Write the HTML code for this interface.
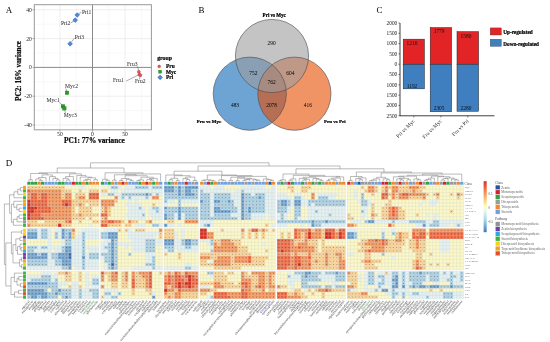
<!DOCTYPE html>
<html><head><meta charset="utf-8"><style>
html,body{margin:0;padding:0;background:#fff;}
body{width:550px;height:342px;overflow:hidden;}
svg{display:block;font-family:'Liberation Serif', serif;will-change:transform;}
text[font-weight=bold]{stroke:#000;stroke-width:0.22px;}
.lbl{stroke:#000;stroke-width:0.25px;}
</style></head><body>
<svg width="550" height="342" viewBox="0 0 550 342">
<rect width="550" height="342" fill="#fff"/>
<rect x="34.3" y="4.7" width="117.10000000000001" height="125.10000000000001" fill="#fff"/>
<line x1="43.60" y1="4.7" x2="43.60" y2="129.8" stroke="#f0f0f0" stroke-width="0.5"/>
<line x1="76.20" y1="4.7" x2="76.20" y2="129.8" stroke="#f0f0f0" stroke-width="0.5"/>
<line x1="108.80" y1="4.7" x2="108.80" y2="129.8" stroke="#f0f0f0" stroke-width="0.5"/>
<line x1="141.40" y1="4.7" x2="141.40" y2="129.8" stroke="#f0f0f0" stroke-width="0.5"/>
<line x1="59.90" y1="4.7" x2="59.90" y2="129.8" stroke="#e6e6e6" stroke-width="0.7"/>
<line x1="125.10" y1="4.7" x2="125.10" y2="129.8" stroke="#e6e6e6" stroke-width="0.7"/>
<line x1="34.3" y1="24.20" x2="151.4" y2="24.20" stroke="#f0f0f0" stroke-width="0.5"/>
<line x1="34.3" y1="53.00" x2="151.4" y2="53.00" stroke="#f0f0f0" stroke-width="0.5"/>
<line x1="34.3" y1="81.80" x2="151.4" y2="81.80" stroke="#f0f0f0" stroke-width="0.5"/>
<line x1="34.3" y1="110.60" x2="151.4" y2="110.60" stroke="#f0f0f0" stroke-width="0.5"/>
<line x1="34.3" y1="9.80" x2="151.4" y2="9.80" stroke="#e6e6e6" stroke-width="0.7"/>
<line x1="34.3" y1="38.60" x2="151.4" y2="38.60" stroke="#e6e6e6" stroke-width="0.7"/>
<line x1="34.3" y1="96.20" x2="151.4" y2="96.20" stroke="#e6e6e6" stroke-width="0.7"/>
<line x1="34.3" y1="125.00" x2="151.4" y2="125.00" stroke="#e6e6e6" stroke-width="0.7"/>
<line x1="92.5" y1="4.7" x2="92.5" y2="129.8" stroke="#8a8a8a" stroke-width="1"/>
<line x1="34.3" y1="67.4" x2="151.4" y2="67.4" stroke="#8a8a8a" stroke-width="1"/>
<rect x="34.3" y="4.7" width="117.10000000000001" height="125.10000000000001" fill="none" stroke="#9a9a9a" stroke-width="1"/>
<line x1="32.5" y1="9.80" x2="34.3" y2="9.80" stroke="#555" stroke-width="0.5"/>
<text x="31.799999999999997" y="11.70" font-size="5.6" text-anchor="end" fill="#222">40</text>
<line x1="32.5" y1="38.60" x2="34.3" y2="38.60" stroke="#555" stroke-width="0.5"/>
<text x="31.799999999999997" y="40.50" font-size="5.6" text-anchor="end" fill="#222">20</text>
<line x1="32.5" y1="67.40" x2="34.3" y2="67.40" stroke="#555" stroke-width="0.5"/>
<text x="31.799999999999997" y="69.30" font-size="5.6" text-anchor="end" fill="#222">0</text>
<line x1="32.5" y1="96.20" x2="34.3" y2="96.20" stroke="#555" stroke-width="0.5"/>
<text x="31.799999999999997" y="98.10" font-size="5.6" text-anchor="end" fill="#222">-20</text>
<line x1="32.5" y1="125.00" x2="34.3" y2="125.00" stroke="#555" stroke-width="0.5"/>
<text x="31.799999999999997" y="126.90" font-size="5.6" text-anchor="end" fill="#222">-40</text>
<line x1="59.90" y1="129.8" x2="59.90" y2="131.60000000000002" stroke="#555" stroke-width="0.5"/>
<text x="59.90" y="135.70000000000002" font-size="5.6" text-anchor="middle" fill="#222">50</text>
<line x1="92.50" y1="129.8" x2="92.50" y2="131.60000000000002" stroke="#555" stroke-width="0.5"/>
<text x="92.50" y="135.70000000000002" font-size="5.6" text-anchor="middle" fill="#222">0</text>
<line x1="125.10" y1="129.8" x2="125.10" y2="131.60000000000002" stroke="#555" stroke-width="0.5"/>
<text x="125.10" y="135.70000000000002" font-size="5.6" text-anchor="middle" fill="#222">50</text>
<text x="94.4" y="143.4" font-size="7.3" font-weight="bold" text-anchor="middle" fill="#111">PC1: 77% variance</text>
<text transform="translate(20.9,71) rotate(-90)" x="0" y="0" font-size="7.2" font-weight="bold" text-anchor="middle" fill="#111">PC2: 16% variance</text>
<line x1="81.5" y1="12.3" x2="78.6" y2="13.6" stroke="#444" stroke-width="0.45"/>
<line x1="70.5" y1="23" x2="74.2" y2="21" stroke="#444" stroke-width="0.45"/>
<line x1="74.5" y1="38" x2="71.5" y2="42" stroke="#444" stroke-width="0.45"/>
<line x1="65.8" y1="88.5" x2="66.6" y2="91.2" stroke="#444" stroke-width="0.45"/>
<line x1="59.5" y1="102.5" x2="62.3" y2="105" stroke="#444" stroke-width="0.45"/>
<line x1="65.5" y1="113.5" x2="64.8" y2="110.5" stroke="#444" stroke-width="0.45"/>
<line x1="137.3" y1="66.5" x2="138.8" y2="70.5" stroke="#444" stroke-width="0.45"/>
<line x1="126.2" y1="81" x2="138.8" y2="74.8" stroke="#444" stroke-width="0.45"/>
<line x1="139.5" y1="79.5" x2="140" y2="76" stroke="#444" stroke-width="0.45"/>
<path d="M77.2 12.65 L79.55 15.0 L77.2 17.35 L74.85000000000001 15.0 Z" fill="#4a8ae0" stroke="#24509a" stroke-width="0.5"/>
<path d="M75.2 17.75 L77.55 20.1 L75.2 22.450000000000003 L72.85000000000001 20.1 Z" fill="#4a8ae0" stroke="#24509a" stroke-width="0.5"/>
<path d="M70.1 41.449999999999996 L72.44999999999999 43.8 L70.1 46.15 L67.75 43.8 Z" fill="#4a8ae0" stroke="#24509a" stroke-width="0.5"/>
<rect x="65.2" y="91.0" width="3.6" height="3.6" fill="#22a022" stroke="#157015" stroke-width="0.3"/>
<rect x="61.2" y="104.5" width="3.6" height="3.6" fill="#22a022" stroke="#157015" stroke-width="0.3"/>
<rect x="62.5" y="106.5" width="3.6" height="3.6" fill="#22a022" stroke="#157015" stroke-width="0.3"/>
<circle cx="138.8" cy="71.8" r="1.5" fill="#e05a5a" stroke="#a83030" stroke-width="0.4"/>
<circle cx="139.4" cy="74.6" r="1.5" fill="#e05a5a" stroke="#a83030" stroke-width="0.4"/>
<circle cx="140.4" cy="75.2" r="1.5" fill="#e05a5a" stroke="#a83030" stroke-width="0.4"/>
<text x="82" y="14.4" font-size="5.6" fill="#1a1a1a">Pri1</text>
<text x="61" y="24.8" font-size="5.6" fill="#1a1a1a">Pri2</text>
<text x="74.7" y="38.6" font-size="5.6" fill="#1a1a1a">Pri3</text>
<text x="65" y="88" font-size="5.6" fill="#1a1a1a">Myc2</text>
<text x="46.6" y="101.8" font-size="5.6" fill="#1a1a1a">Myc1</text>
<text x="63.7" y="117.4" font-size="5.6" fill="#1a1a1a">Myc3</text>
<text x="127" y="65.8" font-size="5.6" fill="#1a1a1a">Fru3</text>
<text x="113" y="82.4" font-size="5.6" fill="#1a1a1a">Fru1</text>
<text x="135" y="83.4" font-size="5.6" fill="#1a1a1a">Fru2</text>
<text x="157.2" y="60" font-size="5.8" font-weight="bold" fill="#111">group</text>
<circle cx="159.2" cy="66.4" r="1.4" fill="#e05a5a" stroke="#a83030" stroke-width="0.4"/>
<rect x="158.6" y="70.2" width="3.0" height="3.0" fill="#22a022" stroke="#157015" stroke-width="0.3"/>
<path d="M160.1 75.10000000000001 L162.4 77.4 L160.1 79.7 L157.79999999999998 77.4 Z" fill="#4a8ae0" stroke="#24509a" stroke-width="0.5"/>
<text x="166" y="68.2" font-size="5.4" font-weight="bold" fill="#111">Fru</text>
<text x="166" y="73.5" font-size="5.4" font-weight="bold" fill="#111">Myc</text>
<text x="166" y="79.2" font-size="5.4" font-weight="bold" fill="#111">Pri</text>
<text x="5.8" y="13.2" font-size="9" fill="#000">A</text>
<text x="198.6" y="13.3" font-size="9" fill="#000">B</text>
<circle cx="249.8" cy="93.7" r="36.6" fill="#0d67b7" fill-opacity="0.6"/>
<circle cx="294.4" cy="93.7" r="36.6" fill="#e64d00" fill-opacity="0.6"/>
<circle cx="272.0" cy="56.0" r="36.6" fill="#9d9d9d" fill-opacity="0.6"/>
<circle cx="249.8" cy="93.7" r="36.6" fill="none" stroke="#4a4a4a" stroke-width="0.6"/>
<circle cx="294.4" cy="93.7" r="36.6" fill="none" stroke="#4a4a4a" stroke-width="0.6"/>
<circle cx="272.0" cy="56.0" r="36.6" fill="none" stroke="#4a4a4a" stroke-width="0.6"/>
<text x="271.6" y="44.5" font-size="5.4" text-anchor="middle" fill="#000">290</text>
<text x="253.4" y="75.30000000000001" font-size="5.4" text-anchor="middle" fill="#000">752</text>
<text x="290.3" y="74.5" font-size="5.4" text-anchor="middle" fill="#000">604</text>
<text x="271.6" y="84.10000000000001" font-size="5.4" text-anchor="middle" fill="#000">762</text>
<text x="235.0" y="106.80000000000001" font-size="5.4" text-anchor="middle" fill="#000">483</text>
<text x="271.6" y="107.10000000000001" font-size="5.4" text-anchor="middle" fill="#000">2078</text>
<text x="307.9" y="107.10000000000001" font-size="5.4" text-anchor="middle" fill="#000">416</text>
<text x="274.2" y="16.6" font-size="5.05" font-weight="bold" text-anchor="middle" fill="#000">Pri vs Myc</text>
<text x="196.8" y="123.1" font-size="5.0" font-weight="bold" fill="#000">Fru vs Myc</text>
<text x="324.0" y="123.1" font-size="5.0" font-weight="bold" fill="#000">Fru vs Pri</text>
<text x="376.6" y="13.3" font-size="9" fill="#000">C</text>
<line x1="400.0" y1="22.999999999999993" x2="400.0" y2="116.08999999999999" stroke="#111" stroke-width="0.8"/>
<line x1="400.0" y1="115.78999999999999" x2="494.5" y2="115.78999999999999" stroke="#111" stroke-width="0.8"/>
<line x1="398.4" y1="23.00" x2="400.0" y2="23.00" stroke="#111" stroke-width="0.5"/>
<text x="397.2" y="24.80" font-size="5.3" text-anchor="end" fill="#111">2000</text>
<line x1="398.4" y1="33.31" x2="400.0" y2="33.31" stroke="#111" stroke-width="0.5"/>
<text x="397.2" y="35.11" font-size="5.3" text-anchor="end" fill="#111">1500</text>
<line x1="398.4" y1="43.62" x2="400.0" y2="43.62" stroke="#111" stroke-width="0.5"/>
<text x="397.2" y="45.42" font-size="5.3" text-anchor="end" fill="#111">1000</text>
<line x1="398.4" y1="53.93" x2="400.0" y2="53.93" stroke="#111" stroke-width="0.5"/>
<text x="397.2" y="55.73" font-size="5.3" text-anchor="end" fill="#111">500</text>
<line x1="398.4" y1="64.24" x2="400.0" y2="64.24" stroke="#111" stroke-width="0.5"/>
<text x="397.2" y="66.04" font-size="5.3" text-anchor="end" fill="#111">0</text>
<line x1="398.4" y1="74.55" x2="400.0" y2="74.55" stroke="#111" stroke-width="0.5"/>
<text x="397.2" y="76.35" font-size="5.3" text-anchor="end" fill="#111">500</text>
<line x1="398.4" y1="84.86" x2="400.0" y2="84.86" stroke="#111" stroke-width="0.5"/>
<text x="397.2" y="86.66" font-size="5.3" text-anchor="end" fill="#111">1000</text>
<line x1="398.4" y1="95.17" x2="400.0" y2="95.17" stroke="#111" stroke-width="0.5"/>
<text x="397.2" y="96.97" font-size="5.3" text-anchor="end" fill="#111">1500</text>
<line x1="398.4" y1="105.48" x2="400.0" y2="105.48" stroke="#111" stroke-width="0.5"/>
<text x="397.2" y="107.28" font-size="5.3" text-anchor="end" fill="#111">2000</text>
<line x1="398.4" y1="115.79" x2="400.0" y2="115.79" stroke="#111" stroke-width="0.5"/>
<text x="397.2" y="117.59" font-size="5.3" text-anchor="end" fill="#111">2500</text>
<rect x="403.2" y="39.17" width="21.19999999999999" height="25.07" fill="#e32426" stroke="#222" stroke-width="0.5"/>
<rect x="403.2" y="64.24" width="21.19999999999999" height="24.58" fill="#3f7fc0" stroke="#222" stroke-width="0.5"/>
<text x="412.00" y="45.07" font-size="5.4" text-anchor="middle" fill="#111">1216</text>
<text x="412.00" y="87.52" font-size="5.4" text-anchor="middle" fill="#111">1192</text>
<line x1="413.80" y1="115.78999999999999" x2="413.80" y2="117.49" stroke="#111" stroke-width="0.5"/>
<rect x="430.2" y="27.56" width="21.400000000000034" height="36.68" fill="#e32426" stroke="#222" stroke-width="0.5"/>
<rect x="430.2" y="64.24" width="21.400000000000034" height="47.53" fill="#3f7fc0" stroke="#222" stroke-width="0.5"/>
<text x="439.10" y="33.46" font-size="5.4" text-anchor="middle" fill="#111">1779</text>
<text x="439.10" y="110.47" font-size="5.4" text-anchor="middle" fill="#111">2305</text>
<line x1="440.90" y1="115.78999999999999" x2="440.90" y2="117.49" stroke="#111" stroke-width="0.5"/>
<rect x="457.0" y="31.66" width="21.600000000000023" height="32.58" fill="#e32426" stroke="#222" stroke-width="0.5"/>
<rect x="457.0" y="64.24" width="21.600000000000023" height="47.01" fill="#3f7fc0" stroke="#222" stroke-width="0.5"/>
<text x="466.00" y="37.56" font-size="5.4" text-anchor="middle" fill="#111">1580</text>
<text x="466.00" y="109.95" font-size="5.4" text-anchor="middle" fill="#111">2280</text>
<line x1="467.80" y1="115.78999999999999" x2="467.80" y2="117.49" stroke="#111" stroke-width="0.5"/>
<text transform="translate(415.00,121.4) rotate(-45)" x="0" y="0" font-size="5.4" text-anchor="end" fill="#222">Pri vs Myc</text>
<text transform="translate(442.10,121.4) rotate(-45)" x="0" y="0" font-size="5.4" text-anchor="end" fill="#222">Fru vs Myc</text>
<text transform="translate(469.00,121.4) rotate(-45)" x="0" y="0" font-size="5.4" text-anchor="end" fill="#222">Fru vs Pri</text>
<rect x="490.2" y="27.9" width="11.2" height="7.1" fill="#e32426" stroke="#333" stroke-width="0.3"/>
<rect x="490.2" y="39.2" width="11.2" height="7.2" fill="#3f7fc0" stroke="#333" stroke-width="0.3"/>
<text x="503.3" y="34.3" font-size="5.2" font-weight="bold" fill="#111">Up-regulated</text>
<text x="503.3" y="45.5" font-size="5.2" font-weight="bold" fill="#111">Down-regulated</text>
<text x="5.8" y="166.4" font-size="9" fill="#000">D</text>
<path fill="#4a78b8" d="M68.24 252.61h3.42v3.43h-3.42zM68.24 256.04h3.42v3.43h-3.42zM111.03 262.90h3.42v3.43h-3.42z"/>
<path fill="#78a8d2" d="M27.20 232.03h3.42v3.43h-3.42zM27.20 235.46h3.42v3.43h-3.42zM27.20 252.61h3.42v3.43h-3.42zM27.20 256.04h3.42v3.43h-3.42zM27.20 281.69h3.42v3.43h-3.42zM27.20 288.55h3.42v3.43h-3.42zM27.20 291.98h3.42v3.43h-3.42zM30.62 232.03h3.42v3.43h-3.42zM30.62 235.46h3.42v3.43h-3.42zM30.62 252.61h3.42v3.43h-3.42zM30.62 256.04h3.42v3.43h-3.42zM30.62 281.69h3.42v3.43h-3.42zM30.62 288.55h3.42v3.43h-3.42zM30.62 291.98h3.42v3.43h-3.42zM30.62 295.41h3.42v3.43h-3.42zM34.04 232.03h3.42v3.43h-3.42zM34.04 235.46h3.42v3.43h-3.42zM34.04 252.61h3.42v3.43h-3.42zM34.04 256.04h3.42v3.43h-3.42zM34.04 281.69h3.42v3.43h-3.42zM34.04 288.55h3.42v3.43h-3.42zM34.04 291.98h3.42v3.43h-3.42zM34.04 295.41h3.42v3.43h-3.42zM37.46 256.04h3.42v3.43h-3.42zM37.46 281.69h3.42v3.43h-3.42zM37.46 288.55h3.42v3.43h-3.42zM37.46 291.98h3.42v3.43h-3.42zM40.88 252.61h3.42v3.43h-3.42zM40.88 256.04h3.42v3.43h-3.42zM40.88 281.69h3.42v3.43h-3.42zM40.88 288.55h3.42v3.43h-3.42zM40.88 291.98h3.42v3.43h-3.42zM40.88 295.41h3.42v3.43h-3.42zM44.30 252.61h3.42v3.43h-3.42zM44.30 256.04h3.42v3.43h-3.42zM44.30 281.69h3.42v3.43h-3.42zM44.30 291.98h3.42v3.43h-3.42zM44.30 295.41h3.42v3.43h-3.42zM54.56 291.98h3.42v3.43h-3.42zM57.98 252.61h3.42v3.43h-3.42zM57.98 256.04h3.42v3.43h-3.42zM57.98 288.55h3.42v3.43h-3.42zM61.40 228.60h3.42v3.43h-3.42zM61.40 232.03h3.42v3.43h-3.42zM61.40 235.46h3.42v3.43h-3.42zM61.40 252.61h3.42v3.43h-3.42zM61.40 256.04h3.42v3.43h-3.42zM61.40 259.47h3.42v3.43h-3.42zM61.40 262.90h3.42v3.43h-3.42zM64.82 245.75h3.42v3.43h-3.42zM64.82 249.18h3.42v3.43h-3.42zM64.82 252.61h3.42v3.43h-3.42zM64.82 256.04h3.42v3.43h-3.42zM64.82 259.47h3.42v3.43h-3.42zM64.82 262.90h3.42v3.43h-3.42zM64.82 295.41h3.42v3.43h-3.42zM68.24 232.03h3.42v3.43h-3.42zM68.24 235.46h3.42v3.43h-3.42zM68.24 245.75h3.42v3.43h-3.42zM68.24 249.18h3.42v3.43h-3.42zM68.24 259.47h3.42v3.43h-3.42zM68.24 262.90h3.42v3.43h-3.42zM68.24 266.33h3.42v3.43h-3.42zM81.92 256.04h3.42v3.43h-3.42zM107.61 232.03h3.42v3.43h-3.42zM107.61 235.46h3.42v3.43h-3.42zM111.03 232.03h3.42v3.43h-3.42zM111.03 235.46h3.42v3.43h-3.42zM111.03 238.89h3.42v3.43h-3.42zM111.03 242.32h3.42v3.43h-3.42zM111.03 245.75h3.42v3.43h-3.42zM111.03 249.18h3.42v3.43h-3.42zM111.03 252.61h3.42v3.43h-3.42zM111.03 256.04h3.42v3.43h-3.42zM111.03 259.47h3.42v3.43h-3.42zM111.03 266.33h3.42v3.43h-3.42zM114.45 232.03h3.42v3.43h-3.42zM114.45 235.46h3.42v3.43h-3.42zM145.23 192.66h3.42v3.43h-3.42zM152.07 295.41h3.42v3.43h-3.42zM164.08 185.80h3.42v3.43h-3.42zM164.08 189.23h3.42v3.43h-3.42zM164.08 206.38h3.42v3.43h-3.42zM164.08 213.24h3.42v3.43h-3.42zM164.08 216.67h3.42v3.43h-3.42zM164.08 223.53h3.42v3.43h-3.42zM164.08 238.89h3.42v3.43h-3.42zM164.08 242.32h3.42v3.43h-3.42zM167.50 185.80h3.42v3.43h-3.42zM167.50 189.23h3.42v3.43h-3.42zM167.50 238.89h3.42v3.43h-3.42zM167.50 242.32h3.42v3.43h-3.42zM170.92 185.80h3.42v3.43h-3.42zM170.92 189.23h3.42v3.43h-3.42zM170.92 238.89h3.42v3.43h-3.42zM170.92 242.32h3.42v3.43h-3.42zM177.76 185.80h3.42v3.43h-3.42zM177.76 189.23h3.42v3.43h-3.42zM177.76 192.66h3.42v3.43h-3.42zM177.76 206.38h3.42v3.43h-3.42zM177.76 209.81h3.42v3.43h-3.42zM177.76 213.24h3.42v3.43h-3.42zM177.76 216.67h3.42v3.43h-3.42zM184.60 185.80h3.42v3.43h-3.42zM184.60 189.23h3.42v3.43h-3.42zM184.60 192.66h3.42v3.43h-3.42zM184.60 238.89h3.42v3.43h-3.42zM184.60 242.32h3.42v3.43h-3.42zM188.02 185.80h3.42v3.43h-3.42zM188.02 189.23h3.42v3.43h-3.42zM188.02 192.66h3.42v3.43h-3.42zM188.02 238.89h3.42v3.43h-3.42zM188.02 242.32h3.42v3.43h-3.42zM191.44 185.80h3.42v3.43h-3.42zM191.44 192.66h3.42v3.43h-3.42zM194.86 185.80h3.42v3.43h-3.42zM200.03 199.52h3.42v3.43h-3.42zM206.87 223.53h3.42v3.43h-3.42zM213.71 199.52h3.42v3.43h-3.42zM213.71 206.38h3.42v3.43h-3.42zM213.71 209.81h3.42v3.43h-3.42zM217.13 199.52h3.42v3.43h-3.42zM217.13 206.38h3.42v3.43h-3.42zM217.13 209.81h3.42v3.43h-3.42zM220.55 209.81h3.42v3.43h-3.42zM223.97 209.81h3.42v3.43h-3.42zM227.39 199.52h3.42v3.43h-3.42zM227.39 209.81h3.42v3.43h-3.42zM241.07 192.66h3.42v3.43h-3.42zM241.07 196.09h3.42v3.43h-3.42zM241.07 199.52h3.42v3.43h-3.42zM241.07 202.95h3.42v3.43h-3.42zM241.07 206.38h3.42v3.43h-3.42zM241.07 209.81h3.42v3.43h-3.42zM241.07 213.24h3.42v3.43h-3.42zM241.07 216.67h3.42v3.43h-3.42zM247.91 206.38h3.42v3.43h-3.42zM247.91 209.81h3.42v3.43h-3.42zM258.17 196.09h3.42v3.43h-3.42zM280.44 199.52h3.42v3.43h-3.42zM280.44 202.95h3.42v3.43h-3.42zM283.86 199.52h3.42v3.43h-3.42zM283.86 202.95h3.42v3.43h-3.42zM294.12 199.52h3.42v3.43h-3.42zM294.12 202.95h3.42v3.43h-3.42zM297.54 199.52h3.42v3.43h-3.42zM297.54 202.95h3.42v3.43h-3.42zM304.38 271.40h3.42v3.43h-3.42zM304.38 274.83h3.42v3.43h-3.42zM307.80 271.40h3.42v3.43h-3.42zM311.22 220.10h3.42v3.43h-3.42zM311.22 223.53h3.42v3.43h-3.42zM324.90 220.10h3.42v3.43h-3.42zM335.16 271.40h3.42v3.43h-3.42zM347.17 232.03h3.42v3.43h-3.42zM347.17 235.46h3.42v3.43h-3.42zM350.59 232.03h3.42v3.43h-3.42zM350.59 235.46h3.42v3.43h-3.42zM367.69 220.10h3.42v3.43h-3.42zM371.11 220.10h3.42v3.43h-3.42zM381.37 288.55h3.42v3.43h-3.42zM384.79 288.55h3.42v3.43h-3.42zM391.63 278.26h3.42v3.43h-3.42zM391.63 285.12h3.42v3.43h-3.42zM395.05 274.83h3.42v3.43h-3.42zM395.05 278.26h3.42v3.43h-3.42zM395.05 281.69h3.42v3.43h-3.42zM395.05 285.12h3.42v3.43h-3.42zM401.89 285.12h3.42v3.43h-3.42zM412.15 285.12h3.42v3.43h-3.42zM418.99 271.40h3.42v3.43h-3.42zM418.99 285.12h3.42v3.43h-3.42zM422.41 223.53h3.42v3.43h-3.42zM422.41 285.12h3.42v3.43h-3.42zM429.25 285.12h3.42v3.43h-3.42zM432.67 285.12h3.42v3.43h-3.42zM436.09 285.12h3.42v3.43h-3.42zM449.77 285.12h3.42v3.43h-3.42z"/>
<path fill="#b0d4e6" d="M27.20 228.60h3.42v3.43h-3.42zM27.20 245.75h3.42v3.43h-3.42zM27.20 249.18h3.42v3.43h-3.42zM27.20 259.47h3.42v3.43h-3.42zM27.20 262.90h3.42v3.43h-3.42zM27.20 285.12h3.42v3.43h-3.42zM27.20 295.41h3.42v3.43h-3.42zM30.62 228.60h3.42v3.43h-3.42zM30.62 245.75h3.42v3.43h-3.42zM30.62 249.18h3.42v3.43h-3.42zM30.62 259.47h3.42v3.43h-3.42zM30.62 262.90h3.42v3.43h-3.42zM30.62 278.26h3.42v3.43h-3.42zM30.62 285.12h3.42v3.43h-3.42zM34.04 228.60h3.42v3.43h-3.42zM34.04 245.75h3.42v3.43h-3.42zM34.04 259.47h3.42v3.43h-3.42zM34.04 262.90h3.42v3.43h-3.42zM34.04 278.26h3.42v3.43h-3.42zM34.04 285.12h3.42v3.43h-3.42zM37.46 252.61h3.42v3.43h-3.42zM37.46 259.47h3.42v3.43h-3.42zM37.46 262.90h3.42v3.43h-3.42zM37.46 278.26h3.42v3.43h-3.42zM37.46 285.12h3.42v3.43h-3.42zM37.46 295.41h3.42v3.43h-3.42zM40.88 228.60h3.42v3.43h-3.42zM40.88 232.03h3.42v3.43h-3.42zM40.88 235.46h3.42v3.43h-3.42zM40.88 245.75h3.42v3.43h-3.42zM40.88 259.47h3.42v3.43h-3.42zM40.88 262.90h3.42v3.43h-3.42zM40.88 274.83h3.42v3.43h-3.42zM40.88 278.26h3.42v3.43h-3.42zM40.88 285.12h3.42v3.43h-3.42zM44.30 228.60h3.42v3.43h-3.42zM44.30 232.03h3.42v3.43h-3.42zM44.30 235.46h3.42v3.43h-3.42zM44.30 245.75h3.42v3.43h-3.42zM44.30 259.47h3.42v3.43h-3.42zM44.30 262.90h3.42v3.43h-3.42zM44.30 274.83h3.42v3.43h-3.42zM44.30 278.26h3.42v3.43h-3.42zM44.30 285.12h3.42v3.43h-3.42zM44.30 288.55h3.42v3.43h-3.42zM47.72 274.83h3.42v3.43h-3.42zM47.72 278.26h3.42v3.43h-3.42zM47.72 281.69h3.42v3.43h-3.42zM47.72 285.12h3.42v3.43h-3.42zM47.72 291.98h3.42v3.43h-3.42zM47.72 295.41h3.42v3.43h-3.42zM51.14 252.61h3.42v3.43h-3.42zM51.14 256.04h3.42v3.43h-3.42zM51.14 281.69h3.42v3.43h-3.42zM51.14 285.12h3.42v3.43h-3.42zM51.14 288.55h3.42v3.43h-3.42zM51.14 291.98h3.42v3.43h-3.42zM51.14 295.41h3.42v3.43h-3.42zM54.56 232.03h3.42v3.43h-3.42zM54.56 235.46h3.42v3.43h-3.42zM54.56 252.61h3.42v3.43h-3.42zM54.56 256.04h3.42v3.43h-3.42zM54.56 259.47h3.42v3.43h-3.42zM54.56 262.90h3.42v3.43h-3.42zM54.56 278.26h3.42v3.43h-3.42zM54.56 281.69h3.42v3.43h-3.42zM54.56 285.12h3.42v3.43h-3.42zM54.56 288.55h3.42v3.43h-3.42zM54.56 295.41h3.42v3.43h-3.42zM57.98 259.47h3.42v3.43h-3.42zM57.98 262.90h3.42v3.43h-3.42zM57.98 291.98h3.42v3.43h-3.42zM61.40 245.75h3.42v3.43h-3.42zM61.40 249.18h3.42v3.43h-3.42zM61.40 266.33h3.42v3.43h-3.42zM61.40 288.55h3.42v3.43h-3.42zM61.40 291.98h3.42v3.43h-3.42zM61.40 295.41h3.42v3.43h-3.42zM64.82 228.60h3.42v3.43h-3.42zM64.82 232.03h3.42v3.43h-3.42zM64.82 235.46h3.42v3.43h-3.42zM64.82 238.89h3.42v3.43h-3.42zM64.82 242.32h3.42v3.43h-3.42zM64.82 266.33h3.42v3.43h-3.42zM64.82 288.55h3.42v3.43h-3.42zM64.82 291.98h3.42v3.43h-3.42zM68.24 228.60h3.42v3.43h-3.42zM68.24 238.89h3.42v3.43h-3.42zM68.24 242.32h3.42v3.43h-3.42zM68.24 288.55h3.42v3.43h-3.42zM68.24 291.98h3.42v3.43h-3.42zM68.24 295.41h3.42v3.43h-3.42zM78.50 288.55h3.42v3.43h-3.42zM78.50 291.98h3.42v3.43h-3.42zM78.50 295.41h3.42v3.43h-3.42zM81.92 232.03h3.42v3.43h-3.42zM81.92 235.46h3.42v3.43h-3.42zM81.92 238.89h3.42v3.43h-3.42zM81.92 242.32h3.42v3.43h-3.42zM81.92 245.75h3.42v3.43h-3.42zM81.92 249.18h3.42v3.43h-3.42zM81.92 252.61h3.42v3.43h-3.42zM81.92 259.47h3.42v3.43h-3.42zM81.92 262.90h3.42v3.43h-3.42zM81.92 266.33h3.42v3.43h-3.42zM88.76 252.61h3.42v3.43h-3.42zM88.76 256.04h3.42v3.43h-3.42zM88.76 288.55h3.42v3.43h-3.42zM92.18 252.61h3.42v3.43h-3.42zM92.18 256.04h3.42v3.43h-3.42zM92.18 278.26h3.42v3.43h-3.42zM92.18 281.69h3.42v3.43h-3.42zM92.18 288.55h3.42v3.43h-3.42zM92.18 291.98h3.42v3.43h-3.42zM92.18 295.41h3.42v3.43h-3.42zM95.60 252.61h3.42v3.43h-3.42zM95.60 256.04h3.42v3.43h-3.42zM95.60 278.26h3.42v3.43h-3.42zM95.60 281.69h3.42v3.43h-3.42zM95.60 288.55h3.42v3.43h-3.42zM95.60 291.98h3.42v3.43h-3.42zM95.60 295.41h3.42v3.43h-3.42zM100.77 232.03h3.42v3.43h-3.42zM100.77 235.46h3.42v3.43h-3.42zM100.77 252.61h3.42v3.43h-3.42zM104.19 232.03h3.42v3.43h-3.42zM104.19 235.46h3.42v3.43h-3.42zM104.19 245.75h3.42v3.43h-3.42zM104.19 252.61h3.42v3.43h-3.42zM104.19 256.04h3.42v3.43h-3.42zM104.19 259.47h3.42v3.43h-3.42zM104.19 291.98h3.42v3.43h-3.42zM107.61 192.66h3.42v3.43h-3.42zM107.61 242.32h3.42v3.43h-3.42zM107.61 245.75h3.42v3.43h-3.42zM107.61 249.18h3.42v3.43h-3.42zM107.61 252.61h3.42v3.43h-3.42zM107.61 256.04h3.42v3.43h-3.42zM107.61 259.47h3.42v3.43h-3.42zM107.61 262.90h3.42v3.43h-3.42zM107.61 266.33h3.42v3.43h-3.42zM107.61 291.98h3.42v3.43h-3.42zM111.03 185.80h3.42v3.43h-3.42zM111.03 192.66h3.42v3.43h-3.42zM111.03 295.41h3.42v3.43h-3.42zM114.45 185.80h3.42v3.43h-3.42zM114.45 238.89h3.42v3.43h-3.42zM114.45 242.32h3.42v3.43h-3.42zM114.45 245.75h3.42v3.43h-3.42zM114.45 249.18h3.42v3.43h-3.42zM114.45 252.61h3.42v3.43h-3.42zM114.45 256.04h3.42v3.43h-3.42zM114.45 259.47h3.42v3.43h-3.42zM114.45 262.90h3.42v3.43h-3.42zM114.45 266.33h3.42v3.43h-3.42zM114.45 295.41h3.42v3.43h-3.42zM117.87 291.98h3.42v3.43h-3.42zM121.29 192.66h3.42v3.43h-3.42zM121.29 196.09h3.42v3.43h-3.42zM124.71 192.66h3.42v3.43h-3.42zM128.13 192.66h3.42v3.43h-3.42zM128.13 196.09h3.42v3.43h-3.42zM128.13 252.61h3.42v3.43h-3.42zM131.55 192.66h3.42v3.43h-3.42zM134.97 185.80h3.42v3.43h-3.42zM134.97 192.66h3.42v3.43h-3.42zM138.39 185.80h3.42v3.43h-3.42zM138.39 192.66h3.42v3.43h-3.42zM138.39 206.38h3.42v3.43h-3.42zM141.81 185.80h3.42v3.43h-3.42zM141.81 192.66h3.42v3.43h-3.42zM141.81 213.24h3.42v3.43h-3.42zM145.23 185.80h3.42v3.43h-3.42zM145.23 196.09h3.42v3.43h-3.42zM145.23 238.89h3.42v3.43h-3.42zM145.23 242.32h3.42v3.43h-3.42zM145.23 245.75h3.42v3.43h-3.42zM145.23 249.18h3.42v3.43h-3.42zM145.23 262.90h3.42v3.43h-3.42zM148.65 192.66h3.42v3.43h-3.42zM148.65 238.89h3.42v3.43h-3.42zM148.65 242.32h3.42v3.43h-3.42zM148.65 245.75h3.42v3.43h-3.42zM148.65 249.18h3.42v3.43h-3.42zM148.65 262.90h3.42v3.43h-3.42zM152.07 185.80h3.42v3.43h-3.42zM152.07 206.38h3.42v3.43h-3.42zM152.07 223.53h3.42v3.43h-3.42zM152.07 238.89h3.42v3.43h-3.42zM152.07 242.32h3.42v3.43h-3.42zM152.07 245.75h3.42v3.43h-3.42zM152.07 249.18h3.42v3.43h-3.42zM152.07 256.04h3.42v3.43h-3.42zM152.07 259.47h3.42v3.43h-3.42zM152.07 262.90h3.42v3.43h-3.42zM152.07 266.33h3.42v3.43h-3.42zM155.49 185.80h3.42v3.43h-3.42zM155.49 192.66h3.42v3.43h-3.42zM155.49 206.38h3.42v3.43h-3.42zM155.49 209.81h3.42v3.43h-3.42zM155.49 223.53h3.42v3.43h-3.42zM158.91 185.80h3.42v3.43h-3.42zM164.08 192.66h3.42v3.43h-3.42zM164.08 196.09h3.42v3.43h-3.42zM164.08 199.52h3.42v3.43h-3.42zM164.08 209.81h3.42v3.43h-3.42zM164.08 245.75h3.42v3.43h-3.42zM167.50 192.66h3.42v3.43h-3.42zM167.50 196.09h3.42v3.43h-3.42zM167.50 206.38h3.42v3.43h-3.42zM167.50 209.81h3.42v3.43h-3.42zM167.50 213.24h3.42v3.43h-3.42zM167.50 216.67h3.42v3.43h-3.42zM167.50 245.75h3.42v3.43h-3.42zM167.50 249.18h3.42v3.43h-3.42zM170.92 192.66h3.42v3.43h-3.42zM170.92 196.09h3.42v3.43h-3.42zM170.92 206.38h3.42v3.43h-3.42zM170.92 209.81h3.42v3.43h-3.42zM170.92 213.24h3.42v3.43h-3.42zM170.92 216.67h3.42v3.43h-3.42zM170.92 245.75h3.42v3.43h-3.42zM170.92 249.18h3.42v3.43h-3.42zM174.34 185.80h3.42v3.43h-3.42zM174.34 189.23h3.42v3.43h-3.42zM174.34 192.66h3.42v3.43h-3.42zM174.34 196.09h3.42v3.43h-3.42zM174.34 206.38h3.42v3.43h-3.42zM174.34 209.81h3.42v3.43h-3.42zM177.76 196.09h3.42v3.43h-3.42zM177.76 199.52h3.42v3.43h-3.42zM177.76 202.95h3.42v3.43h-3.42zM181.18 185.80h3.42v3.43h-3.42zM181.18 189.23h3.42v3.43h-3.42zM181.18 192.66h3.42v3.43h-3.42zM181.18 196.09h3.42v3.43h-3.42zM181.18 206.38h3.42v3.43h-3.42zM181.18 209.81h3.42v3.43h-3.42zM181.18 238.89h3.42v3.43h-3.42zM181.18 242.32h3.42v3.43h-3.42zM184.60 196.09h3.42v3.43h-3.42zM184.60 206.38h3.42v3.43h-3.42zM184.60 209.81h3.42v3.43h-3.42zM184.60 213.24h3.42v3.43h-3.42zM184.60 216.67h3.42v3.43h-3.42zM184.60 245.75h3.42v3.43h-3.42zM184.60 266.33h3.42v3.43h-3.42zM188.02 196.09h3.42v3.43h-3.42zM188.02 206.38h3.42v3.43h-3.42zM188.02 209.81h3.42v3.43h-3.42zM188.02 213.24h3.42v3.43h-3.42zM188.02 216.67h3.42v3.43h-3.42zM188.02 245.75h3.42v3.43h-3.42zM188.02 266.33h3.42v3.43h-3.42zM191.44 189.23h3.42v3.43h-3.42zM191.44 196.09h3.42v3.43h-3.42zM191.44 206.38h3.42v3.43h-3.42zM191.44 209.81h3.42v3.43h-3.42zM191.44 213.24h3.42v3.43h-3.42zM191.44 216.67h3.42v3.43h-3.42zM191.44 238.89h3.42v3.43h-3.42zM191.44 242.32h3.42v3.43h-3.42zM194.86 189.23h3.42v3.43h-3.42zM194.86 192.66h3.42v3.43h-3.42zM194.86 196.09h3.42v3.43h-3.42zM194.86 206.38h3.42v3.43h-3.42zM194.86 209.81h3.42v3.43h-3.42zM194.86 213.24h3.42v3.43h-3.42zM194.86 216.67h3.42v3.43h-3.42zM194.86 238.89h3.42v3.43h-3.42zM194.86 242.32h3.42v3.43h-3.42zM200.03 189.23h3.42v3.43h-3.42zM200.03 192.66h3.42v3.43h-3.42zM200.03 196.09h3.42v3.43h-3.42zM200.03 202.95h3.42v3.43h-3.42zM200.03 206.38h3.42v3.43h-3.42zM200.03 209.81h3.42v3.43h-3.42zM200.03 213.24h3.42v3.43h-3.42zM200.03 216.67h3.42v3.43h-3.42zM203.45 192.66h3.42v3.43h-3.42zM203.45 196.09h3.42v3.43h-3.42zM203.45 199.52h3.42v3.43h-3.42zM203.45 202.95h3.42v3.43h-3.42zM203.45 206.38h3.42v3.43h-3.42zM203.45 209.81h3.42v3.43h-3.42zM203.45 213.24h3.42v3.43h-3.42zM203.45 216.67h3.42v3.43h-3.42zM203.45 223.53h3.42v3.43h-3.42zM206.87 192.66h3.42v3.43h-3.42zM206.87 196.09h3.42v3.43h-3.42zM206.87 199.52h3.42v3.43h-3.42zM206.87 202.95h3.42v3.43h-3.42zM206.87 206.38h3.42v3.43h-3.42zM206.87 209.81h3.42v3.43h-3.42zM206.87 213.24h3.42v3.43h-3.42zM206.87 216.67h3.42v3.43h-3.42zM206.87 271.40h3.42v3.43h-3.42zM210.29 216.67h3.42v3.43h-3.42zM210.29 238.89h3.42v3.43h-3.42zM210.29 242.32h3.42v3.43h-3.42zM210.29 249.18h3.42v3.43h-3.42zM210.29 271.40h3.42v3.43h-3.42zM210.29 295.41h3.42v3.43h-3.42zM213.71 192.66h3.42v3.43h-3.42zM213.71 196.09h3.42v3.43h-3.42zM213.71 202.95h3.42v3.43h-3.42zM213.71 213.24h3.42v3.43h-3.42zM213.71 216.67h3.42v3.43h-3.42zM217.13 192.66h3.42v3.43h-3.42zM217.13 196.09h3.42v3.43h-3.42zM217.13 202.95h3.42v3.43h-3.42zM217.13 213.24h3.42v3.43h-3.42zM217.13 216.67h3.42v3.43h-3.42zM220.55 192.66h3.42v3.43h-3.42zM220.55 196.09h3.42v3.43h-3.42zM220.55 199.52h3.42v3.43h-3.42zM220.55 202.95h3.42v3.43h-3.42zM220.55 206.38h3.42v3.43h-3.42zM220.55 213.24h3.42v3.43h-3.42zM220.55 216.67h3.42v3.43h-3.42zM223.97 192.66h3.42v3.43h-3.42zM223.97 196.09h3.42v3.43h-3.42zM223.97 199.52h3.42v3.43h-3.42zM223.97 202.95h3.42v3.43h-3.42zM223.97 206.38h3.42v3.43h-3.42zM223.97 213.24h3.42v3.43h-3.42zM223.97 216.67h3.42v3.43h-3.42zM227.39 192.66h3.42v3.43h-3.42zM227.39 196.09h3.42v3.43h-3.42zM227.39 202.95h3.42v3.43h-3.42zM227.39 206.38h3.42v3.43h-3.42zM227.39 213.24h3.42v3.43h-3.42zM227.39 216.67h3.42v3.43h-3.42zM230.81 199.52h3.42v3.43h-3.42zM230.81 202.95h3.42v3.43h-3.42zM230.81 206.38h3.42v3.43h-3.42zM230.81 209.81h3.42v3.43h-3.42zM230.81 216.67h3.42v3.43h-3.42zM234.23 206.38h3.42v3.43h-3.42zM234.23 209.81h3.42v3.43h-3.42zM234.23 216.67h3.42v3.43h-3.42zM241.07 189.23h3.42v3.43h-3.42zM244.49 192.66h3.42v3.43h-3.42zM244.49 196.09h3.42v3.43h-3.42zM244.49 199.52h3.42v3.43h-3.42zM244.49 202.95h3.42v3.43h-3.42zM244.49 206.38h3.42v3.43h-3.42zM244.49 209.81h3.42v3.43h-3.42zM244.49 213.24h3.42v3.43h-3.42zM244.49 216.67h3.42v3.43h-3.42zM247.91 192.66h3.42v3.43h-3.42zM247.91 196.09h3.42v3.43h-3.42zM247.91 199.52h3.42v3.43h-3.42zM247.91 202.95h3.42v3.43h-3.42zM247.91 213.24h3.42v3.43h-3.42zM247.91 216.67h3.42v3.43h-3.42zM251.33 196.09h3.42v3.43h-3.42zM251.33 199.52h3.42v3.43h-3.42zM251.33 202.95h3.42v3.43h-3.42zM251.33 206.38h3.42v3.43h-3.42zM251.33 209.81h3.42v3.43h-3.42zM254.75 192.66h3.42v3.43h-3.42zM254.75 196.09h3.42v3.43h-3.42zM254.75 199.52h3.42v3.43h-3.42zM254.75 202.95h3.42v3.43h-3.42zM254.75 206.38h3.42v3.43h-3.42zM254.75 209.81h3.42v3.43h-3.42zM258.17 192.66h3.42v3.43h-3.42zM258.17 199.52h3.42v3.43h-3.42zM258.17 202.95h3.42v3.43h-3.42zM258.17 206.38h3.42v3.43h-3.42zM258.17 209.81h3.42v3.43h-3.42zM261.59 192.66h3.42v3.43h-3.42zM261.59 196.09h3.42v3.43h-3.42zM261.59 199.52h3.42v3.43h-3.42zM261.59 202.95h3.42v3.43h-3.42zM261.59 206.38h3.42v3.43h-3.42zM261.59 209.81h3.42v3.43h-3.42zM277.02 199.52h3.42v3.43h-3.42zM277.02 202.95h3.42v3.43h-3.42zM277.02 206.38h3.42v3.43h-3.42zM277.02 209.81h3.42v3.43h-3.42zM277.02 220.10h3.42v3.43h-3.42zM280.44 206.38h3.42v3.43h-3.42zM280.44 209.81h3.42v3.43h-3.42zM280.44 213.24h3.42v3.43h-3.42zM280.44 216.67h3.42v3.43h-3.42zM280.44 220.10h3.42v3.43h-3.42zM283.86 206.38h3.42v3.43h-3.42zM283.86 209.81h3.42v3.43h-3.42zM283.86 220.10h3.42v3.43h-3.42zM287.28 199.52h3.42v3.43h-3.42zM287.28 202.95h3.42v3.43h-3.42zM287.28 220.10h3.42v3.43h-3.42zM287.28 274.83h3.42v3.43h-3.42zM290.70 220.10h3.42v3.43h-3.42zM294.12 196.09h3.42v3.43h-3.42zM294.12 206.38h3.42v3.43h-3.42zM294.12 209.81h3.42v3.43h-3.42zM294.12 213.24h3.42v3.43h-3.42zM294.12 216.67h3.42v3.43h-3.42zM294.12 220.10h3.42v3.43h-3.42zM294.12 271.40h3.42v3.43h-3.42zM297.54 196.09h3.42v3.43h-3.42zM297.54 206.38h3.42v3.43h-3.42zM297.54 209.81h3.42v3.43h-3.42zM297.54 213.24h3.42v3.43h-3.42zM297.54 220.10h3.42v3.43h-3.42zM297.54 271.40h3.42v3.43h-3.42zM300.96 220.10h3.42v3.43h-3.42zM300.96 271.40h3.42v3.43h-3.42zM300.96 274.83h3.42v3.43h-3.42zM300.96 278.26h3.42v3.43h-3.42zM300.96 281.69h3.42v3.43h-3.42zM300.96 285.12h3.42v3.43h-3.42zM304.38 220.10h3.42v3.43h-3.42zM304.38 278.26h3.42v3.43h-3.42zM304.38 281.69h3.42v3.43h-3.42zM304.38 285.12h3.42v3.43h-3.42zM307.80 199.52h3.42v3.43h-3.42zM307.80 202.95h3.42v3.43h-3.42zM307.80 220.10h3.42v3.43h-3.42zM307.80 274.83h3.42v3.43h-3.42zM307.80 278.26h3.42v3.43h-3.42zM307.80 285.12h3.42v3.43h-3.42zM311.22 199.52h3.42v3.43h-3.42zM311.22 271.40h3.42v3.43h-3.42zM311.22 274.83h3.42v3.43h-3.42zM311.22 278.26h3.42v3.43h-3.42zM311.22 285.12h3.42v3.43h-3.42zM314.64 199.52h3.42v3.43h-3.42zM314.64 202.95h3.42v3.43h-3.42zM314.64 209.81h3.42v3.43h-3.42zM314.64 220.10h3.42v3.43h-3.42zM314.64 223.53h3.42v3.43h-3.42zM314.64 271.40h3.42v3.43h-3.42zM314.64 274.83h3.42v3.43h-3.42zM314.64 278.26h3.42v3.43h-3.42zM314.64 285.12h3.42v3.43h-3.42zM318.06 196.09h3.42v3.43h-3.42zM318.06 199.52h3.42v3.43h-3.42zM318.06 202.95h3.42v3.43h-3.42zM318.06 220.10h3.42v3.43h-3.42zM318.06 223.53h3.42v3.43h-3.42zM318.06 271.40h3.42v3.43h-3.42zM318.06 278.26h3.42v3.43h-3.42zM318.06 285.12h3.42v3.43h-3.42zM321.48 196.09h3.42v3.43h-3.42zM321.48 199.52h3.42v3.43h-3.42zM321.48 202.95h3.42v3.43h-3.42zM321.48 220.10h3.42v3.43h-3.42zM324.90 196.09h3.42v3.43h-3.42zM324.90 199.52h3.42v3.43h-3.42zM324.90 202.95h3.42v3.43h-3.42zM324.90 271.40h3.42v3.43h-3.42zM324.90 285.12h3.42v3.43h-3.42zM328.32 199.52h3.42v3.43h-3.42zM328.32 202.95h3.42v3.43h-3.42zM328.32 213.24h3.42v3.43h-3.42zM328.32 220.10h3.42v3.43h-3.42zM328.32 271.40h3.42v3.43h-3.42zM328.32 285.12h3.42v3.43h-3.42zM331.74 199.52h3.42v3.43h-3.42zM331.74 202.95h3.42v3.43h-3.42zM331.74 220.10h3.42v3.43h-3.42zM331.74 271.40h3.42v3.43h-3.42zM335.16 199.52h3.42v3.43h-3.42zM335.16 202.95h3.42v3.43h-3.42zM335.16 220.10h3.42v3.43h-3.42zM335.16 274.83h3.42v3.43h-3.42zM335.16 278.26h3.42v3.43h-3.42zM335.16 285.12h3.42v3.43h-3.42zM338.58 199.52h3.42v3.43h-3.42zM338.58 202.95h3.42v3.43h-3.42zM338.58 220.10h3.42v3.43h-3.42zM338.58 271.40h3.42v3.43h-3.42zM338.58 274.83h3.42v3.43h-3.42zM338.58 278.26h3.42v3.43h-3.42zM338.58 285.12h3.42v3.43h-3.42zM342.00 199.52h3.42v3.43h-3.42zM342.00 202.95h3.42v3.43h-3.42zM342.00 220.10h3.42v3.43h-3.42zM342.00 271.40h3.42v3.43h-3.42zM342.00 274.83h3.42v3.43h-3.42zM342.00 278.26h3.42v3.43h-3.42zM342.00 285.12h3.42v3.43h-3.42zM347.17 288.55h3.42v3.43h-3.42zM354.01 232.03h3.42v3.43h-3.42zM354.01 235.46h3.42v3.43h-3.42zM360.85 192.66h3.42v3.43h-3.42zM360.85 196.09h3.42v3.43h-3.42zM360.85 199.52h3.42v3.43h-3.42zM360.85 202.95h3.42v3.43h-3.42zM360.85 209.81h3.42v3.43h-3.42zM364.27 199.52h3.42v3.43h-3.42zM364.27 202.95h3.42v3.43h-3.42zM364.27 220.10h3.42v3.43h-3.42zM367.69 271.40h3.42v3.43h-3.42zM367.69 274.83h3.42v3.43h-3.42zM367.69 278.26h3.42v3.43h-3.42zM367.69 281.69h3.42v3.43h-3.42zM371.11 271.40h3.42v3.43h-3.42zM371.11 274.83h3.42v3.43h-3.42zM371.11 278.26h3.42v3.43h-3.42zM371.11 281.69h3.42v3.43h-3.42zM374.53 288.55h3.42v3.43h-3.42zM377.95 274.83h3.42v3.43h-3.42zM377.95 281.69h3.42v3.43h-3.42zM377.95 285.12h3.42v3.43h-3.42zM381.37 232.03h3.42v3.43h-3.42zM381.37 235.46h3.42v3.43h-3.42zM381.37 252.61h3.42v3.43h-3.42zM381.37 274.83h3.42v3.43h-3.42zM381.37 278.26h3.42v3.43h-3.42zM381.37 281.69h3.42v3.43h-3.42zM391.63 220.10h3.42v3.43h-3.42zM391.63 232.03h3.42v3.43h-3.42zM391.63 271.40h3.42v3.43h-3.42zM391.63 274.83h3.42v3.43h-3.42zM391.63 281.69h3.42v3.43h-3.42zM391.63 288.55h3.42v3.43h-3.42zM391.63 291.98h3.42v3.43h-3.42zM391.63 295.41h3.42v3.43h-3.42zM395.05 271.40h3.42v3.43h-3.42zM395.05 291.98h3.42v3.43h-3.42zM401.89 271.40h3.42v3.43h-3.42zM401.89 274.83h3.42v3.43h-3.42zM401.89 278.26h3.42v3.43h-3.42zM401.89 281.69h3.42v3.43h-3.42zM401.89 291.98h3.42v3.43h-3.42zM401.89 295.41h3.42v3.43h-3.42zM408.73 220.10h3.42v3.43h-3.42zM408.73 271.40h3.42v3.43h-3.42zM408.73 274.83h3.42v3.43h-3.42zM408.73 278.26h3.42v3.43h-3.42zM408.73 285.12h3.42v3.43h-3.42zM412.15 220.10h3.42v3.43h-3.42zM412.15 271.40h3.42v3.43h-3.42zM412.15 274.83h3.42v3.43h-3.42zM412.15 278.26h3.42v3.43h-3.42zM412.15 281.69h3.42v3.43h-3.42zM412.15 291.98h3.42v3.43h-3.42zM415.57 220.10h3.42v3.43h-3.42zM415.57 271.40h3.42v3.43h-3.42zM415.57 274.83h3.42v3.43h-3.42zM415.57 278.26h3.42v3.43h-3.42zM415.57 281.69h3.42v3.43h-3.42zM415.57 285.12h3.42v3.43h-3.42zM415.57 291.98h3.42v3.43h-3.42zM418.99 220.10h3.42v3.43h-3.42zM418.99 274.83h3.42v3.43h-3.42zM418.99 278.26h3.42v3.43h-3.42zM418.99 281.69h3.42v3.43h-3.42zM422.41 220.10h3.42v3.43h-3.42zM422.41 271.40h3.42v3.43h-3.42zM422.41 274.83h3.42v3.43h-3.42zM422.41 278.26h3.42v3.43h-3.42zM425.83 271.40h3.42v3.43h-3.42zM425.83 285.12h3.42v3.43h-3.42zM425.83 295.41h3.42v3.43h-3.42zM429.25 223.53h3.42v3.43h-3.42zM429.25 271.40h3.42v3.43h-3.42zM429.25 274.83h3.42v3.43h-3.42zM429.25 278.26h3.42v3.43h-3.42zM432.67 220.10h3.42v3.43h-3.42zM432.67 223.53h3.42v3.43h-3.42zM432.67 271.40h3.42v3.43h-3.42zM432.67 274.83h3.42v3.43h-3.42zM432.67 278.26h3.42v3.43h-3.42zM436.09 220.10h3.42v3.43h-3.42zM436.09 223.53h3.42v3.43h-3.42zM436.09 271.40h3.42v3.43h-3.42zM436.09 274.83h3.42v3.43h-3.42zM436.09 278.26h3.42v3.43h-3.42zM439.51 285.12h3.42v3.43h-3.42zM442.93 271.40h3.42v3.43h-3.42zM442.93 285.12h3.42v3.43h-3.42zM442.93 291.98h3.42v3.43h-3.42zM442.93 295.41h3.42v3.43h-3.42zM446.35 278.26h3.42v3.43h-3.42zM446.35 285.12h3.42v3.43h-3.42zM446.35 291.98h3.42v3.43h-3.42zM446.35 295.41h3.42v3.43h-3.42zM449.77 271.40h3.42v3.43h-3.42zM449.77 274.83h3.42v3.43h-3.42zM449.77 278.26h3.42v3.43h-3.42zM449.77 281.69h3.42v3.43h-3.42zM449.77 291.98h3.42v3.43h-3.42zM449.77 295.41h3.42v3.43h-3.42zM453.19 274.83h3.42v3.43h-3.42zM453.19 285.12h3.42v3.43h-3.42zM456.61 223.53h3.42v3.43h-3.42zM456.61 285.12h3.42v3.43h-3.42zM460.03 271.40h3.42v3.43h-3.42zM460.03 274.83h3.42v3.43h-3.42zM460.03 278.26h3.42v3.43h-3.42zM460.03 285.12h3.42v3.43h-3.42z"/>
<path fill="#e4f1f1" d="M27.20 266.33h3.42v3.43h-3.42zM27.20 274.83h3.42v3.43h-3.42zM27.20 278.26h3.42v3.43h-3.42zM30.62 266.33h3.42v3.43h-3.42zM30.62 274.83h3.42v3.43h-3.42zM34.04 249.18h3.42v3.43h-3.42zM34.04 266.33h3.42v3.43h-3.42zM34.04 274.83h3.42v3.43h-3.42zM37.46 228.60h3.42v3.43h-3.42zM37.46 232.03h3.42v3.43h-3.42zM37.46 235.46h3.42v3.43h-3.42zM37.46 245.75h3.42v3.43h-3.42zM37.46 249.18h3.42v3.43h-3.42zM37.46 266.33h3.42v3.43h-3.42zM37.46 274.83h3.42v3.43h-3.42zM40.88 249.18h3.42v3.43h-3.42zM40.88 266.33h3.42v3.43h-3.42zM40.88 271.40h3.42v3.43h-3.42zM44.30 249.18h3.42v3.43h-3.42zM44.30 266.33h3.42v3.43h-3.42zM44.30 271.40h3.42v3.43h-3.42zM47.72 228.60h3.42v3.43h-3.42zM47.72 232.03h3.42v3.43h-3.42zM47.72 235.46h3.42v3.43h-3.42zM47.72 238.89h3.42v3.43h-3.42zM47.72 242.32h3.42v3.43h-3.42zM47.72 245.75h3.42v3.43h-3.42zM47.72 249.18h3.42v3.43h-3.42zM47.72 252.61h3.42v3.43h-3.42zM47.72 256.04h3.42v3.43h-3.42zM47.72 259.47h3.42v3.43h-3.42zM47.72 262.90h3.42v3.43h-3.42zM47.72 266.33h3.42v3.43h-3.42zM47.72 271.40h3.42v3.43h-3.42zM51.14 245.75h3.42v3.43h-3.42zM51.14 259.47h3.42v3.43h-3.42zM51.14 262.90h3.42v3.43h-3.42zM51.14 266.33h3.42v3.43h-3.42zM51.14 274.83h3.42v3.43h-3.42zM51.14 278.26h3.42v3.43h-3.42zM54.56 228.60h3.42v3.43h-3.42zM54.56 245.75h3.42v3.43h-3.42zM54.56 249.18h3.42v3.43h-3.42zM54.56 266.33h3.42v3.43h-3.42zM54.56 271.40h3.42v3.43h-3.42zM54.56 274.83h3.42v3.43h-3.42zM57.98 228.60h3.42v3.43h-3.42zM57.98 232.03h3.42v3.43h-3.42zM57.98 235.46h3.42v3.43h-3.42zM57.98 245.75h3.42v3.43h-3.42zM57.98 249.18h3.42v3.43h-3.42zM57.98 266.33h3.42v3.43h-3.42zM57.98 281.69h3.42v3.43h-3.42zM57.98 285.12h3.42v3.43h-3.42zM61.40 238.89h3.42v3.43h-3.42zM61.40 242.32h3.42v3.43h-3.42zM61.40 281.69h3.42v3.43h-3.42zM64.82 281.69h3.42v3.43h-3.42zM71.66 238.89h3.42v3.43h-3.42zM71.66 242.32h3.42v3.43h-3.42zM71.66 245.75h3.42v3.43h-3.42zM71.66 249.18h3.42v3.43h-3.42zM71.66 252.61h3.42v3.43h-3.42zM71.66 256.04h3.42v3.43h-3.42zM71.66 259.47h3.42v3.43h-3.42zM71.66 262.90h3.42v3.43h-3.42zM71.66 281.69h3.42v3.43h-3.42zM71.66 285.12h3.42v3.43h-3.42zM71.66 288.55h3.42v3.43h-3.42zM71.66 291.98h3.42v3.43h-3.42zM71.66 295.41h3.42v3.43h-3.42zM75.08 235.46h3.42v3.43h-3.42zM75.08 238.89h3.42v3.43h-3.42zM75.08 242.32h3.42v3.43h-3.42zM75.08 245.75h3.42v3.43h-3.42zM75.08 249.18h3.42v3.43h-3.42zM75.08 252.61h3.42v3.43h-3.42zM75.08 256.04h3.42v3.43h-3.42zM75.08 259.47h3.42v3.43h-3.42zM75.08 262.90h3.42v3.43h-3.42zM75.08 266.33h3.42v3.43h-3.42zM75.08 281.69h3.42v3.43h-3.42zM75.08 285.12h3.42v3.43h-3.42zM75.08 288.55h3.42v3.43h-3.42zM75.08 291.98h3.42v3.43h-3.42zM75.08 295.41h3.42v3.43h-3.42zM78.50 185.80h3.42v3.43h-3.42zM78.50 232.03h3.42v3.43h-3.42zM78.50 235.46h3.42v3.43h-3.42zM78.50 238.89h3.42v3.43h-3.42zM78.50 242.32h3.42v3.43h-3.42zM78.50 245.75h3.42v3.43h-3.42zM78.50 249.18h3.42v3.43h-3.42zM78.50 252.61h3.42v3.43h-3.42zM78.50 256.04h3.42v3.43h-3.42zM78.50 259.47h3.42v3.43h-3.42zM78.50 262.90h3.42v3.43h-3.42zM78.50 266.33h3.42v3.43h-3.42zM81.92 185.80h3.42v3.43h-3.42zM81.92 228.60h3.42v3.43h-3.42zM81.92 288.55h3.42v3.43h-3.42zM81.92 291.98h3.42v3.43h-3.42zM81.92 295.41h3.42v3.43h-3.42zM85.34 228.60h3.42v3.43h-3.42zM85.34 232.03h3.42v3.43h-3.42zM85.34 235.46h3.42v3.43h-3.42zM85.34 245.75h3.42v3.43h-3.42zM85.34 252.61h3.42v3.43h-3.42zM85.34 256.04h3.42v3.43h-3.42zM85.34 259.47h3.42v3.43h-3.42zM85.34 262.90h3.42v3.43h-3.42zM85.34 266.33h3.42v3.43h-3.42zM85.34 271.40h3.42v3.43h-3.42zM85.34 274.83h3.42v3.43h-3.42zM85.34 278.26h3.42v3.43h-3.42zM85.34 281.69h3.42v3.43h-3.42zM85.34 285.12h3.42v3.43h-3.42zM85.34 288.55h3.42v3.43h-3.42zM85.34 291.98h3.42v3.43h-3.42zM85.34 295.41h3.42v3.43h-3.42zM88.76 223.53h3.42v3.43h-3.42zM88.76 228.60h3.42v3.43h-3.42zM88.76 232.03h3.42v3.43h-3.42zM88.76 235.46h3.42v3.43h-3.42zM88.76 245.75h3.42v3.43h-3.42zM88.76 249.18h3.42v3.43h-3.42zM88.76 259.47h3.42v3.43h-3.42zM88.76 262.90h3.42v3.43h-3.42zM88.76 266.33h3.42v3.43h-3.42zM88.76 281.69h3.42v3.43h-3.42zM88.76 291.98h3.42v3.43h-3.42zM88.76 295.41h3.42v3.43h-3.42zM92.18 228.60h3.42v3.43h-3.42zM92.18 232.03h3.42v3.43h-3.42zM92.18 235.46h3.42v3.43h-3.42zM92.18 245.75h3.42v3.43h-3.42zM92.18 249.18h3.42v3.43h-3.42zM92.18 259.47h3.42v3.43h-3.42zM92.18 262.90h3.42v3.43h-3.42zM92.18 266.33h3.42v3.43h-3.42zM92.18 274.83h3.42v3.43h-3.42zM92.18 285.12h3.42v3.43h-3.42zM95.60 228.60h3.42v3.43h-3.42zM95.60 232.03h3.42v3.43h-3.42zM95.60 235.46h3.42v3.43h-3.42zM95.60 245.75h3.42v3.43h-3.42zM95.60 249.18h3.42v3.43h-3.42zM95.60 259.47h3.42v3.43h-3.42zM95.60 262.90h3.42v3.43h-3.42zM95.60 266.33h3.42v3.43h-3.42zM95.60 274.83h3.42v3.43h-3.42zM95.60 285.12h3.42v3.43h-3.42zM100.77 192.66h3.42v3.43h-3.42zM100.77 242.32h3.42v3.43h-3.42zM100.77 245.75h3.42v3.43h-3.42zM100.77 249.18h3.42v3.43h-3.42zM100.77 256.04h3.42v3.43h-3.42zM104.19 192.66h3.42v3.43h-3.42zM104.19 228.60h3.42v3.43h-3.42zM104.19 238.89h3.42v3.43h-3.42zM104.19 242.32h3.42v3.43h-3.42zM104.19 249.18h3.42v3.43h-3.42zM104.19 262.90h3.42v3.43h-3.42zM104.19 266.33h3.42v3.43h-3.42zM104.19 288.55h3.42v3.43h-3.42zM104.19 295.41h3.42v3.43h-3.42zM107.61 185.80h3.42v3.43h-3.42zM107.61 228.60h3.42v3.43h-3.42zM107.61 238.89h3.42v3.43h-3.42zM107.61 288.55h3.42v3.43h-3.42zM107.61 295.41h3.42v3.43h-3.42zM111.03 189.23h3.42v3.43h-3.42zM111.03 228.60h3.42v3.43h-3.42zM111.03 288.55h3.42v3.43h-3.42zM114.45 189.23h3.42v3.43h-3.42zM114.45 192.66h3.42v3.43h-3.42zM114.45 228.60h3.42v3.43h-3.42zM114.45 288.55h3.42v3.43h-3.42zM114.45 291.98h3.42v3.43h-3.42zM117.87 185.80h3.42v3.43h-3.42zM117.87 192.66h3.42v3.43h-3.42zM117.87 196.09h3.42v3.43h-3.42zM117.87 242.32h3.42v3.43h-3.42zM121.29 189.23h3.42v3.43h-3.42zM121.29 242.32h3.42v3.43h-3.42zM124.71 185.80h3.42v3.43h-3.42zM124.71 189.23h3.42v3.43h-3.42zM124.71 196.09h3.42v3.43h-3.42zM124.71 202.95h3.42v3.43h-3.42zM124.71 213.24h3.42v3.43h-3.42zM124.71 242.32h3.42v3.43h-3.42zM124.71 245.75h3.42v3.43h-3.42zM128.13 185.80h3.42v3.43h-3.42zM128.13 189.23h3.42v3.43h-3.42zM128.13 199.52h3.42v3.43h-3.42zM128.13 202.95h3.42v3.43h-3.42zM128.13 206.38h3.42v3.43h-3.42zM128.13 209.81h3.42v3.43h-3.42zM128.13 213.24h3.42v3.43h-3.42zM128.13 216.67h3.42v3.43h-3.42zM128.13 228.60h3.42v3.43h-3.42zM128.13 232.03h3.42v3.43h-3.42zM128.13 235.46h3.42v3.43h-3.42zM128.13 242.32h3.42v3.43h-3.42zM131.55 185.80h3.42v3.43h-3.42zM131.55 189.23h3.42v3.43h-3.42zM131.55 196.09h3.42v3.43h-3.42zM131.55 202.95h3.42v3.43h-3.42zM131.55 206.38h3.42v3.43h-3.42zM131.55 209.81h3.42v3.43h-3.42zM131.55 213.24h3.42v3.43h-3.42zM131.55 216.67h3.42v3.43h-3.42zM131.55 232.03h3.42v3.43h-3.42zM131.55 235.46h3.42v3.43h-3.42zM131.55 238.89h3.42v3.43h-3.42zM131.55 242.32h3.42v3.43h-3.42zM131.55 245.75h3.42v3.43h-3.42zM131.55 249.18h3.42v3.43h-3.42zM131.55 266.33h3.42v3.43h-3.42zM134.97 189.23h3.42v3.43h-3.42zM134.97 196.09h3.42v3.43h-3.42zM134.97 199.52h3.42v3.43h-3.42zM134.97 202.95h3.42v3.43h-3.42zM134.97 206.38h3.42v3.43h-3.42zM134.97 209.81h3.42v3.43h-3.42zM134.97 213.24h3.42v3.43h-3.42zM134.97 216.67h3.42v3.43h-3.42zM134.97 223.53h3.42v3.43h-3.42zM134.97 232.03h3.42v3.43h-3.42zM134.97 235.46h3.42v3.43h-3.42zM134.97 238.89h3.42v3.43h-3.42zM134.97 242.32h3.42v3.43h-3.42zM134.97 245.75h3.42v3.43h-3.42zM134.97 249.18h3.42v3.43h-3.42zM134.97 266.33h3.42v3.43h-3.42zM138.39 189.23h3.42v3.43h-3.42zM138.39 196.09h3.42v3.43h-3.42zM138.39 202.95h3.42v3.43h-3.42zM138.39 209.81h3.42v3.43h-3.42zM138.39 213.24h3.42v3.43h-3.42zM138.39 216.67h3.42v3.43h-3.42zM138.39 223.53h3.42v3.43h-3.42zM138.39 232.03h3.42v3.43h-3.42zM138.39 235.46h3.42v3.43h-3.42zM138.39 238.89h3.42v3.43h-3.42zM138.39 242.32h3.42v3.43h-3.42zM138.39 245.75h3.42v3.43h-3.42zM138.39 249.18h3.42v3.43h-3.42zM138.39 266.33h3.42v3.43h-3.42zM141.81 189.23h3.42v3.43h-3.42zM141.81 196.09h3.42v3.43h-3.42zM141.81 206.38h3.42v3.43h-3.42zM141.81 209.81h3.42v3.43h-3.42zM141.81 216.67h3.42v3.43h-3.42zM141.81 223.53h3.42v3.43h-3.42zM141.81 232.03h3.42v3.43h-3.42zM141.81 235.46h3.42v3.43h-3.42zM141.81 238.89h3.42v3.43h-3.42zM141.81 242.32h3.42v3.43h-3.42zM141.81 245.75h3.42v3.43h-3.42zM141.81 249.18h3.42v3.43h-3.42zM141.81 266.33h3.42v3.43h-3.42zM145.23 189.23h3.42v3.43h-3.42zM145.23 232.03h3.42v3.43h-3.42zM145.23 235.46h3.42v3.43h-3.42zM145.23 252.61h3.42v3.43h-3.42zM145.23 256.04h3.42v3.43h-3.42zM145.23 259.47h3.42v3.43h-3.42zM145.23 266.33h3.42v3.43h-3.42zM148.65 185.80h3.42v3.43h-3.42zM148.65 189.23h3.42v3.43h-3.42zM148.65 196.09h3.42v3.43h-3.42zM148.65 206.38h3.42v3.43h-3.42zM148.65 209.81h3.42v3.43h-3.42zM148.65 213.24h3.42v3.43h-3.42zM148.65 232.03h3.42v3.43h-3.42zM148.65 235.46h3.42v3.43h-3.42zM148.65 252.61h3.42v3.43h-3.42zM148.65 256.04h3.42v3.43h-3.42zM148.65 259.47h3.42v3.43h-3.42zM148.65 266.33h3.42v3.43h-3.42zM152.07 189.23h3.42v3.43h-3.42zM152.07 192.66h3.42v3.43h-3.42zM152.07 209.81h3.42v3.43h-3.42zM152.07 213.24h3.42v3.43h-3.42zM152.07 216.67h3.42v3.43h-3.42zM152.07 232.03h3.42v3.43h-3.42zM152.07 235.46h3.42v3.43h-3.42zM152.07 252.61h3.42v3.43h-3.42zM152.07 291.98h3.42v3.43h-3.42zM155.49 189.23h3.42v3.43h-3.42zM155.49 213.24h3.42v3.43h-3.42zM155.49 216.67h3.42v3.43h-3.42zM155.49 232.03h3.42v3.43h-3.42zM155.49 238.89h3.42v3.43h-3.42zM155.49 242.32h3.42v3.43h-3.42zM155.49 266.33h3.42v3.43h-3.42zM158.91 189.23h3.42v3.43h-3.42zM158.91 192.66h3.42v3.43h-3.42zM158.91 206.38h3.42v3.43h-3.42zM158.91 209.81h3.42v3.43h-3.42zM158.91 213.24h3.42v3.43h-3.42zM158.91 216.67h3.42v3.43h-3.42zM158.91 223.53h3.42v3.43h-3.42zM158.91 238.89h3.42v3.43h-3.42zM158.91 242.32h3.42v3.43h-3.42zM158.91 266.33h3.42v3.43h-3.42zM164.08 202.95h3.42v3.43h-3.42zM164.08 249.18h3.42v3.43h-3.42zM164.08 266.33h3.42v3.43h-3.42zM167.50 199.52h3.42v3.43h-3.42zM167.50 223.53h3.42v3.43h-3.42zM167.50 266.33h3.42v3.43h-3.42zM170.92 199.52h3.42v3.43h-3.42zM170.92 223.53h3.42v3.43h-3.42zM170.92 266.33h3.42v3.43h-3.42zM174.34 213.24h3.42v3.43h-3.42zM174.34 216.67h3.42v3.43h-3.42zM174.34 232.03h3.42v3.43h-3.42zM174.34 235.46h3.42v3.43h-3.42zM174.34 238.89h3.42v3.43h-3.42zM174.34 242.32h3.42v3.43h-3.42zM174.34 245.75h3.42v3.43h-3.42zM174.34 266.33h3.42v3.43h-3.42zM177.76 223.53h3.42v3.43h-3.42zM177.76 238.89h3.42v3.43h-3.42zM177.76 242.32h3.42v3.43h-3.42zM177.76 245.75h3.42v3.43h-3.42zM177.76 249.18h3.42v3.43h-3.42zM177.76 266.33h3.42v3.43h-3.42zM181.18 199.52h3.42v3.43h-3.42zM181.18 213.24h3.42v3.43h-3.42zM181.18 216.67h3.42v3.43h-3.42zM181.18 228.60h3.42v3.43h-3.42zM181.18 232.03h3.42v3.43h-3.42zM181.18 235.46h3.42v3.43h-3.42zM181.18 245.75h3.42v3.43h-3.42zM181.18 249.18h3.42v3.43h-3.42zM181.18 266.33h3.42v3.43h-3.42zM184.60 199.52h3.42v3.43h-3.42zM184.60 249.18h3.42v3.43h-3.42zM184.60 262.90h3.42v3.43h-3.42zM188.02 199.52h3.42v3.43h-3.42zM188.02 249.18h3.42v3.43h-3.42zM188.02 262.90h3.42v3.43h-3.42zM191.44 199.52h3.42v3.43h-3.42zM191.44 245.75h3.42v3.43h-3.42zM191.44 249.18h3.42v3.43h-3.42zM191.44 266.33h3.42v3.43h-3.42zM194.86 199.52h3.42v3.43h-3.42zM194.86 245.75h3.42v3.43h-3.42zM194.86 249.18h3.42v3.43h-3.42zM194.86 266.33h3.42v3.43h-3.42zM200.03 185.80h3.42v3.43h-3.42zM200.03 220.10h3.42v3.43h-3.42zM200.03 223.53h3.42v3.43h-3.42zM200.03 238.89h3.42v3.43h-3.42zM200.03 285.12h3.42v3.43h-3.42zM203.45 185.80h3.42v3.43h-3.42zM203.45 189.23h3.42v3.43h-3.42zM203.45 220.10h3.42v3.43h-3.42zM203.45 238.89h3.42v3.43h-3.42zM203.45 285.12h3.42v3.43h-3.42zM206.87 185.80h3.42v3.43h-3.42zM206.87 189.23h3.42v3.43h-3.42zM206.87 220.10h3.42v3.43h-3.42zM206.87 238.89h3.42v3.43h-3.42zM206.87 242.32h3.42v3.43h-3.42zM206.87 285.12h3.42v3.43h-3.42zM206.87 295.41h3.42v3.43h-3.42zM210.29 189.23h3.42v3.43h-3.42zM210.29 192.66h3.42v3.43h-3.42zM210.29 196.09h3.42v3.43h-3.42zM210.29 199.52h3.42v3.43h-3.42zM210.29 202.95h3.42v3.43h-3.42zM210.29 206.38h3.42v3.43h-3.42zM210.29 209.81h3.42v3.43h-3.42zM210.29 213.24h3.42v3.43h-3.42zM210.29 220.10h3.42v3.43h-3.42zM210.29 223.53h3.42v3.43h-3.42zM210.29 245.75h3.42v3.43h-3.42zM210.29 259.47h3.42v3.43h-3.42zM210.29 274.83h3.42v3.43h-3.42zM213.71 185.80h3.42v3.43h-3.42zM213.71 189.23h3.42v3.43h-3.42zM217.13 185.80h3.42v3.43h-3.42zM217.13 189.23h3.42v3.43h-3.42zM220.55 185.80h3.42v3.43h-3.42zM220.55 189.23h3.42v3.43h-3.42zM223.97 189.23h3.42v3.43h-3.42zM227.39 189.23h3.42v3.43h-3.42zM230.81 192.66h3.42v3.43h-3.42zM230.81 196.09h3.42v3.43h-3.42zM230.81 213.24h3.42v3.43h-3.42zM234.23 189.23h3.42v3.43h-3.42zM234.23 192.66h3.42v3.43h-3.42zM234.23 196.09h3.42v3.43h-3.42zM234.23 199.52h3.42v3.43h-3.42zM234.23 202.95h3.42v3.43h-3.42zM234.23 213.24h3.42v3.43h-3.42zM237.65 189.23h3.42v3.43h-3.42zM237.65 192.66h3.42v3.43h-3.42zM237.65 196.09h3.42v3.43h-3.42zM237.65 199.52h3.42v3.43h-3.42zM237.65 202.95h3.42v3.43h-3.42zM237.65 206.38h3.42v3.43h-3.42zM237.65 209.81h3.42v3.43h-3.42zM237.65 213.24h3.42v3.43h-3.42zM237.65 216.67h3.42v3.43h-3.42zM241.07 185.80h3.42v3.43h-3.42zM244.49 185.80h3.42v3.43h-3.42zM244.49 189.23h3.42v3.43h-3.42zM247.91 185.80h3.42v3.43h-3.42zM247.91 189.23h3.42v3.43h-3.42zM251.33 185.80h3.42v3.43h-3.42zM251.33 189.23h3.42v3.43h-3.42zM251.33 192.66h3.42v3.43h-3.42zM251.33 213.24h3.42v3.43h-3.42zM251.33 216.67h3.42v3.43h-3.42zM254.75 185.80h3.42v3.43h-3.42zM254.75 189.23h3.42v3.43h-3.42zM254.75 213.24h3.42v3.43h-3.42zM254.75 216.67h3.42v3.43h-3.42zM258.17 185.80h3.42v3.43h-3.42zM258.17 189.23h3.42v3.43h-3.42zM258.17 213.24h3.42v3.43h-3.42zM258.17 216.67h3.42v3.43h-3.42zM261.59 185.80h3.42v3.43h-3.42zM261.59 189.23h3.42v3.43h-3.42zM261.59 213.24h3.42v3.43h-3.42zM261.59 216.67h3.42v3.43h-3.42zM261.59 242.32h3.42v3.43h-3.42zM265.01 189.23h3.42v3.43h-3.42zM265.01 192.66h3.42v3.43h-3.42zM265.01 196.09h3.42v3.43h-3.42zM265.01 199.52h3.42v3.43h-3.42zM265.01 202.95h3.42v3.43h-3.42zM265.01 206.38h3.42v3.43h-3.42zM265.01 209.81h3.42v3.43h-3.42zM268.43 189.23h3.42v3.43h-3.42zM268.43 192.66h3.42v3.43h-3.42zM268.43 196.09h3.42v3.43h-3.42zM268.43 199.52h3.42v3.43h-3.42zM268.43 202.95h3.42v3.43h-3.42zM268.43 206.38h3.42v3.43h-3.42zM268.43 209.81h3.42v3.43h-3.42zM268.43 213.24h3.42v3.43h-3.42zM268.43 216.67h3.42v3.43h-3.42zM271.85 185.80h3.42v3.43h-3.42zM271.85 189.23h3.42v3.43h-3.42zM271.85 192.66h3.42v3.43h-3.42zM271.85 196.09h3.42v3.43h-3.42zM271.85 199.52h3.42v3.43h-3.42zM271.85 202.95h3.42v3.43h-3.42zM271.85 206.38h3.42v3.43h-3.42zM271.85 209.81h3.42v3.43h-3.42zM271.85 213.24h3.42v3.43h-3.42zM271.85 216.67h3.42v3.43h-3.42zM271.85 223.53h3.42v3.43h-3.42zM277.02 192.66h3.42v3.43h-3.42zM277.02 196.09h3.42v3.43h-3.42zM277.02 213.24h3.42v3.43h-3.42zM277.02 216.67h3.42v3.43h-3.42zM277.02 223.53h3.42v3.43h-3.42zM280.44 192.66h3.42v3.43h-3.42zM280.44 196.09h3.42v3.43h-3.42zM280.44 223.53h3.42v3.43h-3.42zM283.86 192.66h3.42v3.43h-3.42zM283.86 196.09h3.42v3.43h-3.42zM283.86 213.24h3.42v3.43h-3.42zM283.86 216.67h3.42v3.43h-3.42zM283.86 223.53h3.42v3.43h-3.42zM287.28 196.09h3.42v3.43h-3.42zM287.28 206.38h3.42v3.43h-3.42zM287.28 209.81h3.42v3.43h-3.42zM287.28 271.40h3.42v3.43h-3.42zM287.28 278.26h3.42v3.43h-3.42zM287.28 281.69h3.42v3.43h-3.42zM290.70 199.52h3.42v3.43h-3.42zM290.70 202.95h3.42v3.43h-3.42zM290.70 274.83h3.42v3.43h-3.42zM290.70 278.26h3.42v3.43h-3.42zM290.70 281.69h3.42v3.43h-3.42zM290.70 285.12h3.42v3.43h-3.42zM290.70 288.55h3.42v3.43h-3.42zM294.12 192.66h3.42v3.43h-3.42zM294.12 274.83h3.42v3.43h-3.42zM294.12 278.26h3.42v3.43h-3.42zM297.54 192.66h3.42v3.43h-3.42zM297.54 216.67h3.42v3.43h-3.42zM297.54 274.83h3.42v3.43h-3.42zM297.54 278.26h3.42v3.43h-3.42zM300.96 196.09h3.42v3.43h-3.42zM300.96 199.52h3.42v3.43h-3.42zM300.96 202.95h3.42v3.43h-3.42zM300.96 223.53h3.42v3.43h-3.42zM304.38 199.52h3.42v3.43h-3.42zM304.38 202.95h3.42v3.43h-3.42zM304.38 288.55h3.42v3.43h-3.42zM307.80 206.38h3.42v3.43h-3.42zM307.80 209.81h3.42v3.43h-3.42zM307.80 213.24h3.42v3.43h-3.42zM307.80 216.67h3.42v3.43h-3.42zM307.80 223.53h3.42v3.43h-3.42zM307.80 281.69h3.42v3.43h-3.42zM311.22 202.95h3.42v3.43h-3.42zM311.22 206.38h3.42v3.43h-3.42zM311.22 209.81h3.42v3.43h-3.42zM311.22 213.24h3.42v3.43h-3.42zM311.22 216.67h3.42v3.43h-3.42zM311.22 281.69h3.42v3.43h-3.42zM314.64 206.38h3.42v3.43h-3.42zM314.64 213.24h3.42v3.43h-3.42zM314.64 216.67h3.42v3.43h-3.42zM314.64 281.69h3.42v3.43h-3.42zM318.06 192.66h3.42v3.43h-3.42zM318.06 206.38h3.42v3.43h-3.42zM318.06 209.81h3.42v3.43h-3.42zM318.06 213.24h3.42v3.43h-3.42zM318.06 216.67h3.42v3.43h-3.42zM318.06 274.83h3.42v3.43h-3.42zM321.48 192.66h3.42v3.43h-3.42zM321.48 206.38h3.42v3.43h-3.42zM321.48 209.81h3.42v3.43h-3.42zM321.48 213.24h3.42v3.43h-3.42zM321.48 216.67h3.42v3.43h-3.42zM321.48 223.53h3.42v3.43h-3.42zM321.48 271.40h3.42v3.43h-3.42zM321.48 274.83h3.42v3.43h-3.42zM321.48 278.26h3.42v3.43h-3.42zM321.48 285.12h3.42v3.43h-3.42zM324.90 192.66h3.42v3.43h-3.42zM324.90 206.38h3.42v3.43h-3.42zM324.90 209.81h3.42v3.43h-3.42zM324.90 213.24h3.42v3.43h-3.42zM324.90 216.67h3.42v3.43h-3.42zM324.90 223.53h3.42v3.43h-3.42zM324.90 274.83h3.42v3.43h-3.42zM324.90 278.26h3.42v3.43h-3.42zM328.32 192.66h3.42v3.43h-3.42zM328.32 196.09h3.42v3.43h-3.42zM328.32 206.38h3.42v3.43h-3.42zM328.32 209.81h3.42v3.43h-3.42zM328.32 216.67h3.42v3.43h-3.42zM328.32 223.53h3.42v3.43h-3.42zM328.32 274.83h3.42v3.43h-3.42zM328.32 278.26h3.42v3.43h-3.42zM331.74 192.66h3.42v3.43h-3.42zM331.74 196.09h3.42v3.43h-3.42zM331.74 206.38h3.42v3.43h-3.42zM331.74 209.81h3.42v3.43h-3.42zM331.74 213.24h3.42v3.43h-3.42zM331.74 216.67h3.42v3.43h-3.42zM331.74 223.53h3.42v3.43h-3.42zM331.74 274.83h3.42v3.43h-3.42zM331.74 278.26h3.42v3.43h-3.42zM331.74 281.69h3.42v3.43h-3.42zM331.74 285.12h3.42v3.43h-3.42zM335.16 192.66h3.42v3.43h-3.42zM335.16 206.38h3.42v3.43h-3.42zM335.16 209.81h3.42v3.43h-3.42zM335.16 213.24h3.42v3.43h-3.42zM335.16 216.67h3.42v3.43h-3.42zM335.16 223.53h3.42v3.43h-3.42zM335.16 281.69h3.42v3.43h-3.42zM338.58 206.38h3.42v3.43h-3.42zM338.58 209.81h3.42v3.43h-3.42zM338.58 213.24h3.42v3.43h-3.42zM338.58 216.67h3.42v3.43h-3.42zM338.58 223.53h3.42v3.43h-3.42zM342.00 206.38h3.42v3.43h-3.42zM342.00 209.81h3.42v3.43h-3.42zM342.00 213.24h3.42v3.43h-3.42zM342.00 216.67h3.42v3.43h-3.42zM342.00 223.53h3.42v3.43h-3.42zM347.17 228.60h3.42v3.43h-3.42zM347.17 252.61h3.42v3.43h-3.42zM350.59 220.10h3.42v3.43h-3.42zM350.59 228.60h3.42v3.43h-3.42zM350.59 252.61h3.42v3.43h-3.42zM350.59 288.55h3.42v3.43h-3.42zM354.01 189.23h3.42v3.43h-3.42zM354.01 192.66h3.42v3.43h-3.42zM354.01 196.09h3.42v3.43h-3.42zM354.01 220.10h3.42v3.43h-3.42zM354.01 228.60h3.42v3.43h-3.42zM354.01 288.55h3.42v3.43h-3.42zM357.43 199.52h3.42v3.43h-3.42zM357.43 220.10h3.42v3.43h-3.42zM357.43 274.83h3.42v3.43h-3.42zM357.43 278.26h3.42v3.43h-3.42zM360.85 206.38h3.42v3.43h-3.42zM360.85 213.24h3.42v3.43h-3.42zM360.85 216.67h3.42v3.43h-3.42zM364.27 206.38h3.42v3.43h-3.42zM364.27 209.81h3.42v3.43h-3.42zM364.27 213.24h3.42v3.43h-3.42zM364.27 271.40h3.42v3.43h-3.42zM364.27 274.83h3.42v3.43h-3.42zM364.27 278.26h3.42v3.43h-3.42zM364.27 281.69h3.42v3.43h-3.42zM364.27 285.12h3.42v3.43h-3.42zM364.27 288.55h3.42v3.43h-3.42zM367.69 199.52h3.42v3.43h-3.42zM367.69 202.95h3.42v3.43h-3.42zM367.69 288.55h3.42v3.43h-3.42zM371.11 288.55h3.42v3.43h-3.42zM374.53 220.10h3.42v3.43h-3.42zM374.53 274.83h3.42v3.43h-3.42zM374.53 278.26h3.42v3.43h-3.42zM374.53 281.69h3.42v3.43h-3.42zM377.95 220.10h3.42v3.43h-3.42zM377.95 271.40h3.42v3.43h-3.42zM377.95 278.26h3.42v3.43h-3.42zM377.95 288.55h3.42v3.43h-3.42zM381.37 220.10h3.42v3.43h-3.42zM381.37 228.60h3.42v3.43h-3.42zM381.37 271.40h3.42v3.43h-3.42zM381.37 285.12h3.42v3.43h-3.42zM384.79 220.10h3.42v3.43h-3.42zM384.79 274.83h3.42v3.43h-3.42zM384.79 278.26h3.42v3.43h-3.42zM384.79 281.69h3.42v3.43h-3.42zM384.79 291.98h3.42v3.43h-3.42zM388.21 220.10h3.42v3.43h-3.42zM388.21 271.40h3.42v3.43h-3.42zM388.21 274.83h3.42v3.43h-3.42zM388.21 278.26h3.42v3.43h-3.42zM388.21 281.69h3.42v3.43h-3.42zM388.21 285.12h3.42v3.43h-3.42zM388.21 288.55h3.42v3.43h-3.42zM388.21 291.98h3.42v3.43h-3.42zM391.63 228.60h3.42v3.43h-3.42zM391.63 256.04h3.42v3.43h-3.42zM395.05 220.10h3.42v3.43h-3.42zM395.05 288.55h3.42v3.43h-3.42zM395.05 295.41h3.42v3.43h-3.42zM398.47 220.10h3.42v3.43h-3.42zM398.47 271.40h3.42v3.43h-3.42zM398.47 274.83h3.42v3.43h-3.42zM398.47 278.26h3.42v3.43h-3.42zM398.47 281.69h3.42v3.43h-3.42zM398.47 285.12h3.42v3.43h-3.42zM398.47 288.55h3.42v3.43h-3.42zM398.47 291.98h3.42v3.43h-3.42zM401.89 220.10h3.42v3.43h-3.42zM401.89 288.55h3.42v3.43h-3.42zM405.31 220.10h3.42v3.43h-3.42zM405.31 271.40h3.42v3.43h-3.42zM405.31 274.83h3.42v3.43h-3.42zM405.31 278.26h3.42v3.43h-3.42zM405.31 281.69h3.42v3.43h-3.42zM405.31 285.12h3.42v3.43h-3.42zM405.31 288.55h3.42v3.43h-3.42zM405.31 291.98h3.42v3.43h-3.42zM408.73 281.69h3.42v3.43h-3.42zM408.73 291.98h3.42v3.43h-3.42zM408.73 295.41h3.42v3.43h-3.42zM412.15 295.41h3.42v3.43h-3.42zM415.57 223.53h3.42v3.43h-3.42zM415.57 295.41h3.42v3.43h-3.42zM418.99 202.95h3.42v3.43h-3.42zM418.99 223.53h3.42v3.43h-3.42zM418.99 291.98h3.42v3.43h-3.42zM418.99 295.41h3.42v3.43h-3.42zM422.41 199.52h3.42v3.43h-3.42zM422.41 281.69h3.42v3.43h-3.42zM422.41 291.98h3.42v3.43h-3.42zM422.41 295.41h3.42v3.43h-3.42zM425.83 213.24h3.42v3.43h-3.42zM425.83 220.10h3.42v3.43h-3.42zM425.83 223.53h3.42v3.43h-3.42zM425.83 274.83h3.42v3.43h-3.42zM425.83 278.26h3.42v3.43h-3.42zM425.83 291.98h3.42v3.43h-3.42zM429.25 199.52h3.42v3.43h-3.42zM429.25 202.95h3.42v3.43h-3.42zM429.25 220.10h3.42v3.43h-3.42zM429.25 291.98h3.42v3.43h-3.42zM429.25 295.41h3.42v3.43h-3.42zM432.67 199.52h3.42v3.43h-3.42zM432.67 202.95h3.42v3.43h-3.42zM432.67 213.24h3.42v3.43h-3.42zM432.67 216.67h3.42v3.43h-3.42zM432.67 281.69h3.42v3.43h-3.42zM432.67 291.98h3.42v3.43h-3.42zM432.67 295.41h3.42v3.43h-3.42zM436.09 199.52h3.42v3.43h-3.42zM436.09 213.24h3.42v3.43h-3.42zM436.09 281.69h3.42v3.43h-3.42zM436.09 291.98h3.42v3.43h-3.42zM436.09 295.41h3.42v3.43h-3.42zM439.51 220.10h3.42v3.43h-3.42zM439.51 223.53h3.42v3.43h-3.42zM439.51 238.89h3.42v3.43h-3.42zM439.51 242.32h3.42v3.43h-3.42zM439.51 245.75h3.42v3.43h-3.42zM439.51 249.18h3.42v3.43h-3.42zM439.51 271.40h3.42v3.43h-3.42zM439.51 274.83h3.42v3.43h-3.42zM439.51 278.26h3.42v3.43h-3.42zM439.51 291.98h3.42v3.43h-3.42zM439.51 295.41h3.42v3.43h-3.42zM442.93 220.10h3.42v3.43h-3.42zM442.93 223.53h3.42v3.43h-3.42zM442.93 238.89h3.42v3.43h-3.42zM442.93 242.32h3.42v3.43h-3.42zM442.93 245.75h3.42v3.43h-3.42zM442.93 249.18h3.42v3.43h-3.42zM442.93 274.83h3.42v3.43h-3.42zM442.93 278.26h3.42v3.43h-3.42zM446.35 220.10h3.42v3.43h-3.42zM446.35 223.53h3.42v3.43h-3.42zM446.35 238.89h3.42v3.43h-3.42zM446.35 242.32h3.42v3.43h-3.42zM446.35 245.75h3.42v3.43h-3.42zM446.35 249.18h3.42v3.43h-3.42zM446.35 271.40h3.42v3.43h-3.42zM446.35 274.83h3.42v3.43h-3.42zM449.77 220.10h3.42v3.43h-3.42zM453.19 220.10h3.42v3.43h-3.42zM453.19 223.53h3.42v3.43h-3.42zM453.19 271.40h3.42v3.43h-3.42zM453.19 278.26h3.42v3.43h-3.42zM453.19 281.69h3.42v3.43h-3.42zM453.19 291.98h3.42v3.43h-3.42zM453.19 295.41h3.42v3.43h-3.42zM456.61 220.10h3.42v3.43h-3.42zM456.61 271.40h3.42v3.43h-3.42zM456.61 274.83h3.42v3.43h-3.42zM456.61 278.26h3.42v3.43h-3.42zM456.61 281.69h3.42v3.43h-3.42zM456.61 291.98h3.42v3.43h-3.42zM456.61 295.41h3.42v3.43h-3.42zM460.03 220.10h3.42v3.43h-3.42zM460.03 223.53h3.42v3.43h-3.42zM460.03 281.69h3.42v3.43h-3.42zM460.03 291.98h3.42v3.43h-3.42zM460.03 295.41h3.42v3.43h-3.42z"/>
<path fill="#fbf8c8" d="M27.20 238.89h3.42v3.43h-3.42zM27.20 242.32h3.42v3.43h-3.42zM27.20 271.40h3.42v3.43h-3.42zM30.62 238.89h3.42v3.43h-3.42zM30.62 242.32h3.42v3.43h-3.42zM30.62 271.40h3.42v3.43h-3.42zM34.04 238.89h3.42v3.43h-3.42zM34.04 242.32h3.42v3.43h-3.42zM34.04 271.40h3.42v3.43h-3.42zM37.46 220.10h3.42v3.43h-3.42zM37.46 238.89h3.42v3.43h-3.42zM37.46 242.32h3.42v3.43h-3.42zM37.46 271.40h3.42v3.43h-3.42zM40.88 220.10h3.42v3.43h-3.42zM40.88 238.89h3.42v3.43h-3.42zM40.88 242.32h3.42v3.43h-3.42zM44.30 238.89h3.42v3.43h-3.42zM44.30 242.32h3.42v3.43h-3.42zM47.72 288.55h3.42v3.43h-3.42zM51.14 228.60h3.42v3.43h-3.42zM51.14 232.03h3.42v3.43h-3.42zM51.14 235.46h3.42v3.43h-3.42zM51.14 238.89h3.42v3.43h-3.42zM51.14 242.32h3.42v3.43h-3.42zM51.14 249.18h3.42v3.43h-3.42zM51.14 271.40h3.42v3.43h-3.42zM54.56 238.89h3.42v3.43h-3.42zM54.56 242.32h3.42v3.43h-3.42zM57.98 238.89h3.42v3.43h-3.42zM57.98 242.32h3.42v3.43h-3.42zM57.98 274.83h3.42v3.43h-3.42zM57.98 278.26h3.42v3.43h-3.42zM57.98 295.41h3.42v3.43h-3.42zM61.40 274.83h3.42v3.43h-3.42zM61.40 278.26h3.42v3.43h-3.42zM61.40 285.12h3.42v3.43h-3.42zM64.82 185.80h3.42v3.43h-3.42zM64.82 285.12h3.42v3.43h-3.42zM68.24 185.80h3.42v3.43h-3.42zM68.24 281.69h3.42v3.43h-3.42zM71.66 185.80h3.42v3.43h-3.42zM71.66 189.23h3.42v3.43h-3.42zM71.66 192.66h3.42v3.43h-3.42zM71.66 196.09h3.42v3.43h-3.42zM71.66 220.10h3.42v3.43h-3.42zM71.66 223.53h3.42v3.43h-3.42zM71.66 266.33h3.42v3.43h-3.42zM71.66 271.40h3.42v3.43h-3.42zM71.66 274.83h3.42v3.43h-3.42zM71.66 278.26h3.42v3.43h-3.42zM75.08 185.80h3.42v3.43h-3.42zM75.08 189.23h3.42v3.43h-3.42zM75.08 206.38h3.42v3.43h-3.42zM75.08 209.81h3.42v3.43h-3.42zM75.08 220.10h3.42v3.43h-3.42zM75.08 223.53h3.42v3.43h-3.42zM75.08 228.60h3.42v3.43h-3.42zM75.08 232.03h3.42v3.43h-3.42zM75.08 271.40h3.42v3.43h-3.42zM75.08 274.83h3.42v3.43h-3.42zM75.08 278.26h3.42v3.43h-3.42zM78.50 223.53h3.42v3.43h-3.42zM78.50 228.60h3.42v3.43h-3.42zM78.50 281.69h3.42v3.43h-3.42zM81.92 189.23h3.42v3.43h-3.42zM81.92 220.10h3.42v3.43h-3.42zM81.92 223.53h3.42v3.43h-3.42zM81.92 271.40h3.42v3.43h-3.42zM81.92 274.83h3.42v3.43h-3.42zM81.92 278.26h3.42v3.43h-3.42zM81.92 281.69h3.42v3.43h-3.42zM81.92 285.12h3.42v3.43h-3.42zM85.34 185.80h3.42v3.43h-3.42zM85.34 189.23h3.42v3.43h-3.42zM85.34 192.66h3.42v3.43h-3.42zM85.34 196.09h3.42v3.43h-3.42zM85.34 202.95h3.42v3.43h-3.42zM85.34 216.67h3.42v3.43h-3.42zM85.34 220.10h3.42v3.43h-3.42zM85.34 223.53h3.42v3.43h-3.42zM85.34 238.89h3.42v3.43h-3.42zM85.34 242.32h3.42v3.43h-3.42zM85.34 249.18h3.42v3.43h-3.42zM88.76 185.80h3.42v3.43h-3.42zM88.76 220.10h3.42v3.43h-3.42zM88.76 238.89h3.42v3.43h-3.42zM88.76 242.32h3.42v3.43h-3.42zM88.76 271.40h3.42v3.43h-3.42zM88.76 274.83h3.42v3.43h-3.42zM88.76 278.26h3.42v3.43h-3.42zM88.76 285.12h3.42v3.43h-3.42zM92.18 185.80h3.42v3.43h-3.42zM92.18 206.38h3.42v3.43h-3.42zM92.18 209.81h3.42v3.43h-3.42zM92.18 216.67h3.42v3.43h-3.42zM92.18 223.53h3.42v3.43h-3.42zM92.18 238.89h3.42v3.43h-3.42zM92.18 242.32h3.42v3.43h-3.42zM92.18 271.40h3.42v3.43h-3.42zM95.60 185.80h3.42v3.43h-3.42zM95.60 206.38h3.42v3.43h-3.42zM95.60 209.81h3.42v3.43h-3.42zM95.60 216.67h3.42v3.43h-3.42zM95.60 223.53h3.42v3.43h-3.42zM95.60 238.89h3.42v3.43h-3.42zM95.60 242.32h3.42v3.43h-3.42zM95.60 271.40h3.42v3.43h-3.42zM100.77 185.80h3.42v3.43h-3.42zM100.77 196.09h3.42v3.43h-3.42zM100.77 228.60h3.42v3.43h-3.42zM100.77 238.89h3.42v3.43h-3.42zM100.77 259.47h3.42v3.43h-3.42zM100.77 262.90h3.42v3.43h-3.42zM100.77 266.33h3.42v3.43h-3.42zM100.77 281.69h3.42v3.43h-3.42zM100.77 288.55h3.42v3.43h-3.42zM100.77 291.98h3.42v3.43h-3.42zM104.19 185.80h3.42v3.43h-3.42zM104.19 196.09h3.42v3.43h-3.42zM104.19 274.83h3.42v3.43h-3.42zM104.19 278.26h3.42v3.43h-3.42zM104.19 281.69h3.42v3.43h-3.42zM104.19 285.12h3.42v3.43h-3.42zM107.61 189.23h3.42v3.43h-3.42zM107.61 196.09h3.42v3.43h-3.42zM107.61 216.67h3.42v3.43h-3.42zM107.61 281.69h3.42v3.43h-3.42zM107.61 285.12h3.42v3.43h-3.42zM111.03 196.09h3.42v3.43h-3.42zM111.03 206.38h3.42v3.43h-3.42zM111.03 209.81h3.42v3.43h-3.42zM111.03 213.24h3.42v3.43h-3.42zM111.03 216.67h3.42v3.43h-3.42zM111.03 291.98h3.42v3.43h-3.42zM114.45 202.95h3.42v3.43h-3.42zM114.45 206.38h3.42v3.43h-3.42zM114.45 209.81h3.42v3.43h-3.42zM114.45 213.24h3.42v3.43h-3.42zM114.45 216.67h3.42v3.43h-3.42zM117.87 189.23h3.42v3.43h-3.42zM117.87 199.52h3.42v3.43h-3.42zM117.87 202.95h3.42v3.43h-3.42zM117.87 206.38h3.42v3.43h-3.42zM117.87 209.81h3.42v3.43h-3.42zM117.87 213.24h3.42v3.43h-3.42zM117.87 216.67h3.42v3.43h-3.42zM117.87 232.03h3.42v3.43h-3.42zM117.87 235.46h3.42v3.43h-3.42zM117.87 238.89h3.42v3.43h-3.42zM117.87 245.75h3.42v3.43h-3.42zM117.87 249.18h3.42v3.43h-3.42zM117.87 252.61h3.42v3.43h-3.42zM117.87 256.04h3.42v3.43h-3.42zM117.87 259.47h3.42v3.43h-3.42zM117.87 262.90h3.42v3.43h-3.42zM117.87 266.33h3.42v3.43h-3.42zM117.87 271.40h3.42v3.43h-3.42zM117.87 274.83h3.42v3.43h-3.42zM117.87 278.26h3.42v3.43h-3.42zM117.87 281.69h3.42v3.43h-3.42zM117.87 285.12h3.42v3.43h-3.42zM117.87 288.55h3.42v3.43h-3.42zM117.87 295.41h3.42v3.43h-3.42zM121.29 185.80h3.42v3.43h-3.42zM121.29 199.52h3.42v3.43h-3.42zM121.29 202.95h3.42v3.43h-3.42zM121.29 206.38h3.42v3.43h-3.42zM121.29 209.81h3.42v3.43h-3.42zM121.29 213.24h3.42v3.43h-3.42zM121.29 216.67h3.42v3.43h-3.42zM121.29 223.53h3.42v3.43h-3.42zM121.29 228.60h3.42v3.43h-3.42zM121.29 232.03h3.42v3.43h-3.42zM121.29 235.46h3.42v3.43h-3.42zM121.29 238.89h3.42v3.43h-3.42zM121.29 245.75h3.42v3.43h-3.42zM121.29 249.18h3.42v3.43h-3.42zM121.29 252.61h3.42v3.43h-3.42zM121.29 256.04h3.42v3.43h-3.42zM121.29 259.47h3.42v3.43h-3.42zM121.29 262.90h3.42v3.43h-3.42zM121.29 266.33h3.42v3.43h-3.42zM121.29 288.55h3.42v3.43h-3.42zM121.29 291.98h3.42v3.43h-3.42zM121.29 295.41h3.42v3.43h-3.42zM124.71 199.52h3.42v3.43h-3.42zM124.71 206.38h3.42v3.43h-3.42zM124.71 209.81h3.42v3.43h-3.42zM124.71 216.67h3.42v3.43h-3.42zM124.71 220.10h3.42v3.43h-3.42zM124.71 232.03h3.42v3.43h-3.42zM124.71 235.46h3.42v3.43h-3.42zM124.71 238.89h3.42v3.43h-3.42zM124.71 249.18h3.42v3.43h-3.42zM124.71 252.61h3.42v3.43h-3.42zM124.71 256.04h3.42v3.43h-3.42zM124.71 259.47h3.42v3.43h-3.42zM124.71 262.90h3.42v3.43h-3.42zM124.71 266.33h3.42v3.43h-3.42zM124.71 288.55h3.42v3.43h-3.42zM124.71 291.98h3.42v3.43h-3.42zM124.71 295.41h3.42v3.43h-3.42zM128.13 238.89h3.42v3.43h-3.42zM128.13 245.75h3.42v3.43h-3.42zM128.13 249.18h3.42v3.43h-3.42zM128.13 256.04h3.42v3.43h-3.42zM128.13 259.47h3.42v3.43h-3.42zM128.13 262.90h3.42v3.43h-3.42zM128.13 266.33h3.42v3.43h-3.42zM128.13 271.40h3.42v3.43h-3.42zM128.13 274.83h3.42v3.43h-3.42zM128.13 278.26h3.42v3.43h-3.42zM128.13 281.69h3.42v3.43h-3.42zM128.13 285.12h3.42v3.43h-3.42zM128.13 288.55h3.42v3.43h-3.42zM128.13 291.98h3.42v3.43h-3.42zM128.13 295.41h3.42v3.43h-3.42zM131.55 199.52h3.42v3.43h-3.42zM131.55 223.53h3.42v3.43h-3.42zM131.55 228.60h3.42v3.43h-3.42zM131.55 252.61h3.42v3.43h-3.42zM131.55 256.04h3.42v3.43h-3.42zM131.55 259.47h3.42v3.43h-3.42zM131.55 262.90h3.42v3.43h-3.42zM131.55 295.41h3.42v3.43h-3.42zM134.97 252.61h3.42v3.43h-3.42zM134.97 256.04h3.42v3.43h-3.42zM134.97 259.47h3.42v3.43h-3.42zM134.97 262.90h3.42v3.43h-3.42zM134.97 288.55h3.42v3.43h-3.42zM134.97 291.98h3.42v3.43h-3.42zM134.97 295.41h3.42v3.43h-3.42zM138.39 199.52h3.42v3.43h-3.42zM138.39 220.10h3.42v3.43h-3.42zM138.39 252.61h3.42v3.43h-3.42zM138.39 256.04h3.42v3.43h-3.42zM138.39 259.47h3.42v3.43h-3.42zM138.39 262.90h3.42v3.43h-3.42zM138.39 288.55h3.42v3.43h-3.42zM138.39 291.98h3.42v3.43h-3.42zM138.39 295.41h3.42v3.43h-3.42zM141.81 199.52h3.42v3.43h-3.42zM141.81 202.95h3.42v3.43h-3.42zM141.81 220.10h3.42v3.43h-3.42zM141.81 252.61h3.42v3.43h-3.42zM141.81 256.04h3.42v3.43h-3.42zM141.81 259.47h3.42v3.43h-3.42zM141.81 262.90h3.42v3.43h-3.42zM141.81 288.55h3.42v3.43h-3.42zM141.81 291.98h3.42v3.43h-3.42zM141.81 295.41h3.42v3.43h-3.42zM145.23 199.52h3.42v3.43h-3.42zM145.23 202.95h3.42v3.43h-3.42zM145.23 206.38h3.42v3.43h-3.42zM145.23 209.81h3.42v3.43h-3.42zM145.23 213.24h3.42v3.43h-3.42zM145.23 216.67h3.42v3.43h-3.42zM145.23 223.53h3.42v3.43h-3.42zM145.23 228.60h3.42v3.43h-3.42zM145.23 291.98h3.42v3.43h-3.42zM145.23 295.41h3.42v3.43h-3.42zM148.65 199.52h3.42v3.43h-3.42zM148.65 202.95h3.42v3.43h-3.42zM148.65 216.67h3.42v3.43h-3.42zM148.65 223.53h3.42v3.43h-3.42zM148.65 228.60h3.42v3.43h-3.42zM148.65 295.41h3.42v3.43h-3.42zM152.07 199.52h3.42v3.43h-3.42zM152.07 220.10h3.42v3.43h-3.42zM152.07 228.60h3.42v3.43h-3.42zM152.07 271.40h3.42v3.43h-3.42zM152.07 274.83h3.42v3.43h-3.42zM152.07 278.26h3.42v3.43h-3.42zM152.07 281.69h3.42v3.43h-3.42zM152.07 285.12h3.42v3.43h-3.42zM152.07 288.55h3.42v3.43h-3.42zM155.49 199.52h3.42v3.43h-3.42zM155.49 202.95h3.42v3.43h-3.42zM155.49 220.10h3.42v3.43h-3.42zM155.49 228.60h3.42v3.43h-3.42zM155.49 235.46h3.42v3.43h-3.42zM155.49 245.75h3.42v3.43h-3.42zM155.49 249.18h3.42v3.43h-3.42zM155.49 252.61h3.42v3.43h-3.42zM155.49 256.04h3.42v3.43h-3.42zM155.49 259.47h3.42v3.43h-3.42zM155.49 262.90h3.42v3.43h-3.42zM155.49 271.40h3.42v3.43h-3.42zM155.49 274.83h3.42v3.43h-3.42zM155.49 278.26h3.42v3.43h-3.42zM155.49 281.69h3.42v3.43h-3.42zM155.49 285.12h3.42v3.43h-3.42zM155.49 288.55h3.42v3.43h-3.42zM155.49 291.98h3.42v3.43h-3.42zM155.49 295.41h3.42v3.43h-3.42zM158.91 196.09h3.42v3.43h-3.42zM158.91 199.52h3.42v3.43h-3.42zM158.91 202.95h3.42v3.43h-3.42zM158.91 220.10h3.42v3.43h-3.42zM158.91 245.75h3.42v3.43h-3.42zM158.91 249.18h3.42v3.43h-3.42zM158.91 252.61h3.42v3.43h-3.42zM158.91 256.04h3.42v3.43h-3.42zM158.91 259.47h3.42v3.43h-3.42zM158.91 262.90h3.42v3.43h-3.42zM158.91 274.83h3.42v3.43h-3.42zM158.91 278.26h3.42v3.43h-3.42zM158.91 281.69h3.42v3.43h-3.42zM158.91 285.12h3.42v3.43h-3.42zM158.91 288.55h3.42v3.43h-3.42zM158.91 291.98h3.42v3.43h-3.42zM158.91 295.41h3.42v3.43h-3.42zM164.08 220.10h3.42v3.43h-3.42zM164.08 256.04h3.42v3.43h-3.42zM164.08 259.47h3.42v3.43h-3.42zM164.08 262.90h3.42v3.43h-3.42zM167.50 202.95h3.42v3.43h-3.42zM167.50 252.61h3.42v3.43h-3.42zM167.50 256.04h3.42v3.43h-3.42zM167.50 259.47h3.42v3.43h-3.42zM167.50 262.90h3.42v3.43h-3.42zM170.92 202.95h3.42v3.43h-3.42zM170.92 252.61h3.42v3.43h-3.42zM170.92 256.04h3.42v3.43h-3.42zM170.92 259.47h3.42v3.43h-3.42zM170.92 262.90h3.42v3.43h-3.42zM174.34 199.52h3.42v3.43h-3.42zM174.34 202.95h3.42v3.43h-3.42zM174.34 220.10h3.42v3.43h-3.42zM174.34 223.53h3.42v3.43h-3.42zM174.34 228.60h3.42v3.43h-3.42zM174.34 249.18h3.42v3.43h-3.42zM174.34 252.61h3.42v3.43h-3.42zM174.34 256.04h3.42v3.43h-3.42zM174.34 259.47h3.42v3.43h-3.42zM174.34 262.90h3.42v3.43h-3.42zM177.76 220.10h3.42v3.43h-3.42zM177.76 228.60h3.42v3.43h-3.42zM177.76 232.03h3.42v3.43h-3.42zM177.76 235.46h3.42v3.43h-3.42zM177.76 259.47h3.42v3.43h-3.42zM177.76 262.90h3.42v3.43h-3.42zM181.18 202.95h3.42v3.43h-3.42zM181.18 220.10h3.42v3.43h-3.42zM181.18 223.53h3.42v3.43h-3.42zM181.18 252.61h3.42v3.43h-3.42zM181.18 256.04h3.42v3.43h-3.42zM181.18 259.47h3.42v3.43h-3.42zM181.18 262.90h3.42v3.43h-3.42zM184.60 202.95h3.42v3.43h-3.42zM184.60 223.53h3.42v3.43h-3.42zM184.60 228.60h3.42v3.43h-3.42zM184.60 232.03h3.42v3.43h-3.42zM184.60 235.46h3.42v3.43h-3.42zM184.60 252.61h3.42v3.43h-3.42zM184.60 256.04h3.42v3.43h-3.42zM184.60 259.47h3.42v3.43h-3.42zM188.02 202.95h3.42v3.43h-3.42zM188.02 223.53h3.42v3.43h-3.42zM188.02 228.60h3.42v3.43h-3.42zM188.02 232.03h3.42v3.43h-3.42zM188.02 235.46h3.42v3.43h-3.42zM188.02 252.61h3.42v3.43h-3.42zM188.02 256.04h3.42v3.43h-3.42zM188.02 259.47h3.42v3.43h-3.42zM191.44 202.95h3.42v3.43h-3.42zM191.44 223.53h3.42v3.43h-3.42zM191.44 228.60h3.42v3.43h-3.42zM191.44 232.03h3.42v3.43h-3.42zM191.44 235.46h3.42v3.43h-3.42zM191.44 252.61h3.42v3.43h-3.42zM191.44 256.04h3.42v3.43h-3.42zM191.44 259.47h3.42v3.43h-3.42zM191.44 262.90h3.42v3.43h-3.42zM194.86 202.95h3.42v3.43h-3.42zM194.86 223.53h3.42v3.43h-3.42zM194.86 228.60h3.42v3.43h-3.42zM194.86 232.03h3.42v3.43h-3.42zM194.86 235.46h3.42v3.43h-3.42zM194.86 252.61h3.42v3.43h-3.42zM194.86 256.04h3.42v3.43h-3.42zM194.86 259.47h3.42v3.43h-3.42zM194.86 262.90h3.42v3.43h-3.42zM200.03 242.32h3.42v3.43h-3.42zM200.03 245.75h3.42v3.43h-3.42zM200.03 249.18h3.42v3.43h-3.42zM200.03 266.33h3.42v3.43h-3.42zM200.03 271.40h3.42v3.43h-3.42zM200.03 274.83h3.42v3.43h-3.42zM200.03 278.26h3.42v3.43h-3.42zM200.03 295.41h3.42v3.43h-3.42zM203.45 242.32h3.42v3.43h-3.42zM203.45 245.75h3.42v3.43h-3.42zM203.45 249.18h3.42v3.43h-3.42zM203.45 266.33h3.42v3.43h-3.42zM203.45 271.40h3.42v3.43h-3.42zM203.45 274.83h3.42v3.43h-3.42zM203.45 278.26h3.42v3.43h-3.42zM203.45 295.41h3.42v3.43h-3.42zM206.87 228.60h3.42v3.43h-3.42zM206.87 245.75h3.42v3.43h-3.42zM206.87 249.18h3.42v3.43h-3.42zM206.87 259.47h3.42v3.43h-3.42zM206.87 266.33h3.42v3.43h-3.42zM206.87 274.83h3.42v3.43h-3.42zM206.87 278.26h3.42v3.43h-3.42zM206.87 291.98h3.42v3.43h-3.42zM210.29 185.80h3.42v3.43h-3.42zM210.29 228.60h3.42v3.43h-3.42zM210.29 266.33h3.42v3.43h-3.42zM210.29 278.26h3.42v3.43h-3.42zM210.29 285.12h3.42v3.43h-3.42zM210.29 291.98h3.42v3.43h-3.42zM213.71 220.10h3.42v3.43h-3.42zM213.71 223.53h3.42v3.43h-3.42zM213.71 228.60h3.42v3.43h-3.42zM213.71 232.03h3.42v3.43h-3.42zM213.71 235.46h3.42v3.43h-3.42zM217.13 220.10h3.42v3.43h-3.42zM217.13 223.53h3.42v3.43h-3.42zM217.13 228.60h3.42v3.43h-3.42zM217.13 232.03h3.42v3.43h-3.42zM217.13 235.46h3.42v3.43h-3.42zM217.13 288.55h3.42v3.43h-3.42zM220.55 220.10h3.42v3.43h-3.42zM220.55 223.53h3.42v3.43h-3.42zM220.55 232.03h3.42v3.43h-3.42zM220.55 235.46h3.42v3.43h-3.42zM220.55 288.55h3.42v3.43h-3.42zM223.97 185.80h3.42v3.43h-3.42zM223.97 220.10h3.42v3.43h-3.42zM223.97 223.53h3.42v3.43h-3.42zM223.97 228.60h3.42v3.43h-3.42zM223.97 232.03h3.42v3.43h-3.42zM223.97 235.46h3.42v3.43h-3.42zM223.97 271.40h3.42v3.43h-3.42zM223.97 288.55h3.42v3.43h-3.42zM227.39 185.80h3.42v3.43h-3.42zM227.39 220.10h3.42v3.43h-3.42zM227.39 223.53h3.42v3.43h-3.42zM227.39 228.60h3.42v3.43h-3.42zM227.39 232.03h3.42v3.43h-3.42zM227.39 235.46h3.42v3.43h-3.42zM227.39 274.83h3.42v3.43h-3.42zM227.39 278.26h3.42v3.43h-3.42zM227.39 288.55h3.42v3.43h-3.42zM230.81 185.80h3.42v3.43h-3.42zM230.81 189.23h3.42v3.43h-3.42zM230.81 220.10h3.42v3.43h-3.42zM230.81 223.53h3.42v3.43h-3.42zM230.81 228.60h3.42v3.43h-3.42zM230.81 232.03h3.42v3.43h-3.42zM230.81 235.46h3.42v3.43h-3.42zM230.81 274.83h3.42v3.43h-3.42zM230.81 278.26h3.42v3.43h-3.42zM230.81 288.55h3.42v3.43h-3.42zM234.23 185.80h3.42v3.43h-3.42zM234.23 220.10h3.42v3.43h-3.42zM234.23 223.53h3.42v3.43h-3.42zM234.23 228.60h3.42v3.43h-3.42zM234.23 232.03h3.42v3.43h-3.42zM234.23 235.46h3.42v3.43h-3.42zM234.23 271.40h3.42v3.43h-3.42zM234.23 274.83h3.42v3.43h-3.42zM234.23 278.26h3.42v3.43h-3.42zM234.23 281.69h3.42v3.43h-3.42zM234.23 288.55h3.42v3.43h-3.42zM237.65 185.80h3.42v3.43h-3.42zM237.65 220.10h3.42v3.43h-3.42zM237.65 223.53h3.42v3.43h-3.42zM237.65 228.60h3.42v3.43h-3.42zM237.65 232.03h3.42v3.43h-3.42zM237.65 235.46h3.42v3.43h-3.42zM237.65 271.40h3.42v3.43h-3.42zM237.65 274.83h3.42v3.43h-3.42zM237.65 278.26h3.42v3.43h-3.42zM237.65 288.55h3.42v3.43h-3.42zM241.07 220.10h3.42v3.43h-3.42zM241.07 223.53h3.42v3.43h-3.42zM241.07 238.89h3.42v3.43h-3.42zM241.07 242.32h3.42v3.43h-3.42zM241.07 266.33h3.42v3.43h-3.42zM244.49 220.10h3.42v3.43h-3.42zM244.49 223.53h3.42v3.43h-3.42zM244.49 228.60h3.42v3.43h-3.42zM244.49 232.03h3.42v3.43h-3.42zM244.49 235.46h3.42v3.43h-3.42zM244.49 238.89h3.42v3.43h-3.42zM244.49 242.32h3.42v3.43h-3.42zM244.49 266.33h3.42v3.43h-3.42zM247.91 220.10h3.42v3.43h-3.42zM247.91 223.53h3.42v3.43h-3.42zM247.91 238.89h3.42v3.43h-3.42zM247.91 242.32h3.42v3.43h-3.42zM247.91 245.75h3.42v3.43h-3.42zM247.91 249.18h3.42v3.43h-3.42zM247.91 266.33h3.42v3.43h-3.42zM247.91 271.40h3.42v3.43h-3.42zM251.33 220.10h3.42v3.43h-3.42zM251.33 223.53h3.42v3.43h-3.42zM251.33 232.03h3.42v3.43h-3.42zM251.33 235.46h3.42v3.43h-3.42zM251.33 238.89h3.42v3.43h-3.42zM251.33 242.32h3.42v3.43h-3.42zM251.33 245.75h3.42v3.43h-3.42zM251.33 249.18h3.42v3.43h-3.42zM251.33 252.61h3.42v3.43h-3.42zM251.33 266.33h3.42v3.43h-3.42zM254.75 220.10h3.42v3.43h-3.42zM254.75 223.53h3.42v3.43h-3.42zM254.75 238.89h3.42v3.43h-3.42zM254.75 242.32h3.42v3.43h-3.42zM254.75 245.75h3.42v3.43h-3.42zM254.75 249.18h3.42v3.43h-3.42zM254.75 252.61h3.42v3.43h-3.42zM254.75 266.33h3.42v3.43h-3.42zM258.17 220.10h3.42v3.43h-3.42zM258.17 223.53h3.42v3.43h-3.42zM258.17 232.03h3.42v3.43h-3.42zM258.17 235.46h3.42v3.43h-3.42zM258.17 238.89h3.42v3.43h-3.42zM258.17 242.32h3.42v3.43h-3.42zM258.17 245.75h3.42v3.43h-3.42zM258.17 249.18h3.42v3.43h-3.42zM258.17 252.61h3.42v3.43h-3.42zM258.17 266.33h3.42v3.43h-3.42zM261.59 220.10h3.42v3.43h-3.42zM261.59 223.53h3.42v3.43h-3.42zM261.59 238.89h3.42v3.43h-3.42zM261.59 245.75h3.42v3.43h-3.42zM261.59 249.18h3.42v3.43h-3.42zM261.59 252.61h3.42v3.43h-3.42zM261.59 266.33h3.42v3.43h-3.42zM265.01 185.80h3.42v3.43h-3.42zM265.01 213.24h3.42v3.43h-3.42zM265.01 216.67h3.42v3.43h-3.42zM265.01 220.10h3.42v3.43h-3.42zM265.01 232.03h3.42v3.43h-3.42zM265.01 235.46h3.42v3.43h-3.42zM265.01 238.89h3.42v3.43h-3.42zM265.01 242.32h3.42v3.43h-3.42zM265.01 245.75h3.42v3.43h-3.42zM265.01 252.61h3.42v3.43h-3.42zM265.01 259.47h3.42v3.43h-3.42zM265.01 262.90h3.42v3.43h-3.42zM265.01 266.33h3.42v3.43h-3.42zM265.01 288.55h3.42v3.43h-3.42zM268.43 185.80h3.42v3.43h-3.42zM268.43 220.10h3.42v3.43h-3.42zM268.43 223.53h3.42v3.43h-3.42zM268.43 228.60h3.42v3.43h-3.42zM268.43 232.03h3.42v3.43h-3.42zM268.43 235.46h3.42v3.43h-3.42zM268.43 238.89h3.42v3.43h-3.42zM268.43 242.32h3.42v3.43h-3.42zM268.43 245.75h3.42v3.43h-3.42zM268.43 249.18h3.42v3.43h-3.42zM268.43 252.61h3.42v3.43h-3.42zM268.43 256.04h3.42v3.43h-3.42zM268.43 259.47h3.42v3.43h-3.42zM268.43 262.90h3.42v3.43h-3.42zM268.43 266.33h3.42v3.43h-3.42zM271.85 220.10h3.42v3.43h-3.42zM271.85 232.03h3.42v3.43h-3.42zM271.85 235.46h3.42v3.43h-3.42zM271.85 238.89h3.42v3.43h-3.42zM271.85 242.32h3.42v3.43h-3.42zM271.85 245.75h3.42v3.43h-3.42zM271.85 249.18h3.42v3.43h-3.42zM271.85 252.61h3.42v3.43h-3.42zM271.85 256.04h3.42v3.43h-3.42zM271.85 259.47h3.42v3.43h-3.42zM271.85 262.90h3.42v3.43h-3.42zM271.85 266.33h3.42v3.43h-3.42zM277.02 185.80h3.42v3.43h-3.42zM277.02 189.23h3.42v3.43h-3.42zM277.02 228.60h3.42v3.43h-3.42zM277.02 232.03h3.42v3.43h-3.42zM277.02 235.46h3.42v3.43h-3.42zM277.02 271.40h3.42v3.43h-3.42zM277.02 274.83h3.42v3.43h-3.42zM277.02 278.26h3.42v3.43h-3.42zM277.02 281.69h3.42v3.43h-3.42zM277.02 288.55h3.42v3.43h-3.42zM280.44 185.80h3.42v3.43h-3.42zM280.44 189.23h3.42v3.43h-3.42zM280.44 228.60h3.42v3.43h-3.42zM280.44 271.40h3.42v3.43h-3.42zM280.44 274.83h3.42v3.43h-3.42zM280.44 278.26h3.42v3.43h-3.42zM280.44 281.69h3.42v3.43h-3.42zM280.44 288.55h3.42v3.43h-3.42zM283.86 185.80h3.42v3.43h-3.42zM283.86 189.23h3.42v3.43h-3.42zM283.86 228.60h3.42v3.43h-3.42zM283.86 232.03h3.42v3.43h-3.42zM283.86 235.46h3.42v3.43h-3.42zM283.86 271.40h3.42v3.43h-3.42zM283.86 274.83h3.42v3.43h-3.42zM283.86 278.26h3.42v3.43h-3.42zM283.86 281.69h3.42v3.43h-3.42zM283.86 288.55h3.42v3.43h-3.42zM287.28 189.23h3.42v3.43h-3.42zM287.28 192.66h3.42v3.43h-3.42zM287.28 213.24h3.42v3.43h-3.42zM287.28 216.67h3.42v3.43h-3.42zM287.28 223.53h3.42v3.43h-3.42zM287.28 228.60h3.42v3.43h-3.42zM287.28 285.12h3.42v3.43h-3.42zM287.28 288.55h3.42v3.43h-3.42zM290.70 192.66h3.42v3.43h-3.42zM290.70 196.09h3.42v3.43h-3.42zM290.70 206.38h3.42v3.43h-3.42zM290.70 209.81h3.42v3.43h-3.42zM290.70 213.24h3.42v3.43h-3.42zM290.70 216.67h3.42v3.43h-3.42zM290.70 223.53h3.42v3.43h-3.42zM290.70 228.60h3.42v3.43h-3.42zM290.70 232.03h3.42v3.43h-3.42zM290.70 235.46h3.42v3.43h-3.42zM290.70 271.40h3.42v3.43h-3.42zM294.12 185.80h3.42v3.43h-3.42zM294.12 189.23h3.42v3.43h-3.42zM294.12 223.53h3.42v3.43h-3.42zM294.12 281.69h3.42v3.43h-3.42zM294.12 285.12h3.42v3.43h-3.42zM297.54 185.80h3.42v3.43h-3.42zM297.54 189.23h3.42v3.43h-3.42zM297.54 223.53h3.42v3.43h-3.42zM297.54 281.69h3.42v3.43h-3.42zM297.54 285.12h3.42v3.43h-3.42zM300.96 192.66h3.42v3.43h-3.42zM300.96 206.38h3.42v3.43h-3.42zM300.96 209.81h3.42v3.43h-3.42zM300.96 213.24h3.42v3.43h-3.42zM300.96 216.67h3.42v3.43h-3.42zM300.96 288.55h3.42v3.43h-3.42zM304.38 192.66h3.42v3.43h-3.42zM304.38 196.09h3.42v3.43h-3.42zM304.38 206.38h3.42v3.43h-3.42zM304.38 209.81h3.42v3.43h-3.42zM304.38 213.24h3.42v3.43h-3.42zM304.38 216.67h3.42v3.43h-3.42zM304.38 223.53h3.42v3.43h-3.42zM304.38 291.98h3.42v3.43h-3.42zM307.80 189.23h3.42v3.43h-3.42zM307.80 192.66h3.42v3.43h-3.42zM307.80 196.09h3.42v3.43h-3.42zM307.80 291.98h3.42v3.43h-3.42zM307.80 295.41h3.42v3.43h-3.42zM311.22 185.80h3.42v3.43h-3.42zM311.22 189.23h3.42v3.43h-3.42zM311.22 288.55h3.42v3.43h-3.42zM311.22 295.41h3.42v3.43h-3.42zM314.64 185.80h3.42v3.43h-3.42zM314.64 189.23h3.42v3.43h-3.42zM314.64 192.66h3.42v3.43h-3.42zM314.64 196.09h3.42v3.43h-3.42zM314.64 291.98h3.42v3.43h-3.42zM314.64 295.41h3.42v3.43h-3.42zM318.06 185.80h3.42v3.43h-3.42zM318.06 189.23h3.42v3.43h-3.42zM318.06 238.89h3.42v3.43h-3.42zM318.06 242.32h3.42v3.43h-3.42zM318.06 245.75h3.42v3.43h-3.42zM318.06 249.18h3.42v3.43h-3.42zM318.06 281.69h3.42v3.43h-3.42zM318.06 291.98h3.42v3.43h-3.42zM318.06 295.41h3.42v3.43h-3.42zM321.48 185.80h3.42v3.43h-3.42zM321.48 189.23h3.42v3.43h-3.42zM321.48 281.69h3.42v3.43h-3.42zM324.90 185.80h3.42v3.43h-3.42zM324.90 189.23h3.42v3.43h-3.42zM324.90 238.89h3.42v3.43h-3.42zM324.90 242.32h3.42v3.43h-3.42zM324.90 281.69h3.42v3.43h-3.42zM324.90 291.98h3.42v3.43h-3.42zM324.90 295.41h3.42v3.43h-3.42zM328.32 185.80h3.42v3.43h-3.42zM328.32 189.23h3.42v3.43h-3.42zM328.32 238.89h3.42v3.43h-3.42zM328.32 242.32h3.42v3.43h-3.42zM328.32 281.69h3.42v3.43h-3.42zM328.32 291.98h3.42v3.43h-3.42zM328.32 295.41h3.42v3.43h-3.42zM331.74 185.80h3.42v3.43h-3.42zM331.74 189.23h3.42v3.43h-3.42zM331.74 238.89h3.42v3.43h-3.42zM331.74 242.32h3.42v3.43h-3.42zM331.74 291.98h3.42v3.43h-3.42zM331.74 295.41h3.42v3.43h-3.42zM335.16 185.80h3.42v3.43h-3.42zM335.16 189.23h3.42v3.43h-3.42zM335.16 196.09h3.42v3.43h-3.42zM335.16 238.89h3.42v3.43h-3.42zM335.16 242.32h3.42v3.43h-3.42zM335.16 291.98h3.42v3.43h-3.42zM335.16 295.41h3.42v3.43h-3.42zM338.58 185.80h3.42v3.43h-3.42zM338.58 189.23h3.42v3.43h-3.42zM338.58 192.66h3.42v3.43h-3.42zM338.58 196.09h3.42v3.43h-3.42zM338.58 238.89h3.42v3.43h-3.42zM338.58 242.32h3.42v3.43h-3.42zM338.58 281.69h3.42v3.43h-3.42zM338.58 291.98h3.42v3.43h-3.42zM338.58 295.41h3.42v3.43h-3.42zM342.00 185.80h3.42v3.43h-3.42zM342.00 189.23h3.42v3.43h-3.42zM342.00 192.66h3.42v3.43h-3.42zM342.00 196.09h3.42v3.43h-3.42zM342.00 238.89h3.42v3.43h-3.42zM342.00 242.32h3.42v3.43h-3.42zM342.00 281.69h3.42v3.43h-3.42zM342.00 291.98h3.42v3.43h-3.42zM342.00 295.41h3.42v3.43h-3.42zM347.17 185.80h3.42v3.43h-3.42zM347.17 189.23h3.42v3.43h-3.42zM347.17 192.66h3.42v3.43h-3.42zM347.17 196.09h3.42v3.43h-3.42zM347.17 199.52h3.42v3.43h-3.42zM347.17 202.95h3.42v3.43h-3.42zM347.17 206.38h3.42v3.43h-3.42zM347.17 209.81h3.42v3.43h-3.42zM347.17 220.10h3.42v3.43h-3.42zM347.17 238.89h3.42v3.43h-3.42zM347.17 242.32h3.42v3.43h-3.42zM347.17 245.75h3.42v3.43h-3.42zM347.17 249.18h3.42v3.43h-3.42zM347.17 256.04h3.42v3.43h-3.42zM347.17 259.47h3.42v3.43h-3.42zM347.17 262.90h3.42v3.43h-3.42zM347.17 266.33h3.42v3.43h-3.42zM347.17 281.69h3.42v3.43h-3.42zM350.59 185.80h3.42v3.43h-3.42zM350.59 189.23h3.42v3.43h-3.42zM350.59 192.66h3.42v3.43h-3.42zM350.59 196.09h3.42v3.43h-3.42zM350.59 199.52h3.42v3.43h-3.42zM350.59 202.95h3.42v3.43h-3.42zM350.59 206.38h3.42v3.43h-3.42zM350.59 209.81h3.42v3.43h-3.42zM350.59 213.24h3.42v3.43h-3.42zM350.59 238.89h3.42v3.43h-3.42zM350.59 242.32h3.42v3.43h-3.42zM350.59 245.75h3.42v3.43h-3.42zM350.59 249.18h3.42v3.43h-3.42zM350.59 256.04h3.42v3.43h-3.42zM350.59 259.47h3.42v3.43h-3.42zM350.59 262.90h3.42v3.43h-3.42zM350.59 266.33h3.42v3.43h-3.42zM354.01 185.80h3.42v3.43h-3.42zM354.01 199.52h3.42v3.43h-3.42zM354.01 202.95h3.42v3.43h-3.42zM354.01 206.38h3.42v3.43h-3.42zM354.01 209.81h3.42v3.43h-3.42zM354.01 213.24h3.42v3.43h-3.42zM354.01 216.67h3.42v3.43h-3.42zM354.01 238.89h3.42v3.43h-3.42zM354.01 242.32h3.42v3.43h-3.42zM354.01 245.75h3.42v3.43h-3.42zM354.01 249.18h3.42v3.43h-3.42zM354.01 252.61h3.42v3.43h-3.42zM354.01 256.04h3.42v3.43h-3.42zM354.01 259.47h3.42v3.43h-3.42zM354.01 262.90h3.42v3.43h-3.42zM354.01 266.33h3.42v3.43h-3.42zM357.43 185.80h3.42v3.43h-3.42zM357.43 189.23h3.42v3.43h-3.42zM357.43 192.66h3.42v3.43h-3.42zM357.43 196.09h3.42v3.43h-3.42zM357.43 202.95h3.42v3.43h-3.42zM357.43 206.38h3.42v3.43h-3.42zM357.43 209.81h3.42v3.43h-3.42zM357.43 213.24h3.42v3.43h-3.42zM357.43 216.67h3.42v3.43h-3.42zM357.43 223.53h3.42v3.43h-3.42zM357.43 228.60h3.42v3.43h-3.42zM357.43 232.03h3.42v3.43h-3.42zM357.43 235.46h3.42v3.43h-3.42zM357.43 238.89h3.42v3.43h-3.42zM357.43 245.75h3.42v3.43h-3.42zM357.43 252.61h3.42v3.43h-3.42zM357.43 256.04h3.42v3.43h-3.42zM357.43 259.47h3.42v3.43h-3.42zM357.43 262.90h3.42v3.43h-3.42zM357.43 266.33h3.42v3.43h-3.42zM357.43 271.40h3.42v3.43h-3.42zM357.43 281.69h3.42v3.43h-3.42zM357.43 285.12h3.42v3.43h-3.42zM357.43 288.55h3.42v3.43h-3.42zM360.85 189.23h3.42v3.43h-3.42zM360.85 220.10h3.42v3.43h-3.42zM360.85 223.53h3.42v3.43h-3.42zM360.85 228.60h3.42v3.43h-3.42zM360.85 232.03h3.42v3.43h-3.42zM360.85 235.46h3.42v3.43h-3.42zM360.85 252.61h3.42v3.43h-3.42zM360.85 256.04h3.42v3.43h-3.42zM360.85 262.90h3.42v3.43h-3.42zM360.85 266.33h3.42v3.43h-3.42zM360.85 271.40h3.42v3.43h-3.42zM360.85 274.83h3.42v3.43h-3.42zM360.85 278.26h3.42v3.43h-3.42zM360.85 281.69h3.42v3.43h-3.42zM360.85 285.12h3.42v3.43h-3.42zM360.85 288.55h3.42v3.43h-3.42zM364.27 185.80h3.42v3.43h-3.42zM364.27 192.66h3.42v3.43h-3.42zM364.27 196.09h3.42v3.43h-3.42zM364.27 216.67h3.42v3.43h-3.42zM364.27 223.53h3.42v3.43h-3.42zM364.27 228.60h3.42v3.43h-3.42zM364.27 232.03h3.42v3.43h-3.42zM364.27 235.46h3.42v3.43h-3.42zM367.69 192.66h3.42v3.43h-3.42zM367.69 196.09h3.42v3.43h-3.42zM367.69 206.38h3.42v3.43h-3.42zM367.69 209.81h3.42v3.43h-3.42zM367.69 213.24h3.42v3.43h-3.42zM367.69 216.67h3.42v3.43h-3.42zM367.69 223.53h3.42v3.43h-3.42zM367.69 228.60h3.42v3.43h-3.42zM367.69 232.03h3.42v3.43h-3.42zM367.69 235.46h3.42v3.43h-3.42zM367.69 285.12h3.42v3.43h-3.42zM367.69 291.98h3.42v3.43h-3.42zM371.11 196.09h3.42v3.43h-3.42zM371.11 199.52h3.42v3.43h-3.42zM371.11 223.53h3.42v3.43h-3.42zM371.11 228.60h3.42v3.43h-3.42zM371.11 232.03h3.42v3.43h-3.42zM371.11 235.46h3.42v3.43h-3.42zM371.11 252.61h3.42v3.43h-3.42zM371.11 256.04h3.42v3.43h-3.42zM371.11 285.12h3.42v3.43h-3.42zM371.11 291.98h3.42v3.43h-3.42zM374.53 192.66h3.42v3.43h-3.42zM374.53 196.09h3.42v3.43h-3.42zM374.53 199.52h3.42v3.43h-3.42zM374.53 202.95h3.42v3.43h-3.42zM374.53 206.38h3.42v3.43h-3.42zM374.53 209.81h3.42v3.43h-3.42zM374.53 216.67h3.42v3.43h-3.42zM374.53 223.53h3.42v3.43h-3.42zM374.53 228.60h3.42v3.43h-3.42zM374.53 232.03h3.42v3.43h-3.42zM374.53 235.46h3.42v3.43h-3.42zM374.53 252.61h3.42v3.43h-3.42zM374.53 256.04h3.42v3.43h-3.42zM374.53 262.90h3.42v3.43h-3.42zM374.53 271.40h3.42v3.43h-3.42zM374.53 285.12h3.42v3.43h-3.42zM374.53 291.98h3.42v3.43h-3.42zM377.95 185.80h3.42v3.43h-3.42zM377.95 189.23h3.42v3.43h-3.42zM377.95 192.66h3.42v3.43h-3.42zM377.95 196.09h3.42v3.43h-3.42zM377.95 199.52h3.42v3.43h-3.42zM377.95 202.95h3.42v3.43h-3.42zM377.95 206.38h3.42v3.43h-3.42zM377.95 209.81h3.42v3.43h-3.42zM377.95 213.24h3.42v3.43h-3.42zM377.95 216.67h3.42v3.43h-3.42zM377.95 223.53h3.42v3.43h-3.42zM377.95 228.60h3.42v3.43h-3.42zM377.95 232.03h3.42v3.43h-3.42zM377.95 235.46h3.42v3.43h-3.42zM377.95 252.61h3.42v3.43h-3.42zM377.95 256.04h3.42v3.43h-3.42zM377.95 262.90h3.42v3.43h-3.42zM377.95 266.33h3.42v3.43h-3.42zM377.95 291.98h3.42v3.43h-3.42zM377.95 295.41h3.42v3.43h-3.42zM381.37 199.52h3.42v3.43h-3.42zM381.37 202.95h3.42v3.43h-3.42zM381.37 223.53h3.42v3.43h-3.42zM381.37 256.04h3.42v3.43h-3.42zM381.37 259.47h3.42v3.43h-3.42zM381.37 262.90h3.42v3.43h-3.42zM381.37 266.33h3.42v3.43h-3.42zM381.37 291.98h3.42v3.43h-3.42zM381.37 295.41h3.42v3.43h-3.42zM384.79 199.52h3.42v3.43h-3.42zM384.79 223.53h3.42v3.43h-3.42zM384.79 228.60h3.42v3.43h-3.42zM384.79 232.03h3.42v3.43h-3.42zM384.79 235.46h3.42v3.43h-3.42zM384.79 252.61h3.42v3.43h-3.42zM384.79 256.04h3.42v3.43h-3.42zM384.79 259.47h3.42v3.43h-3.42zM384.79 262.90h3.42v3.43h-3.42zM384.79 266.33h3.42v3.43h-3.42zM384.79 285.12h3.42v3.43h-3.42zM384.79 295.41h3.42v3.43h-3.42zM388.21 189.23h3.42v3.43h-3.42zM388.21 196.09h3.42v3.43h-3.42zM388.21 228.60h3.42v3.43h-3.42zM388.21 232.03h3.42v3.43h-3.42zM388.21 235.46h3.42v3.43h-3.42zM388.21 252.61h3.42v3.43h-3.42zM388.21 256.04h3.42v3.43h-3.42zM388.21 259.47h3.42v3.43h-3.42zM388.21 262.90h3.42v3.43h-3.42zM388.21 266.33h3.42v3.43h-3.42zM388.21 295.41h3.42v3.43h-3.42zM391.63 199.52h3.42v3.43h-3.42zM391.63 202.95h3.42v3.43h-3.42zM391.63 235.46h3.42v3.43h-3.42zM391.63 252.61h3.42v3.43h-3.42zM391.63 259.47h3.42v3.43h-3.42zM391.63 262.90h3.42v3.43h-3.42zM391.63 266.33h3.42v3.43h-3.42zM395.05 199.52h3.42v3.43h-3.42zM395.05 202.95h3.42v3.43h-3.42zM395.05 223.53h3.42v3.43h-3.42zM395.05 228.60h3.42v3.43h-3.42zM395.05 252.61h3.42v3.43h-3.42zM395.05 256.04h3.42v3.43h-3.42zM395.05 259.47h3.42v3.43h-3.42zM395.05 262.90h3.42v3.43h-3.42zM395.05 266.33h3.42v3.43h-3.42zM398.47 199.52h3.42v3.43h-3.42zM398.47 202.95h3.42v3.43h-3.42zM398.47 223.53h3.42v3.43h-3.42zM398.47 228.60h3.42v3.43h-3.42zM398.47 252.61h3.42v3.43h-3.42zM398.47 256.04h3.42v3.43h-3.42zM398.47 259.47h3.42v3.43h-3.42zM398.47 262.90h3.42v3.43h-3.42zM398.47 266.33h3.42v3.43h-3.42zM398.47 295.41h3.42v3.43h-3.42zM401.89 199.52h3.42v3.43h-3.42zM401.89 202.95h3.42v3.43h-3.42zM401.89 206.38h3.42v3.43h-3.42zM401.89 223.53h3.42v3.43h-3.42zM401.89 228.60h3.42v3.43h-3.42zM401.89 245.75h3.42v3.43h-3.42zM401.89 249.18h3.42v3.43h-3.42zM401.89 252.61h3.42v3.43h-3.42zM401.89 256.04h3.42v3.43h-3.42zM401.89 259.47h3.42v3.43h-3.42zM401.89 262.90h3.42v3.43h-3.42zM401.89 266.33h3.42v3.43h-3.42zM405.31 199.52h3.42v3.43h-3.42zM405.31 202.95h3.42v3.43h-3.42zM405.31 206.38h3.42v3.43h-3.42zM405.31 209.81h3.42v3.43h-3.42zM405.31 213.24h3.42v3.43h-3.42zM405.31 216.67h3.42v3.43h-3.42zM405.31 223.53h3.42v3.43h-3.42zM405.31 228.60h3.42v3.43h-3.42zM405.31 238.89h3.42v3.43h-3.42zM405.31 242.32h3.42v3.43h-3.42zM405.31 245.75h3.42v3.43h-3.42zM405.31 249.18h3.42v3.43h-3.42zM405.31 252.61h3.42v3.43h-3.42zM405.31 256.04h3.42v3.43h-3.42zM405.31 259.47h3.42v3.43h-3.42zM405.31 262.90h3.42v3.43h-3.42zM405.31 266.33h3.42v3.43h-3.42zM405.31 295.41h3.42v3.43h-3.42zM408.73 199.52h3.42v3.43h-3.42zM408.73 202.95h3.42v3.43h-3.42zM408.73 206.38h3.42v3.43h-3.42zM408.73 209.81h3.42v3.43h-3.42zM408.73 213.24h3.42v3.43h-3.42zM408.73 216.67h3.42v3.43h-3.42zM408.73 223.53h3.42v3.43h-3.42zM408.73 228.60h3.42v3.43h-3.42zM408.73 232.03h3.42v3.43h-3.42zM408.73 235.46h3.42v3.43h-3.42zM408.73 249.18h3.42v3.43h-3.42zM408.73 252.61h3.42v3.43h-3.42zM408.73 256.04h3.42v3.43h-3.42zM408.73 259.47h3.42v3.43h-3.42zM408.73 262.90h3.42v3.43h-3.42zM408.73 266.33h3.42v3.43h-3.42zM408.73 288.55h3.42v3.43h-3.42zM412.15 199.52h3.42v3.43h-3.42zM412.15 202.95h3.42v3.43h-3.42zM412.15 206.38h3.42v3.43h-3.42zM412.15 209.81h3.42v3.43h-3.42zM412.15 213.24h3.42v3.43h-3.42zM412.15 216.67h3.42v3.43h-3.42zM412.15 223.53h3.42v3.43h-3.42zM412.15 252.61h3.42v3.43h-3.42zM412.15 256.04h3.42v3.43h-3.42zM412.15 288.55h3.42v3.43h-3.42zM415.57 199.52h3.42v3.43h-3.42zM415.57 202.95h3.42v3.43h-3.42zM415.57 206.38h3.42v3.43h-3.42zM415.57 209.81h3.42v3.43h-3.42zM415.57 216.67h3.42v3.43h-3.42zM415.57 288.55h3.42v3.43h-3.42zM418.99 199.52h3.42v3.43h-3.42zM418.99 206.38h3.42v3.43h-3.42zM418.99 209.81h3.42v3.43h-3.42zM418.99 213.24h3.42v3.43h-3.42zM418.99 216.67h3.42v3.43h-3.42zM418.99 288.55h3.42v3.43h-3.42zM422.41 189.23h3.42v3.43h-3.42zM422.41 202.95h3.42v3.43h-3.42zM422.41 206.38h3.42v3.43h-3.42zM422.41 209.81h3.42v3.43h-3.42zM422.41 213.24h3.42v3.43h-3.42zM422.41 216.67h3.42v3.43h-3.42zM422.41 252.61h3.42v3.43h-3.42zM422.41 256.04h3.42v3.43h-3.42zM422.41 288.55h3.42v3.43h-3.42zM425.83 185.80h3.42v3.43h-3.42zM425.83 189.23h3.42v3.43h-3.42zM425.83 196.09h3.42v3.43h-3.42zM425.83 199.52h3.42v3.43h-3.42zM425.83 202.95h3.42v3.43h-3.42zM425.83 206.38h3.42v3.43h-3.42zM425.83 209.81h3.42v3.43h-3.42zM425.83 216.67h3.42v3.43h-3.42zM425.83 228.60h3.42v3.43h-3.42zM425.83 235.46h3.42v3.43h-3.42zM425.83 238.89h3.42v3.43h-3.42zM425.83 242.32h3.42v3.43h-3.42zM425.83 245.75h3.42v3.43h-3.42zM425.83 249.18h3.42v3.43h-3.42zM425.83 252.61h3.42v3.43h-3.42zM425.83 256.04h3.42v3.43h-3.42zM425.83 259.47h3.42v3.43h-3.42zM425.83 262.90h3.42v3.43h-3.42zM425.83 266.33h3.42v3.43h-3.42zM425.83 281.69h3.42v3.43h-3.42zM425.83 288.55h3.42v3.43h-3.42zM429.25 185.80h3.42v3.43h-3.42zM429.25 189.23h3.42v3.43h-3.42zM429.25 192.66h3.42v3.43h-3.42zM429.25 196.09h3.42v3.43h-3.42zM429.25 206.38h3.42v3.43h-3.42zM429.25 209.81h3.42v3.43h-3.42zM429.25 213.24h3.42v3.43h-3.42zM429.25 216.67h3.42v3.43h-3.42zM429.25 238.89h3.42v3.43h-3.42zM429.25 242.32h3.42v3.43h-3.42zM429.25 245.75h3.42v3.43h-3.42zM429.25 249.18h3.42v3.43h-3.42zM429.25 256.04h3.42v3.43h-3.42zM429.25 259.47h3.42v3.43h-3.42zM429.25 266.33h3.42v3.43h-3.42zM429.25 281.69h3.42v3.43h-3.42zM432.67 185.80h3.42v3.43h-3.42zM432.67 189.23h3.42v3.43h-3.42zM432.67 196.09h3.42v3.43h-3.42zM432.67 206.38h3.42v3.43h-3.42zM432.67 209.81h3.42v3.43h-3.42zM432.67 238.89h3.42v3.43h-3.42zM432.67 242.32h3.42v3.43h-3.42zM432.67 245.75h3.42v3.43h-3.42zM432.67 249.18h3.42v3.43h-3.42zM432.67 252.61h3.42v3.43h-3.42zM432.67 256.04h3.42v3.43h-3.42zM432.67 259.47h3.42v3.43h-3.42zM432.67 262.90h3.42v3.43h-3.42zM432.67 266.33h3.42v3.43h-3.42zM432.67 288.55h3.42v3.43h-3.42zM436.09 185.80h3.42v3.43h-3.42zM436.09 189.23h3.42v3.43h-3.42zM436.09 202.95h3.42v3.43h-3.42zM436.09 206.38h3.42v3.43h-3.42zM436.09 209.81h3.42v3.43h-3.42zM436.09 216.67h3.42v3.43h-3.42zM436.09 238.89h3.42v3.43h-3.42zM436.09 242.32h3.42v3.43h-3.42zM436.09 245.75h3.42v3.43h-3.42zM436.09 249.18h3.42v3.43h-3.42zM436.09 252.61h3.42v3.43h-3.42zM436.09 256.04h3.42v3.43h-3.42zM436.09 259.47h3.42v3.43h-3.42zM436.09 266.33h3.42v3.43h-3.42zM436.09 288.55h3.42v3.43h-3.42zM439.51 185.80h3.42v3.43h-3.42zM439.51 189.23h3.42v3.43h-3.42zM439.51 192.66h3.42v3.43h-3.42zM439.51 196.09h3.42v3.43h-3.42zM439.51 199.52h3.42v3.43h-3.42zM439.51 202.95h3.42v3.43h-3.42zM439.51 206.38h3.42v3.43h-3.42zM439.51 209.81h3.42v3.43h-3.42zM439.51 213.24h3.42v3.43h-3.42zM439.51 216.67h3.42v3.43h-3.42zM439.51 252.61h3.42v3.43h-3.42zM439.51 256.04h3.42v3.43h-3.42zM439.51 259.47h3.42v3.43h-3.42zM439.51 262.90h3.42v3.43h-3.42zM439.51 266.33h3.42v3.43h-3.42zM439.51 281.69h3.42v3.43h-3.42zM442.93 185.80h3.42v3.43h-3.42zM442.93 189.23h3.42v3.43h-3.42zM442.93 192.66h3.42v3.43h-3.42zM442.93 196.09h3.42v3.43h-3.42zM442.93 199.52h3.42v3.43h-3.42zM442.93 202.95h3.42v3.43h-3.42zM442.93 206.38h3.42v3.43h-3.42zM442.93 209.81h3.42v3.43h-3.42zM442.93 213.24h3.42v3.43h-3.42zM442.93 216.67h3.42v3.43h-3.42zM442.93 252.61h3.42v3.43h-3.42zM442.93 256.04h3.42v3.43h-3.42zM442.93 259.47h3.42v3.43h-3.42zM442.93 262.90h3.42v3.43h-3.42zM442.93 266.33h3.42v3.43h-3.42zM442.93 281.69h3.42v3.43h-3.42zM442.93 288.55h3.42v3.43h-3.42zM446.35 185.80h3.42v3.43h-3.42zM446.35 189.23h3.42v3.43h-3.42zM446.35 192.66h3.42v3.43h-3.42zM446.35 196.09h3.42v3.43h-3.42zM446.35 199.52h3.42v3.43h-3.42zM446.35 202.95h3.42v3.43h-3.42zM446.35 206.38h3.42v3.43h-3.42zM446.35 209.81h3.42v3.43h-3.42zM446.35 213.24h3.42v3.43h-3.42zM446.35 216.67h3.42v3.43h-3.42zM446.35 252.61h3.42v3.43h-3.42zM446.35 256.04h3.42v3.43h-3.42zM446.35 259.47h3.42v3.43h-3.42zM446.35 266.33h3.42v3.43h-3.42zM446.35 281.69h3.42v3.43h-3.42zM446.35 288.55h3.42v3.43h-3.42zM449.77 185.80h3.42v3.43h-3.42zM449.77 189.23h3.42v3.43h-3.42zM449.77 196.09h3.42v3.43h-3.42zM449.77 199.52h3.42v3.43h-3.42zM449.77 202.95h3.42v3.43h-3.42zM449.77 206.38h3.42v3.43h-3.42zM449.77 213.24h3.42v3.43h-3.42zM449.77 216.67h3.42v3.43h-3.42zM449.77 223.53h3.42v3.43h-3.42zM449.77 238.89h3.42v3.43h-3.42zM449.77 242.32h3.42v3.43h-3.42zM449.77 245.75h3.42v3.43h-3.42zM449.77 249.18h3.42v3.43h-3.42zM449.77 252.61h3.42v3.43h-3.42zM449.77 256.04h3.42v3.43h-3.42zM449.77 259.47h3.42v3.43h-3.42zM449.77 262.90h3.42v3.43h-3.42zM449.77 266.33h3.42v3.43h-3.42zM449.77 288.55h3.42v3.43h-3.42zM453.19 185.80h3.42v3.43h-3.42zM453.19 189.23h3.42v3.43h-3.42zM453.19 192.66h3.42v3.43h-3.42zM453.19 196.09h3.42v3.43h-3.42zM453.19 199.52h3.42v3.43h-3.42zM453.19 202.95h3.42v3.43h-3.42zM453.19 206.38h3.42v3.43h-3.42zM453.19 209.81h3.42v3.43h-3.42zM453.19 213.24h3.42v3.43h-3.42zM453.19 216.67h3.42v3.43h-3.42zM453.19 238.89h3.42v3.43h-3.42zM453.19 242.32h3.42v3.43h-3.42zM453.19 245.75h3.42v3.43h-3.42zM453.19 249.18h3.42v3.43h-3.42zM453.19 252.61h3.42v3.43h-3.42zM453.19 256.04h3.42v3.43h-3.42zM453.19 259.47h3.42v3.43h-3.42zM453.19 262.90h3.42v3.43h-3.42zM453.19 266.33h3.42v3.43h-3.42zM453.19 288.55h3.42v3.43h-3.42zM456.61 185.80h3.42v3.43h-3.42zM456.61 189.23h3.42v3.43h-3.42zM456.61 199.52h3.42v3.43h-3.42zM456.61 202.95h3.42v3.43h-3.42zM456.61 206.38h3.42v3.43h-3.42zM456.61 209.81h3.42v3.43h-3.42zM456.61 213.24h3.42v3.43h-3.42zM456.61 216.67h3.42v3.43h-3.42zM456.61 238.89h3.42v3.43h-3.42zM456.61 242.32h3.42v3.43h-3.42zM456.61 245.75h3.42v3.43h-3.42zM456.61 249.18h3.42v3.43h-3.42zM456.61 252.61h3.42v3.43h-3.42zM456.61 256.04h3.42v3.43h-3.42zM456.61 259.47h3.42v3.43h-3.42zM456.61 262.90h3.42v3.43h-3.42zM456.61 266.33h3.42v3.43h-3.42zM456.61 288.55h3.42v3.43h-3.42zM460.03 185.80h3.42v3.43h-3.42zM460.03 189.23h3.42v3.43h-3.42zM460.03 196.09h3.42v3.43h-3.42zM460.03 199.52h3.42v3.43h-3.42zM460.03 202.95h3.42v3.43h-3.42zM460.03 206.38h3.42v3.43h-3.42zM460.03 209.81h3.42v3.43h-3.42zM460.03 213.24h3.42v3.43h-3.42zM460.03 216.67h3.42v3.43h-3.42zM460.03 238.89h3.42v3.43h-3.42zM460.03 242.32h3.42v3.43h-3.42zM460.03 245.75h3.42v3.43h-3.42zM460.03 249.18h3.42v3.43h-3.42zM460.03 252.61h3.42v3.43h-3.42zM460.03 256.04h3.42v3.43h-3.42zM460.03 259.47h3.42v3.43h-3.42zM460.03 262.90h3.42v3.43h-3.42zM460.03 266.33h3.42v3.43h-3.42zM460.03 288.55h3.42v3.43h-3.42z"/>
<path fill="#fdd89a" d="M27.20 185.80h3.42v3.43h-3.42zM27.20 220.10h3.42v3.43h-3.42zM30.62 185.80h3.42v3.43h-3.42zM30.62 220.10h3.42v3.43h-3.42zM30.62 223.53h3.42v3.43h-3.42zM34.04 185.80h3.42v3.43h-3.42zM34.04 220.10h3.42v3.43h-3.42zM34.04 223.53h3.42v3.43h-3.42zM37.46 185.80h3.42v3.43h-3.42zM37.46 223.53h3.42v3.43h-3.42zM40.88 185.80h3.42v3.43h-3.42zM40.88 223.53h3.42v3.43h-3.42zM44.30 185.80h3.42v3.43h-3.42zM44.30 220.10h3.42v3.43h-3.42zM44.30 223.53h3.42v3.43h-3.42zM47.72 185.80h3.42v3.43h-3.42zM47.72 220.10h3.42v3.43h-3.42zM47.72 223.53h3.42v3.43h-3.42zM51.14 185.80h3.42v3.43h-3.42zM51.14 220.10h3.42v3.43h-3.42zM51.14 223.53h3.42v3.43h-3.42zM54.56 185.80h3.42v3.43h-3.42zM54.56 220.10h3.42v3.43h-3.42zM54.56 223.53h3.42v3.43h-3.42zM57.98 185.80h3.42v3.43h-3.42zM57.98 220.10h3.42v3.43h-3.42zM57.98 271.40h3.42v3.43h-3.42zM61.40 185.80h3.42v3.43h-3.42zM61.40 189.23h3.42v3.43h-3.42zM61.40 192.66h3.42v3.43h-3.42zM61.40 196.09h3.42v3.43h-3.42zM61.40 220.10h3.42v3.43h-3.42zM61.40 223.53h3.42v3.43h-3.42zM61.40 271.40h3.42v3.43h-3.42zM64.82 189.23h3.42v3.43h-3.42zM64.82 223.53h3.42v3.43h-3.42zM64.82 274.83h3.42v3.43h-3.42zM64.82 278.26h3.42v3.43h-3.42zM68.24 189.23h3.42v3.43h-3.42zM68.24 223.53h3.42v3.43h-3.42zM68.24 271.40h3.42v3.43h-3.42zM68.24 274.83h3.42v3.43h-3.42zM68.24 278.26h3.42v3.43h-3.42zM68.24 285.12h3.42v3.43h-3.42zM71.66 199.52h3.42v3.43h-3.42zM71.66 202.95h3.42v3.43h-3.42zM71.66 206.38h3.42v3.43h-3.42zM71.66 209.81h3.42v3.43h-3.42zM71.66 213.24h3.42v3.43h-3.42zM71.66 216.67h3.42v3.43h-3.42zM71.66 232.03h3.42v3.43h-3.42zM71.66 235.46h3.42v3.43h-3.42zM75.08 192.66h3.42v3.43h-3.42zM75.08 196.09h3.42v3.43h-3.42zM75.08 199.52h3.42v3.43h-3.42zM75.08 202.95h3.42v3.43h-3.42zM75.08 213.24h3.42v3.43h-3.42zM75.08 216.67h3.42v3.43h-3.42zM78.50 189.23h3.42v3.43h-3.42zM78.50 192.66h3.42v3.43h-3.42zM78.50 199.52h3.42v3.43h-3.42zM78.50 206.38h3.42v3.43h-3.42zM78.50 209.81h3.42v3.43h-3.42zM78.50 216.67h3.42v3.43h-3.42zM78.50 220.10h3.42v3.43h-3.42zM78.50 271.40h3.42v3.43h-3.42zM78.50 274.83h3.42v3.43h-3.42zM78.50 278.26h3.42v3.43h-3.42zM78.50 285.12h3.42v3.43h-3.42zM81.92 192.66h3.42v3.43h-3.42zM81.92 199.52h3.42v3.43h-3.42zM81.92 202.95h3.42v3.43h-3.42zM81.92 206.38h3.42v3.43h-3.42zM81.92 209.81h3.42v3.43h-3.42zM81.92 213.24h3.42v3.43h-3.42zM81.92 216.67h3.42v3.43h-3.42zM85.34 199.52h3.42v3.43h-3.42zM85.34 206.38h3.42v3.43h-3.42zM85.34 209.81h3.42v3.43h-3.42zM85.34 213.24h3.42v3.43h-3.42zM88.76 189.23h3.42v3.43h-3.42zM88.76 199.52h3.42v3.43h-3.42zM88.76 202.95h3.42v3.43h-3.42zM88.76 206.38h3.42v3.43h-3.42zM88.76 209.81h3.42v3.43h-3.42zM88.76 213.24h3.42v3.43h-3.42zM88.76 216.67h3.42v3.43h-3.42zM92.18 189.23h3.42v3.43h-3.42zM92.18 199.52h3.42v3.43h-3.42zM92.18 202.95h3.42v3.43h-3.42zM92.18 213.24h3.42v3.43h-3.42zM92.18 220.10h3.42v3.43h-3.42zM95.60 189.23h3.42v3.43h-3.42zM95.60 199.52h3.42v3.43h-3.42zM95.60 202.95h3.42v3.43h-3.42zM95.60 213.24h3.42v3.43h-3.42zM95.60 220.10h3.42v3.43h-3.42zM100.77 189.23h3.42v3.43h-3.42zM100.77 206.38h3.42v3.43h-3.42zM100.77 209.81h3.42v3.43h-3.42zM100.77 216.67h3.42v3.43h-3.42zM100.77 295.41h3.42v3.43h-3.42zM104.19 189.23h3.42v3.43h-3.42zM104.19 271.40h3.42v3.43h-3.42zM107.61 206.38h3.42v3.43h-3.42zM107.61 209.81h3.42v3.43h-3.42zM107.61 213.24h3.42v3.43h-3.42zM107.61 223.53h3.42v3.43h-3.42zM107.61 271.40h3.42v3.43h-3.42zM107.61 274.83h3.42v3.43h-3.42zM107.61 278.26h3.42v3.43h-3.42zM111.03 223.53h3.42v3.43h-3.42zM111.03 281.69h3.42v3.43h-3.42zM111.03 285.12h3.42v3.43h-3.42zM114.45 199.52h3.42v3.43h-3.42zM114.45 223.53h3.42v3.43h-3.42zM114.45 281.69h3.42v3.43h-3.42zM114.45 285.12h3.42v3.43h-3.42zM117.87 223.53h3.42v3.43h-3.42zM117.87 228.60h3.42v3.43h-3.42zM121.29 220.10h3.42v3.43h-3.42zM121.29 271.40h3.42v3.43h-3.42zM121.29 274.83h3.42v3.43h-3.42zM121.29 278.26h3.42v3.43h-3.42zM121.29 281.69h3.42v3.43h-3.42zM121.29 285.12h3.42v3.43h-3.42zM124.71 223.53h3.42v3.43h-3.42zM124.71 228.60h3.42v3.43h-3.42zM124.71 281.69h3.42v3.43h-3.42zM124.71 285.12h3.42v3.43h-3.42zM128.13 223.53h3.42v3.43h-3.42zM131.55 220.10h3.42v3.43h-3.42zM131.55 288.55h3.42v3.43h-3.42zM131.55 291.98h3.42v3.43h-3.42zM134.97 220.10h3.42v3.43h-3.42zM134.97 228.60h3.42v3.43h-3.42zM134.97 271.40h3.42v3.43h-3.42zM134.97 274.83h3.42v3.43h-3.42zM134.97 278.26h3.42v3.43h-3.42zM134.97 281.69h3.42v3.43h-3.42zM134.97 285.12h3.42v3.43h-3.42zM138.39 228.60h3.42v3.43h-3.42zM138.39 274.83h3.42v3.43h-3.42zM138.39 278.26h3.42v3.43h-3.42zM138.39 281.69h3.42v3.43h-3.42zM138.39 285.12h3.42v3.43h-3.42zM141.81 228.60h3.42v3.43h-3.42zM141.81 278.26h3.42v3.43h-3.42zM141.81 281.69h3.42v3.43h-3.42zM141.81 285.12h3.42v3.43h-3.42zM145.23 220.10h3.42v3.43h-3.42zM145.23 288.55h3.42v3.43h-3.42zM148.65 288.55h3.42v3.43h-3.42zM148.65 291.98h3.42v3.43h-3.42zM152.07 202.95h3.42v3.43h-3.42zM158.91 232.03h3.42v3.43h-3.42zM158.91 235.46h3.42v3.43h-3.42zM158.91 271.40h3.42v3.43h-3.42zM164.08 228.60h3.42v3.43h-3.42zM164.08 232.03h3.42v3.43h-3.42zM164.08 235.46h3.42v3.43h-3.42zM164.08 252.61h3.42v3.43h-3.42zM164.08 271.40h3.42v3.43h-3.42zM164.08 295.41h3.42v3.43h-3.42zM167.50 220.10h3.42v3.43h-3.42zM167.50 228.60h3.42v3.43h-3.42zM167.50 232.03h3.42v3.43h-3.42zM167.50 235.46h3.42v3.43h-3.42zM167.50 285.12h3.42v3.43h-3.42zM167.50 291.98h3.42v3.43h-3.42zM170.92 220.10h3.42v3.43h-3.42zM170.92 228.60h3.42v3.43h-3.42zM170.92 232.03h3.42v3.43h-3.42zM170.92 235.46h3.42v3.43h-3.42zM170.92 271.40h3.42v3.43h-3.42zM170.92 291.98h3.42v3.43h-3.42zM170.92 295.41h3.42v3.43h-3.42zM174.34 288.55h3.42v3.43h-3.42zM177.76 252.61h3.42v3.43h-3.42zM177.76 256.04h3.42v3.43h-3.42zM181.18 271.40h3.42v3.43h-3.42zM181.18 291.98h3.42v3.43h-3.42zM181.18 295.41h3.42v3.43h-3.42zM184.60 291.98h3.42v3.43h-3.42zM184.60 295.41h3.42v3.43h-3.42zM188.02 291.98h3.42v3.43h-3.42zM188.02 295.41h3.42v3.43h-3.42zM191.44 291.98h3.42v3.43h-3.42zM191.44 295.41h3.42v3.43h-3.42zM194.86 291.98h3.42v3.43h-3.42zM194.86 295.41h3.42v3.43h-3.42zM200.03 252.61h3.42v3.43h-3.42zM200.03 259.47h3.42v3.43h-3.42zM200.03 262.90h3.42v3.43h-3.42zM200.03 281.69h3.42v3.43h-3.42zM200.03 291.98h3.42v3.43h-3.42zM203.45 252.61h3.42v3.43h-3.42zM203.45 259.47h3.42v3.43h-3.42zM203.45 262.90h3.42v3.43h-3.42zM203.45 281.69h3.42v3.43h-3.42zM203.45 291.98h3.42v3.43h-3.42zM206.87 252.61h3.42v3.43h-3.42zM206.87 262.90h3.42v3.43h-3.42zM206.87 281.69h3.42v3.43h-3.42zM210.29 252.61h3.42v3.43h-3.42zM210.29 256.04h3.42v3.43h-3.42zM210.29 262.90h3.42v3.43h-3.42zM210.29 281.69h3.42v3.43h-3.42zM210.29 288.55h3.42v3.43h-3.42zM213.71 238.89h3.42v3.43h-3.42zM213.71 252.61h3.42v3.43h-3.42zM213.71 256.04h3.42v3.43h-3.42zM213.71 266.33h3.42v3.43h-3.42zM213.71 271.40h3.42v3.43h-3.42zM213.71 274.83h3.42v3.43h-3.42zM213.71 278.26h3.42v3.43h-3.42zM213.71 288.55h3.42v3.43h-3.42zM217.13 238.89h3.42v3.43h-3.42zM217.13 242.32h3.42v3.43h-3.42zM217.13 252.61h3.42v3.43h-3.42zM217.13 266.33h3.42v3.43h-3.42zM217.13 271.40h3.42v3.43h-3.42zM217.13 274.83h3.42v3.43h-3.42zM217.13 278.26h3.42v3.43h-3.42zM220.55 228.60h3.42v3.43h-3.42zM220.55 252.61h3.42v3.43h-3.42zM220.55 266.33h3.42v3.43h-3.42zM220.55 271.40h3.42v3.43h-3.42zM220.55 274.83h3.42v3.43h-3.42zM220.55 278.26h3.42v3.43h-3.42zM220.55 281.69h3.42v3.43h-3.42zM223.97 252.61h3.42v3.43h-3.42zM223.97 266.33h3.42v3.43h-3.42zM223.97 274.83h3.42v3.43h-3.42zM223.97 278.26h3.42v3.43h-3.42zM223.97 281.69h3.42v3.43h-3.42zM223.97 285.12h3.42v3.43h-3.42zM227.39 252.61h3.42v3.43h-3.42zM227.39 266.33h3.42v3.43h-3.42zM227.39 271.40h3.42v3.43h-3.42zM227.39 281.69h3.42v3.43h-3.42zM227.39 285.12h3.42v3.43h-3.42zM230.81 238.89h3.42v3.43h-3.42zM230.81 252.61h3.42v3.43h-3.42zM230.81 256.04h3.42v3.43h-3.42zM230.81 259.47h3.42v3.43h-3.42zM230.81 262.90h3.42v3.43h-3.42zM230.81 266.33h3.42v3.43h-3.42zM230.81 271.40h3.42v3.43h-3.42zM230.81 281.69h3.42v3.43h-3.42zM230.81 285.12h3.42v3.43h-3.42zM234.23 238.89h3.42v3.43h-3.42zM234.23 242.32h3.42v3.43h-3.42zM234.23 252.61h3.42v3.43h-3.42zM234.23 262.90h3.42v3.43h-3.42zM234.23 266.33h3.42v3.43h-3.42zM234.23 285.12h3.42v3.43h-3.42zM237.65 238.89h3.42v3.43h-3.42zM237.65 242.32h3.42v3.43h-3.42zM237.65 245.75h3.42v3.43h-3.42zM237.65 249.18h3.42v3.43h-3.42zM237.65 252.61h3.42v3.43h-3.42zM237.65 262.90h3.42v3.43h-3.42zM237.65 266.33h3.42v3.43h-3.42zM237.65 281.69h3.42v3.43h-3.42zM237.65 285.12h3.42v3.43h-3.42zM241.07 232.03h3.42v3.43h-3.42zM241.07 235.46h3.42v3.43h-3.42zM241.07 245.75h3.42v3.43h-3.42zM241.07 249.18h3.42v3.43h-3.42zM241.07 252.61h3.42v3.43h-3.42zM241.07 262.90h3.42v3.43h-3.42zM244.49 245.75h3.42v3.43h-3.42zM244.49 249.18h3.42v3.43h-3.42zM244.49 252.61h3.42v3.43h-3.42zM244.49 262.90h3.42v3.43h-3.42zM244.49 271.40h3.42v3.43h-3.42zM244.49 274.83h3.42v3.43h-3.42zM247.91 228.60h3.42v3.43h-3.42zM247.91 232.03h3.42v3.43h-3.42zM247.91 235.46h3.42v3.43h-3.42zM247.91 252.61h3.42v3.43h-3.42zM247.91 262.90h3.42v3.43h-3.42zM247.91 274.83h3.42v3.43h-3.42zM251.33 256.04h3.42v3.43h-3.42zM251.33 259.47h3.42v3.43h-3.42zM251.33 262.90h3.42v3.43h-3.42zM251.33 274.83h3.42v3.43h-3.42zM251.33 278.26h3.42v3.43h-3.42zM251.33 281.69h3.42v3.43h-3.42zM251.33 285.12h3.42v3.43h-3.42zM251.33 288.55h3.42v3.43h-3.42zM254.75 232.03h3.42v3.43h-3.42zM254.75 235.46h3.42v3.43h-3.42zM254.75 256.04h3.42v3.43h-3.42zM254.75 259.47h3.42v3.43h-3.42zM254.75 262.90h3.42v3.43h-3.42zM254.75 274.83h3.42v3.43h-3.42zM254.75 278.26h3.42v3.43h-3.42zM254.75 281.69h3.42v3.43h-3.42zM254.75 288.55h3.42v3.43h-3.42zM258.17 228.60h3.42v3.43h-3.42zM258.17 256.04h3.42v3.43h-3.42zM258.17 259.47h3.42v3.43h-3.42zM258.17 262.90h3.42v3.43h-3.42zM258.17 288.55h3.42v3.43h-3.42zM261.59 232.03h3.42v3.43h-3.42zM261.59 235.46h3.42v3.43h-3.42zM261.59 256.04h3.42v3.43h-3.42zM261.59 259.47h3.42v3.43h-3.42zM261.59 262.90h3.42v3.43h-3.42zM265.01 223.53h3.42v3.43h-3.42zM265.01 228.60h3.42v3.43h-3.42zM265.01 249.18h3.42v3.43h-3.42zM265.01 256.04h3.42v3.43h-3.42zM265.01 271.40h3.42v3.43h-3.42zM265.01 274.83h3.42v3.43h-3.42zM265.01 278.26h3.42v3.43h-3.42zM265.01 281.69h3.42v3.43h-3.42zM265.01 285.12h3.42v3.43h-3.42zM268.43 288.55h3.42v3.43h-3.42zM271.85 228.60h3.42v3.43h-3.42zM271.85 274.83h3.42v3.43h-3.42zM271.85 278.26h3.42v3.43h-3.42zM271.85 281.69h3.42v3.43h-3.42zM271.85 288.55h3.42v3.43h-3.42zM280.44 232.03h3.42v3.43h-3.42zM280.44 235.46h3.42v3.43h-3.42zM280.44 285.12h3.42v3.43h-3.42zM283.86 285.12h3.42v3.43h-3.42zM287.28 185.80h3.42v3.43h-3.42zM287.28 232.03h3.42v3.43h-3.42zM287.28 235.46h3.42v3.43h-3.42zM287.28 291.98h3.42v3.43h-3.42zM290.70 185.80h3.42v3.43h-3.42zM290.70 189.23h3.42v3.43h-3.42zM290.70 252.61h3.42v3.43h-3.42zM290.70 291.98h3.42v3.43h-3.42zM294.12 238.89h3.42v3.43h-3.42zM294.12 242.32h3.42v3.43h-3.42zM294.12 288.55h3.42v3.43h-3.42zM297.54 238.89h3.42v3.43h-3.42zM297.54 252.61h3.42v3.43h-3.42zM297.54 288.55h3.42v3.43h-3.42zM297.54 291.98h3.42v3.43h-3.42zM300.96 185.80h3.42v3.43h-3.42zM300.96 189.23h3.42v3.43h-3.42zM300.96 232.03h3.42v3.43h-3.42zM300.96 235.46h3.42v3.43h-3.42zM300.96 238.89h3.42v3.43h-3.42zM300.96 252.61h3.42v3.43h-3.42zM300.96 291.98h3.42v3.43h-3.42zM300.96 295.41h3.42v3.43h-3.42zM304.38 185.80h3.42v3.43h-3.42zM304.38 189.23h3.42v3.43h-3.42zM304.38 252.61h3.42v3.43h-3.42zM304.38 295.41h3.42v3.43h-3.42zM307.80 185.80h3.42v3.43h-3.42zM307.80 238.89h3.42v3.43h-3.42zM307.80 242.32h3.42v3.43h-3.42zM307.80 288.55h3.42v3.43h-3.42zM311.22 228.60h3.42v3.43h-3.42zM311.22 238.89h3.42v3.43h-3.42zM311.22 242.32h3.42v3.43h-3.42zM311.22 252.61h3.42v3.43h-3.42zM311.22 256.04h3.42v3.43h-3.42zM311.22 259.47h3.42v3.43h-3.42zM311.22 262.90h3.42v3.43h-3.42zM311.22 266.33h3.42v3.43h-3.42zM311.22 291.98h3.42v3.43h-3.42zM314.64 238.89h3.42v3.43h-3.42zM314.64 242.32h3.42v3.43h-3.42zM314.64 245.75h3.42v3.43h-3.42zM314.64 249.18h3.42v3.43h-3.42zM314.64 252.61h3.42v3.43h-3.42zM314.64 256.04h3.42v3.43h-3.42zM314.64 262.90h3.42v3.43h-3.42zM314.64 266.33h3.42v3.43h-3.42zM314.64 288.55h3.42v3.43h-3.42zM318.06 252.61h3.42v3.43h-3.42zM318.06 256.04h3.42v3.43h-3.42zM318.06 259.47h3.42v3.43h-3.42zM318.06 262.90h3.42v3.43h-3.42zM318.06 266.33h3.42v3.43h-3.42zM321.48 228.60h3.42v3.43h-3.42zM321.48 232.03h3.42v3.43h-3.42zM321.48 235.46h3.42v3.43h-3.42zM321.48 238.89h3.42v3.43h-3.42zM321.48 242.32h3.42v3.43h-3.42zM321.48 245.75h3.42v3.43h-3.42zM321.48 249.18h3.42v3.43h-3.42zM321.48 252.61h3.42v3.43h-3.42zM321.48 256.04h3.42v3.43h-3.42zM321.48 259.47h3.42v3.43h-3.42zM321.48 262.90h3.42v3.43h-3.42zM321.48 266.33h3.42v3.43h-3.42zM321.48 291.98h3.42v3.43h-3.42zM321.48 295.41h3.42v3.43h-3.42zM324.90 245.75h3.42v3.43h-3.42zM324.90 249.18h3.42v3.43h-3.42zM324.90 266.33h3.42v3.43h-3.42zM328.32 245.75h3.42v3.43h-3.42zM328.32 249.18h3.42v3.43h-3.42zM328.32 252.61h3.42v3.43h-3.42zM328.32 256.04h3.42v3.43h-3.42zM328.32 259.47h3.42v3.43h-3.42zM328.32 262.90h3.42v3.43h-3.42zM328.32 266.33h3.42v3.43h-3.42zM331.74 245.75h3.42v3.43h-3.42zM331.74 249.18h3.42v3.43h-3.42zM331.74 252.61h3.42v3.43h-3.42zM331.74 256.04h3.42v3.43h-3.42zM331.74 259.47h3.42v3.43h-3.42zM331.74 262.90h3.42v3.43h-3.42zM331.74 266.33h3.42v3.43h-3.42zM331.74 288.55h3.42v3.43h-3.42zM335.16 228.60h3.42v3.43h-3.42zM335.16 245.75h3.42v3.43h-3.42zM335.16 249.18h3.42v3.43h-3.42zM335.16 256.04h3.42v3.43h-3.42zM335.16 259.47h3.42v3.43h-3.42zM335.16 262.90h3.42v3.43h-3.42zM335.16 266.33h3.42v3.43h-3.42zM335.16 288.55h3.42v3.43h-3.42zM338.58 245.75h3.42v3.43h-3.42zM338.58 249.18h3.42v3.43h-3.42zM338.58 288.55h3.42v3.43h-3.42zM342.00 245.75h3.42v3.43h-3.42zM342.00 249.18h3.42v3.43h-3.42zM342.00 252.61h3.42v3.43h-3.42zM342.00 256.04h3.42v3.43h-3.42zM342.00 288.55h3.42v3.43h-3.42zM347.17 213.24h3.42v3.43h-3.42zM347.17 216.67h3.42v3.43h-3.42zM347.17 274.83h3.42v3.43h-3.42zM347.17 278.26h3.42v3.43h-3.42zM347.17 291.98h3.42v3.43h-3.42zM347.17 295.41h3.42v3.43h-3.42zM350.59 216.67h3.42v3.43h-3.42zM350.59 271.40h3.42v3.43h-3.42zM350.59 274.83h3.42v3.43h-3.42zM350.59 278.26h3.42v3.43h-3.42zM350.59 281.69h3.42v3.43h-3.42zM350.59 291.98h3.42v3.43h-3.42zM350.59 295.41h3.42v3.43h-3.42zM354.01 223.53h3.42v3.43h-3.42zM354.01 271.40h3.42v3.43h-3.42zM354.01 274.83h3.42v3.43h-3.42zM354.01 278.26h3.42v3.43h-3.42zM354.01 281.69h3.42v3.43h-3.42zM354.01 285.12h3.42v3.43h-3.42zM354.01 291.98h3.42v3.43h-3.42zM354.01 295.41h3.42v3.43h-3.42zM357.43 242.32h3.42v3.43h-3.42zM357.43 249.18h3.42v3.43h-3.42zM357.43 291.98h3.42v3.43h-3.42zM357.43 295.41h3.42v3.43h-3.42zM360.85 185.80h3.42v3.43h-3.42zM360.85 238.89h3.42v3.43h-3.42zM360.85 242.32h3.42v3.43h-3.42zM360.85 245.75h3.42v3.43h-3.42zM360.85 249.18h3.42v3.43h-3.42zM360.85 259.47h3.42v3.43h-3.42zM360.85 295.41h3.42v3.43h-3.42zM364.27 189.23h3.42v3.43h-3.42zM364.27 238.89h3.42v3.43h-3.42zM364.27 245.75h3.42v3.43h-3.42zM364.27 252.61h3.42v3.43h-3.42zM364.27 256.04h3.42v3.43h-3.42zM364.27 262.90h3.42v3.43h-3.42zM364.27 266.33h3.42v3.43h-3.42zM364.27 295.41h3.42v3.43h-3.42zM367.69 245.75h3.42v3.43h-3.42zM367.69 252.61h3.42v3.43h-3.42zM367.69 256.04h3.42v3.43h-3.42zM367.69 262.90h3.42v3.43h-3.42zM367.69 266.33h3.42v3.43h-3.42zM367.69 295.41h3.42v3.43h-3.42zM371.11 192.66h3.42v3.43h-3.42zM371.11 202.95h3.42v3.43h-3.42zM371.11 206.38h3.42v3.43h-3.42zM371.11 209.81h3.42v3.43h-3.42zM371.11 216.67h3.42v3.43h-3.42zM371.11 259.47h3.42v3.43h-3.42zM371.11 262.90h3.42v3.43h-3.42zM371.11 266.33h3.42v3.43h-3.42zM371.11 295.41h3.42v3.43h-3.42zM374.53 185.80h3.42v3.43h-3.42zM374.53 189.23h3.42v3.43h-3.42zM374.53 213.24h3.42v3.43h-3.42zM374.53 259.47h3.42v3.43h-3.42zM374.53 266.33h3.42v3.43h-3.42zM374.53 295.41h3.42v3.43h-3.42zM377.95 259.47h3.42v3.43h-3.42zM381.37 185.80h3.42v3.43h-3.42zM381.37 189.23h3.42v3.43h-3.42zM381.37 206.38h3.42v3.43h-3.42zM381.37 209.81h3.42v3.43h-3.42zM381.37 213.24h3.42v3.43h-3.42zM381.37 216.67h3.42v3.43h-3.42zM384.79 202.95h3.42v3.43h-3.42zM384.79 206.38h3.42v3.43h-3.42zM384.79 209.81h3.42v3.43h-3.42zM384.79 213.24h3.42v3.43h-3.42zM384.79 216.67h3.42v3.43h-3.42zM384.79 245.75h3.42v3.43h-3.42zM384.79 249.18h3.42v3.43h-3.42zM384.79 271.40h3.42v3.43h-3.42zM388.21 185.80h3.42v3.43h-3.42zM388.21 192.66h3.42v3.43h-3.42zM388.21 199.52h3.42v3.43h-3.42zM388.21 202.95h3.42v3.43h-3.42zM388.21 238.89h3.42v3.43h-3.42zM388.21 242.32h3.42v3.43h-3.42zM388.21 245.75h3.42v3.43h-3.42zM388.21 249.18h3.42v3.43h-3.42zM391.63 223.53h3.42v3.43h-3.42zM391.63 238.89h3.42v3.43h-3.42zM391.63 242.32h3.42v3.43h-3.42zM391.63 245.75h3.42v3.43h-3.42zM391.63 249.18h3.42v3.43h-3.42zM395.05 192.66h3.42v3.43h-3.42zM395.05 196.09h3.42v3.43h-3.42zM395.05 232.03h3.42v3.43h-3.42zM395.05 235.46h3.42v3.43h-3.42zM395.05 242.32h3.42v3.43h-3.42zM395.05 245.75h3.42v3.43h-3.42zM395.05 249.18h3.42v3.43h-3.42zM398.47 185.80h3.42v3.43h-3.42zM398.47 189.23h3.42v3.43h-3.42zM398.47 206.38h3.42v3.43h-3.42zM398.47 209.81h3.42v3.43h-3.42zM398.47 213.24h3.42v3.43h-3.42zM398.47 216.67h3.42v3.43h-3.42zM398.47 242.32h3.42v3.43h-3.42zM398.47 245.75h3.42v3.43h-3.42zM398.47 249.18h3.42v3.43h-3.42zM401.89 185.80h3.42v3.43h-3.42zM401.89 189.23h3.42v3.43h-3.42zM401.89 209.81h3.42v3.43h-3.42zM401.89 213.24h3.42v3.43h-3.42zM401.89 216.67h3.42v3.43h-3.42zM401.89 232.03h3.42v3.43h-3.42zM401.89 235.46h3.42v3.43h-3.42zM401.89 238.89h3.42v3.43h-3.42zM401.89 242.32h3.42v3.43h-3.42zM405.31 185.80h3.42v3.43h-3.42zM405.31 189.23h3.42v3.43h-3.42zM405.31 232.03h3.42v3.43h-3.42zM405.31 235.46h3.42v3.43h-3.42zM408.73 189.23h3.42v3.43h-3.42zM408.73 196.09h3.42v3.43h-3.42zM408.73 238.89h3.42v3.43h-3.42zM408.73 242.32h3.42v3.43h-3.42zM408.73 245.75h3.42v3.43h-3.42zM412.15 196.09h3.42v3.43h-3.42zM412.15 238.89h3.42v3.43h-3.42zM412.15 242.32h3.42v3.43h-3.42zM412.15 245.75h3.42v3.43h-3.42zM412.15 249.18h3.42v3.43h-3.42zM412.15 259.47h3.42v3.43h-3.42zM412.15 262.90h3.42v3.43h-3.42zM412.15 266.33h3.42v3.43h-3.42zM415.57 189.23h3.42v3.43h-3.42zM415.57 196.09h3.42v3.43h-3.42zM415.57 213.24h3.42v3.43h-3.42zM415.57 249.18h3.42v3.43h-3.42zM415.57 252.61h3.42v3.43h-3.42zM415.57 256.04h3.42v3.43h-3.42zM418.99 185.80h3.42v3.43h-3.42zM418.99 189.23h3.42v3.43h-3.42zM418.99 196.09h3.42v3.43h-3.42zM418.99 238.89h3.42v3.43h-3.42zM418.99 242.32h3.42v3.43h-3.42zM418.99 245.75h3.42v3.43h-3.42zM418.99 249.18h3.42v3.43h-3.42zM418.99 252.61h3.42v3.43h-3.42zM418.99 256.04h3.42v3.43h-3.42zM418.99 259.47h3.42v3.43h-3.42zM418.99 262.90h3.42v3.43h-3.42zM422.41 185.80h3.42v3.43h-3.42zM422.41 238.89h3.42v3.43h-3.42zM422.41 242.32h3.42v3.43h-3.42zM422.41 245.75h3.42v3.43h-3.42zM422.41 249.18h3.42v3.43h-3.42zM422.41 259.47h3.42v3.43h-3.42zM422.41 262.90h3.42v3.43h-3.42zM422.41 266.33h3.42v3.43h-3.42zM425.83 192.66h3.42v3.43h-3.42zM425.83 232.03h3.42v3.43h-3.42zM429.25 252.61h3.42v3.43h-3.42zM429.25 262.90h3.42v3.43h-3.42zM429.25 288.55h3.42v3.43h-3.42zM432.67 192.66h3.42v3.43h-3.42zM436.09 196.09h3.42v3.43h-3.42zM436.09 262.90h3.42v3.43h-3.42zM439.51 288.55h3.42v3.43h-3.42zM446.35 262.90h3.42v3.43h-3.42zM449.77 192.66h3.42v3.43h-3.42zM449.77 209.81h3.42v3.43h-3.42zM456.61 196.09h3.42v3.43h-3.42zM460.03 192.66h3.42v3.43h-3.42z"/>
<path fill="#f79c64" d="M27.20 192.66h3.42v3.43h-3.42zM27.20 196.09h3.42v3.43h-3.42zM27.20 223.53h3.42v3.43h-3.42zM30.62 189.23h3.42v3.43h-3.42zM34.04 189.23h3.42v3.43h-3.42zM37.46 189.23h3.42v3.43h-3.42zM37.46 192.66h3.42v3.43h-3.42zM37.46 196.09h3.42v3.43h-3.42zM40.88 189.23h3.42v3.43h-3.42zM40.88 213.24h3.42v3.43h-3.42zM44.30 189.23h3.42v3.43h-3.42zM44.30 213.24h3.42v3.43h-3.42zM44.30 216.67h3.42v3.43h-3.42zM47.72 189.23h3.42v3.43h-3.42zM47.72 192.66h3.42v3.43h-3.42zM47.72 196.09h3.42v3.43h-3.42zM47.72 199.52h3.42v3.43h-3.42zM47.72 202.95h3.42v3.43h-3.42zM47.72 213.24h3.42v3.43h-3.42zM47.72 216.67h3.42v3.43h-3.42zM51.14 189.23h3.42v3.43h-3.42zM51.14 192.66h3.42v3.43h-3.42zM51.14 196.09h3.42v3.43h-3.42zM51.14 199.52h3.42v3.43h-3.42zM51.14 202.95h3.42v3.43h-3.42zM51.14 206.38h3.42v3.43h-3.42zM51.14 209.81h3.42v3.43h-3.42zM51.14 213.24h3.42v3.43h-3.42zM51.14 216.67h3.42v3.43h-3.42zM54.56 189.23h3.42v3.43h-3.42zM54.56 192.66h3.42v3.43h-3.42zM54.56 196.09h3.42v3.43h-3.42zM54.56 199.52h3.42v3.43h-3.42zM54.56 202.95h3.42v3.43h-3.42zM54.56 206.38h3.42v3.43h-3.42zM54.56 209.81h3.42v3.43h-3.42zM54.56 213.24h3.42v3.43h-3.42zM54.56 216.67h3.42v3.43h-3.42zM57.98 189.23h3.42v3.43h-3.42zM57.98 192.66h3.42v3.43h-3.42zM57.98 196.09h3.42v3.43h-3.42zM57.98 199.52h3.42v3.43h-3.42zM57.98 202.95h3.42v3.43h-3.42zM57.98 206.38h3.42v3.43h-3.42zM57.98 209.81h3.42v3.43h-3.42zM57.98 213.24h3.42v3.43h-3.42zM57.98 216.67h3.42v3.43h-3.42zM61.40 206.38h3.42v3.43h-3.42zM61.40 209.81h3.42v3.43h-3.42zM61.40 213.24h3.42v3.43h-3.42zM61.40 216.67h3.42v3.43h-3.42zM64.82 192.66h3.42v3.43h-3.42zM64.82 196.09h3.42v3.43h-3.42zM64.82 206.38h3.42v3.43h-3.42zM64.82 209.81h3.42v3.43h-3.42zM64.82 213.24h3.42v3.43h-3.42zM64.82 216.67h3.42v3.43h-3.42zM64.82 220.10h3.42v3.43h-3.42zM64.82 271.40h3.42v3.43h-3.42zM68.24 192.66h3.42v3.43h-3.42zM68.24 196.09h3.42v3.43h-3.42zM68.24 206.38h3.42v3.43h-3.42zM68.24 209.81h3.42v3.43h-3.42zM68.24 213.24h3.42v3.43h-3.42zM68.24 216.67h3.42v3.43h-3.42zM71.66 228.60h3.42v3.43h-3.42zM78.50 196.09h3.42v3.43h-3.42zM78.50 202.95h3.42v3.43h-3.42zM78.50 213.24h3.42v3.43h-3.42zM81.92 196.09h3.42v3.43h-3.42zM100.77 199.52h3.42v3.43h-3.42zM100.77 202.95h3.42v3.43h-3.42zM100.77 220.10h3.42v3.43h-3.42zM100.77 274.83h3.42v3.43h-3.42zM100.77 278.26h3.42v3.43h-3.42zM100.77 285.12h3.42v3.43h-3.42zM104.19 199.52h3.42v3.43h-3.42zM104.19 202.95h3.42v3.43h-3.42zM104.19 206.38h3.42v3.43h-3.42zM104.19 209.81h3.42v3.43h-3.42zM104.19 216.67h3.42v3.43h-3.42zM104.19 220.10h3.42v3.43h-3.42zM107.61 199.52h3.42v3.43h-3.42zM107.61 202.95h3.42v3.43h-3.42zM111.03 199.52h3.42v3.43h-3.42zM111.03 202.95h3.42v3.43h-3.42zM111.03 271.40h3.42v3.43h-3.42zM111.03 274.83h3.42v3.43h-3.42zM111.03 278.26h3.42v3.43h-3.42zM114.45 196.09h3.42v3.43h-3.42zM114.45 220.10h3.42v3.43h-3.42zM114.45 274.83h3.42v3.43h-3.42zM114.45 278.26h3.42v3.43h-3.42zM117.87 220.10h3.42v3.43h-3.42zM124.71 271.40h3.42v3.43h-3.42zM124.71 274.83h3.42v3.43h-3.42zM124.71 278.26h3.42v3.43h-3.42zM128.13 220.10h3.42v3.43h-3.42zM131.55 271.40h3.42v3.43h-3.42zM131.55 274.83h3.42v3.43h-3.42zM138.39 271.40h3.42v3.43h-3.42zM141.81 271.40h3.42v3.43h-3.42zM141.81 274.83h3.42v3.43h-3.42zM145.23 271.40h3.42v3.43h-3.42zM145.23 274.83h3.42v3.43h-3.42zM145.23 278.26h3.42v3.43h-3.42zM145.23 281.69h3.42v3.43h-3.42zM145.23 285.12h3.42v3.43h-3.42zM148.65 220.10h3.42v3.43h-3.42zM152.07 196.09h3.42v3.43h-3.42zM155.49 196.09h3.42v3.43h-3.42zM158.91 228.60h3.42v3.43h-3.42zM164.08 274.83h3.42v3.43h-3.42zM164.08 278.26h3.42v3.43h-3.42zM164.08 285.12h3.42v3.43h-3.42zM164.08 291.98h3.42v3.43h-3.42zM167.50 271.40h3.42v3.43h-3.42zM167.50 288.55h3.42v3.43h-3.42zM167.50 295.41h3.42v3.43h-3.42zM170.92 274.83h3.42v3.43h-3.42zM170.92 278.26h3.42v3.43h-3.42zM170.92 281.69h3.42v3.43h-3.42zM170.92 285.12h3.42v3.43h-3.42zM170.92 288.55h3.42v3.43h-3.42zM174.34 291.98h3.42v3.43h-3.42zM174.34 295.41h3.42v3.43h-3.42zM177.76 271.40h3.42v3.43h-3.42zM177.76 291.98h3.42v3.43h-3.42zM177.76 295.41h3.42v3.43h-3.42zM181.18 274.83h3.42v3.43h-3.42zM181.18 288.55h3.42v3.43h-3.42zM184.60 220.10h3.42v3.43h-3.42zM184.60 278.26h3.42v3.43h-3.42zM184.60 288.55h3.42v3.43h-3.42zM188.02 220.10h3.42v3.43h-3.42zM188.02 271.40h3.42v3.43h-3.42zM188.02 288.55h3.42v3.43h-3.42zM191.44 220.10h3.42v3.43h-3.42zM191.44 271.40h3.42v3.43h-3.42zM191.44 288.55h3.42v3.43h-3.42zM194.86 220.10h3.42v3.43h-3.42zM194.86 271.40h3.42v3.43h-3.42zM194.86 274.83h3.42v3.43h-3.42zM194.86 285.12h3.42v3.43h-3.42zM194.86 288.55h3.42v3.43h-3.42zM200.03 256.04h3.42v3.43h-3.42zM200.03 288.55h3.42v3.43h-3.42zM203.45 256.04h3.42v3.43h-3.42zM203.45 288.55h3.42v3.43h-3.42zM206.87 232.03h3.42v3.43h-3.42zM206.87 235.46h3.42v3.43h-3.42zM206.87 256.04h3.42v3.43h-3.42zM206.87 288.55h3.42v3.43h-3.42zM210.29 232.03h3.42v3.43h-3.42zM210.29 235.46h3.42v3.43h-3.42zM213.71 242.32h3.42v3.43h-3.42zM213.71 245.75h3.42v3.43h-3.42zM213.71 249.18h3.42v3.43h-3.42zM213.71 259.47h3.42v3.43h-3.42zM213.71 262.90h3.42v3.43h-3.42zM213.71 281.69h3.42v3.43h-3.42zM213.71 285.12h3.42v3.43h-3.42zM217.13 245.75h3.42v3.43h-3.42zM217.13 249.18h3.42v3.43h-3.42zM217.13 256.04h3.42v3.43h-3.42zM217.13 259.47h3.42v3.43h-3.42zM217.13 262.90h3.42v3.43h-3.42zM217.13 281.69h3.42v3.43h-3.42zM217.13 285.12h3.42v3.43h-3.42zM220.55 238.89h3.42v3.43h-3.42zM220.55 242.32h3.42v3.43h-3.42zM220.55 245.75h3.42v3.43h-3.42zM220.55 249.18h3.42v3.43h-3.42zM220.55 256.04h3.42v3.43h-3.42zM220.55 259.47h3.42v3.43h-3.42zM220.55 262.90h3.42v3.43h-3.42zM220.55 285.12h3.42v3.43h-3.42zM223.97 238.89h3.42v3.43h-3.42zM223.97 242.32h3.42v3.43h-3.42zM223.97 245.75h3.42v3.43h-3.42zM223.97 249.18h3.42v3.43h-3.42zM223.97 256.04h3.42v3.43h-3.42zM223.97 259.47h3.42v3.43h-3.42zM223.97 262.90h3.42v3.43h-3.42zM227.39 238.89h3.42v3.43h-3.42zM227.39 242.32h3.42v3.43h-3.42zM227.39 245.75h3.42v3.43h-3.42zM227.39 249.18h3.42v3.43h-3.42zM227.39 256.04h3.42v3.43h-3.42zM227.39 259.47h3.42v3.43h-3.42zM227.39 262.90h3.42v3.43h-3.42zM227.39 291.98h3.42v3.43h-3.42zM230.81 242.32h3.42v3.43h-3.42zM230.81 245.75h3.42v3.43h-3.42zM230.81 249.18h3.42v3.43h-3.42zM230.81 291.98h3.42v3.43h-3.42zM230.81 295.41h3.42v3.43h-3.42zM234.23 245.75h3.42v3.43h-3.42zM234.23 249.18h3.42v3.43h-3.42zM234.23 256.04h3.42v3.43h-3.42zM234.23 259.47h3.42v3.43h-3.42zM234.23 291.98h3.42v3.43h-3.42zM234.23 295.41h3.42v3.43h-3.42zM237.65 256.04h3.42v3.43h-3.42zM237.65 259.47h3.42v3.43h-3.42zM237.65 291.98h3.42v3.43h-3.42zM237.65 295.41h3.42v3.43h-3.42zM241.07 228.60h3.42v3.43h-3.42zM241.07 256.04h3.42v3.43h-3.42zM241.07 259.47h3.42v3.43h-3.42zM241.07 271.40h3.42v3.43h-3.42zM241.07 274.83h3.42v3.43h-3.42zM241.07 278.26h3.42v3.43h-3.42zM241.07 285.12h3.42v3.43h-3.42zM244.49 256.04h3.42v3.43h-3.42zM244.49 259.47h3.42v3.43h-3.42zM244.49 278.26h3.42v3.43h-3.42zM244.49 288.55h3.42v3.43h-3.42zM247.91 278.26h3.42v3.43h-3.42zM247.91 281.69h3.42v3.43h-3.42zM247.91 285.12h3.42v3.43h-3.42zM247.91 288.55h3.42v3.43h-3.42zM247.91 291.98h3.42v3.43h-3.42zM247.91 295.41h3.42v3.43h-3.42zM251.33 271.40h3.42v3.43h-3.42zM251.33 291.98h3.42v3.43h-3.42zM251.33 295.41h3.42v3.43h-3.42zM254.75 271.40h3.42v3.43h-3.42zM254.75 285.12h3.42v3.43h-3.42zM254.75 291.98h3.42v3.43h-3.42zM254.75 295.41h3.42v3.43h-3.42zM258.17 271.40h3.42v3.43h-3.42zM258.17 274.83h3.42v3.43h-3.42zM258.17 278.26h3.42v3.43h-3.42zM258.17 281.69h3.42v3.43h-3.42zM258.17 291.98h3.42v3.43h-3.42zM258.17 295.41h3.42v3.43h-3.42zM261.59 228.60h3.42v3.43h-3.42zM261.59 271.40h3.42v3.43h-3.42zM261.59 274.83h3.42v3.43h-3.42zM261.59 278.26h3.42v3.43h-3.42zM261.59 281.69h3.42v3.43h-3.42zM261.59 285.12h3.42v3.43h-3.42zM261.59 288.55h3.42v3.43h-3.42zM261.59 291.98h3.42v3.43h-3.42zM261.59 295.41h3.42v3.43h-3.42zM265.01 291.98h3.42v3.43h-3.42zM265.01 295.41h3.42v3.43h-3.42zM268.43 271.40h3.42v3.43h-3.42zM268.43 274.83h3.42v3.43h-3.42zM268.43 278.26h3.42v3.43h-3.42zM268.43 281.69h3.42v3.43h-3.42zM268.43 285.12h3.42v3.43h-3.42zM268.43 291.98h3.42v3.43h-3.42zM268.43 295.41h3.42v3.43h-3.42zM271.85 271.40h3.42v3.43h-3.42zM271.85 285.12h3.42v3.43h-3.42zM271.85 291.98h3.42v3.43h-3.42zM271.85 295.41h3.42v3.43h-3.42zM277.02 252.61h3.42v3.43h-3.42zM277.02 285.12h3.42v3.43h-3.42zM280.44 252.61h3.42v3.43h-3.42zM283.86 252.61h3.42v3.43h-3.42zM287.28 252.61h3.42v3.43h-3.42zM287.28 266.33h3.42v3.43h-3.42zM287.28 295.41h3.42v3.43h-3.42zM290.70 238.89h3.42v3.43h-3.42zM290.70 242.32h3.42v3.43h-3.42zM290.70 245.75h3.42v3.43h-3.42zM290.70 249.18h3.42v3.43h-3.42zM290.70 256.04h3.42v3.43h-3.42zM290.70 259.47h3.42v3.43h-3.42zM290.70 262.90h3.42v3.43h-3.42zM290.70 266.33h3.42v3.43h-3.42zM290.70 295.41h3.42v3.43h-3.42zM294.12 245.75h3.42v3.43h-3.42zM294.12 249.18h3.42v3.43h-3.42zM294.12 252.61h3.42v3.43h-3.42zM294.12 291.98h3.42v3.43h-3.42zM294.12 295.41h3.42v3.43h-3.42zM297.54 228.60h3.42v3.43h-3.42zM297.54 232.03h3.42v3.43h-3.42zM297.54 235.46h3.42v3.43h-3.42zM297.54 242.32h3.42v3.43h-3.42zM297.54 249.18h3.42v3.43h-3.42zM297.54 266.33h3.42v3.43h-3.42zM297.54 295.41h3.42v3.43h-3.42zM300.96 228.60h3.42v3.43h-3.42zM300.96 242.32h3.42v3.43h-3.42zM300.96 245.75h3.42v3.43h-3.42zM300.96 249.18h3.42v3.43h-3.42zM300.96 256.04h3.42v3.43h-3.42zM300.96 259.47h3.42v3.43h-3.42zM300.96 262.90h3.42v3.43h-3.42zM300.96 266.33h3.42v3.43h-3.42zM304.38 228.60h3.42v3.43h-3.42zM304.38 232.03h3.42v3.43h-3.42zM304.38 235.46h3.42v3.43h-3.42zM304.38 238.89h3.42v3.43h-3.42zM304.38 242.32h3.42v3.43h-3.42zM304.38 245.75h3.42v3.43h-3.42zM304.38 249.18h3.42v3.43h-3.42zM304.38 256.04h3.42v3.43h-3.42zM304.38 259.47h3.42v3.43h-3.42zM304.38 262.90h3.42v3.43h-3.42zM304.38 266.33h3.42v3.43h-3.42zM307.80 245.75h3.42v3.43h-3.42zM307.80 249.18h3.42v3.43h-3.42zM307.80 252.61h3.42v3.43h-3.42zM307.80 259.47h3.42v3.43h-3.42zM307.80 266.33h3.42v3.43h-3.42zM311.22 192.66h3.42v3.43h-3.42zM311.22 196.09h3.42v3.43h-3.42zM311.22 232.03h3.42v3.43h-3.42zM311.22 235.46h3.42v3.43h-3.42zM311.22 245.75h3.42v3.43h-3.42zM311.22 249.18h3.42v3.43h-3.42zM314.64 228.60h3.42v3.43h-3.42zM314.64 232.03h3.42v3.43h-3.42zM314.64 235.46h3.42v3.43h-3.42zM314.64 259.47h3.42v3.43h-3.42zM318.06 228.60h3.42v3.43h-3.42zM318.06 232.03h3.42v3.43h-3.42zM318.06 235.46h3.42v3.43h-3.42zM318.06 288.55h3.42v3.43h-3.42zM321.48 288.55h3.42v3.43h-3.42zM324.90 252.61h3.42v3.43h-3.42zM324.90 256.04h3.42v3.43h-3.42zM324.90 259.47h3.42v3.43h-3.42zM324.90 262.90h3.42v3.43h-3.42zM328.32 288.55h3.42v3.43h-3.42zM335.16 232.03h3.42v3.43h-3.42zM335.16 235.46h3.42v3.43h-3.42zM335.16 252.61h3.42v3.43h-3.42zM338.58 252.61h3.42v3.43h-3.42zM338.58 256.04h3.42v3.43h-3.42zM338.58 259.47h3.42v3.43h-3.42zM338.58 262.90h3.42v3.43h-3.42zM338.58 266.33h3.42v3.43h-3.42zM342.00 259.47h3.42v3.43h-3.42zM342.00 262.90h3.42v3.43h-3.42zM342.00 266.33h3.42v3.43h-3.42zM347.17 223.53h3.42v3.43h-3.42zM347.17 271.40h3.42v3.43h-3.42zM347.17 285.12h3.42v3.43h-3.42zM350.59 223.53h3.42v3.43h-3.42zM350.59 285.12h3.42v3.43h-3.42zM360.85 291.98h3.42v3.43h-3.42zM364.27 242.32h3.42v3.43h-3.42zM364.27 249.18h3.42v3.43h-3.42zM364.27 259.47h3.42v3.43h-3.42zM364.27 291.98h3.42v3.43h-3.42zM367.69 185.80h3.42v3.43h-3.42zM367.69 189.23h3.42v3.43h-3.42zM367.69 238.89h3.42v3.43h-3.42zM367.69 242.32h3.42v3.43h-3.42zM367.69 259.47h3.42v3.43h-3.42zM371.11 185.80h3.42v3.43h-3.42zM371.11 189.23h3.42v3.43h-3.42zM371.11 213.24h3.42v3.43h-3.42zM371.11 238.89h3.42v3.43h-3.42zM371.11 242.32h3.42v3.43h-3.42zM371.11 245.75h3.42v3.43h-3.42zM371.11 249.18h3.42v3.43h-3.42zM374.53 242.32h3.42v3.43h-3.42zM374.53 245.75h3.42v3.43h-3.42zM374.53 249.18h3.42v3.43h-3.42zM377.95 238.89h3.42v3.43h-3.42zM377.95 242.32h3.42v3.43h-3.42zM377.95 245.75h3.42v3.43h-3.42zM377.95 249.18h3.42v3.43h-3.42zM381.37 245.75h3.42v3.43h-3.42zM381.37 249.18h3.42v3.43h-3.42zM384.79 185.80h3.42v3.43h-3.42zM384.79 189.23h3.42v3.43h-3.42zM384.79 196.09h3.42v3.43h-3.42zM384.79 238.89h3.42v3.43h-3.42zM384.79 242.32h3.42v3.43h-3.42zM388.21 206.38h3.42v3.43h-3.42zM388.21 209.81h3.42v3.43h-3.42zM388.21 213.24h3.42v3.43h-3.42zM388.21 216.67h3.42v3.43h-3.42zM391.63 185.80h3.42v3.43h-3.42zM391.63 189.23h3.42v3.43h-3.42zM391.63 192.66h3.42v3.43h-3.42zM391.63 196.09h3.42v3.43h-3.42zM391.63 216.67h3.42v3.43h-3.42zM395.05 185.80h3.42v3.43h-3.42zM395.05 189.23h3.42v3.43h-3.42zM395.05 206.38h3.42v3.43h-3.42zM395.05 209.81h3.42v3.43h-3.42zM395.05 213.24h3.42v3.43h-3.42zM395.05 216.67h3.42v3.43h-3.42zM395.05 238.89h3.42v3.43h-3.42zM398.47 192.66h3.42v3.43h-3.42zM398.47 196.09h3.42v3.43h-3.42zM398.47 232.03h3.42v3.43h-3.42zM398.47 235.46h3.42v3.43h-3.42zM398.47 238.89h3.42v3.43h-3.42zM401.89 196.09h3.42v3.43h-3.42zM405.31 196.09h3.42v3.43h-3.42zM408.73 185.80h3.42v3.43h-3.42zM408.73 192.66h3.42v3.43h-3.42zM412.15 185.80h3.42v3.43h-3.42zM412.15 189.23h3.42v3.43h-3.42zM412.15 192.66h3.42v3.43h-3.42zM412.15 228.60h3.42v3.43h-3.42zM415.57 185.80h3.42v3.43h-3.42zM415.57 192.66h3.42v3.43h-3.42zM415.57 228.60h3.42v3.43h-3.42zM415.57 232.03h3.42v3.43h-3.42zM415.57 238.89h3.42v3.43h-3.42zM415.57 242.32h3.42v3.43h-3.42zM415.57 245.75h3.42v3.43h-3.42zM415.57 259.47h3.42v3.43h-3.42zM415.57 262.90h3.42v3.43h-3.42zM418.99 192.66h3.42v3.43h-3.42zM418.99 228.60h3.42v3.43h-3.42zM418.99 266.33h3.42v3.43h-3.42zM422.41 192.66h3.42v3.43h-3.42zM422.41 196.09h3.42v3.43h-3.42zM422.41 228.60h3.42v3.43h-3.42zM429.25 228.60h3.42v3.43h-3.42zM432.67 228.60h3.42v3.43h-3.42zM436.09 192.66h3.42v3.43h-3.42zM436.09 228.60h3.42v3.43h-3.42zM439.51 228.60h3.42v3.43h-3.42zM442.93 228.60h3.42v3.43h-3.42zM446.35 228.60h3.42v3.43h-3.42zM449.77 228.60h3.42v3.43h-3.42zM453.19 228.60h3.42v3.43h-3.42zM456.61 192.66h3.42v3.43h-3.42zM456.61 228.60h3.42v3.43h-3.42zM460.03 228.60h3.42v3.43h-3.42z"/>
<path fill="#f2704a" d="M27.20 189.23h3.42v3.43h-3.42zM30.62 192.66h3.42v3.43h-3.42zM30.62 196.09h3.42v3.43h-3.42zM30.62 199.52h3.42v3.43h-3.42zM30.62 202.95h3.42v3.43h-3.42zM30.62 213.24h3.42v3.43h-3.42zM30.62 216.67h3.42v3.43h-3.42zM34.04 192.66h3.42v3.43h-3.42zM34.04 196.09h3.42v3.43h-3.42zM34.04 199.52h3.42v3.43h-3.42zM34.04 202.95h3.42v3.43h-3.42zM34.04 209.81h3.42v3.43h-3.42zM34.04 213.24h3.42v3.43h-3.42zM34.04 216.67h3.42v3.43h-3.42zM37.46 199.52h3.42v3.43h-3.42zM37.46 202.95h3.42v3.43h-3.42zM37.46 206.38h3.42v3.43h-3.42zM37.46 209.81h3.42v3.43h-3.42zM37.46 213.24h3.42v3.43h-3.42zM37.46 216.67h3.42v3.43h-3.42zM40.88 192.66h3.42v3.43h-3.42zM40.88 196.09h3.42v3.43h-3.42zM40.88 199.52h3.42v3.43h-3.42zM40.88 202.95h3.42v3.43h-3.42zM40.88 206.38h3.42v3.43h-3.42zM40.88 209.81h3.42v3.43h-3.42zM40.88 216.67h3.42v3.43h-3.42zM44.30 192.66h3.42v3.43h-3.42zM44.30 196.09h3.42v3.43h-3.42zM44.30 199.52h3.42v3.43h-3.42zM44.30 202.95h3.42v3.43h-3.42zM44.30 206.38h3.42v3.43h-3.42zM44.30 209.81h3.42v3.43h-3.42zM47.72 206.38h3.42v3.43h-3.42zM47.72 209.81h3.42v3.43h-3.42zM61.40 199.52h3.42v3.43h-3.42zM61.40 202.95h3.42v3.43h-3.42zM64.82 199.52h3.42v3.43h-3.42zM68.24 199.52h3.42v3.43h-3.42zM68.24 202.95h3.42v3.43h-3.42zM68.24 220.10h3.42v3.43h-3.42zM88.76 192.66h3.42v3.43h-3.42zM88.76 196.09h3.42v3.43h-3.42zM92.18 192.66h3.42v3.43h-3.42zM92.18 196.09h3.42v3.43h-3.42zM95.60 192.66h3.42v3.43h-3.42zM95.60 196.09h3.42v3.43h-3.42zM100.77 213.24h3.42v3.43h-3.42zM100.77 223.53h3.42v3.43h-3.42zM100.77 271.40h3.42v3.43h-3.42zM104.19 213.24h3.42v3.43h-3.42zM104.19 223.53h3.42v3.43h-3.42zM107.61 220.10h3.42v3.43h-3.42zM111.03 220.10h3.42v3.43h-3.42zM114.45 271.40h3.42v3.43h-3.42zM131.55 278.26h3.42v3.43h-3.42zM131.55 281.69h3.42v3.43h-3.42zM131.55 285.12h3.42v3.43h-3.42zM148.65 271.40h3.42v3.43h-3.42zM148.65 274.83h3.42v3.43h-3.42zM148.65 278.26h3.42v3.43h-3.42zM148.65 281.69h3.42v3.43h-3.42zM148.65 285.12h3.42v3.43h-3.42zM164.08 281.69h3.42v3.43h-3.42zM167.50 274.83h3.42v3.43h-3.42zM167.50 278.26h3.42v3.43h-3.42zM167.50 281.69h3.42v3.43h-3.42zM174.34 271.40h3.42v3.43h-3.42zM174.34 274.83h3.42v3.43h-3.42zM174.34 278.26h3.42v3.43h-3.42zM174.34 281.69h3.42v3.43h-3.42zM174.34 285.12h3.42v3.43h-3.42zM177.76 274.83h3.42v3.43h-3.42zM177.76 278.26h3.42v3.43h-3.42zM177.76 288.55h3.42v3.43h-3.42zM181.18 278.26h3.42v3.43h-3.42zM181.18 281.69h3.42v3.43h-3.42zM181.18 285.12h3.42v3.43h-3.42zM184.60 271.40h3.42v3.43h-3.42zM184.60 274.83h3.42v3.43h-3.42zM184.60 285.12h3.42v3.43h-3.42zM191.44 274.83h3.42v3.43h-3.42zM191.44 278.26h3.42v3.43h-3.42zM191.44 281.69h3.42v3.43h-3.42zM191.44 285.12h3.42v3.43h-3.42zM194.86 278.26h3.42v3.43h-3.42zM194.86 281.69h3.42v3.43h-3.42zM213.71 291.98h3.42v3.43h-3.42zM213.71 295.41h3.42v3.43h-3.42zM217.13 291.98h3.42v3.43h-3.42zM217.13 295.41h3.42v3.43h-3.42zM220.55 291.98h3.42v3.43h-3.42zM220.55 295.41h3.42v3.43h-3.42zM223.97 291.98h3.42v3.43h-3.42zM223.97 295.41h3.42v3.43h-3.42zM227.39 295.41h3.42v3.43h-3.42zM241.07 281.69h3.42v3.43h-3.42zM241.07 288.55h3.42v3.43h-3.42zM241.07 291.98h3.42v3.43h-3.42zM241.07 295.41h3.42v3.43h-3.42zM244.49 281.69h3.42v3.43h-3.42zM244.49 285.12h3.42v3.43h-3.42zM244.49 291.98h3.42v3.43h-3.42zM244.49 295.41h3.42v3.43h-3.42zM247.91 256.04h3.42v3.43h-3.42zM247.91 259.47h3.42v3.43h-3.42zM251.33 228.60h3.42v3.43h-3.42zM254.75 228.60h3.42v3.43h-3.42zM258.17 285.12h3.42v3.43h-3.42zM277.02 238.89h3.42v3.43h-3.42zM277.02 242.32h3.42v3.43h-3.42zM277.02 245.75h3.42v3.43h-3.42zM277.02 249.18h3.42v3.43h-3.42zM277.02 256.04h3.42v3.43h-3.42zM277.02 259.47h3.42v3.43h-3.42zM277.02 262.90h3.42v3.43h-3.42zM277.02 266.33h3.42v3.43h-3.42zM277.02 291.98h3.42v3.43h-3.42zM277.02 295.41h3.42v3.43h-3.42zM280.44 238.89h3.42v3.43h-3.42zM280.44 242.32h3.42v3.43h-3.42zM280.44 245.75h3.42v3.43h-3.42zM280.44 256.04h3.42v3.43h-3.42zM280.44 259.47h3.42v3.43h-3.42zM280.44 262.90h3.42v3.43h-3.42zM280.44 266.33h3.42v3.43h-3.42zM280.44 291.98h3.42v3.43h-3.42zM280.44 295.41h3.42v3.43h-3.42zM283.86 238.89h3.42v3.43h-3.42zM283.86 242.32h3.42v3.43h-3.42zM283.86 245.75h3.42v3.43h-3.42zM283.86 249.18h3.42v3.43h-3.42zM283.86 256.04h3.42v3.43h-3.42zM283.86 259.47h3.42v3.43h-3.42zM283.86 262.90h3.42v3.43h-3.42zM283.86 266.33h3.42v3.43h-3.42zM283.86 291.98h3.42v3.43h-3.42zM283.86 295.41h3.42v3.43h-3.42zM287.28 238.89h3.42v3.43h-3.42zM287.28 242.32h3.42v3.43h-3.42zM287.28 245.75h3.42v3.43h-3.42zM287.28 249.18h3.42v3.43h-3.42zM287.28 256.04h3.42v3.43h-3.42zM287.28 259.47h3.42v3.43h-3.42zM287.28 262.90h3.42v3.43h-3.42zM294.12 228.60h3.42v3.43h-3.42zM294.12 232.03h3.42v3.43h-3.42zM294.12 235.46h3.42v3.43h-3.42zM294.12 256.04h3.42v3.43h-3.42zM294.12 259.47h3.42v3.43h-3.42zM294.12 262.90h3.42v3.43h-3.42zM294.12 266.33h3.42v3.43h-3.42zM297.54 245.75h3.42v3.43h-3.42zM297.54 256.04h3.42v3.43h-3.42zM297.54 259.47h3.42v3.43h-3.42zM307.80 228.60h3.42v3.43h-3.42zM307.80 256.04h3.42v3.43h-3.42zM307.80 262.90h3.42v3.43h-3.42zM324.90 228.60h3.42v3.43h-3.42zM324.90 288.55h3.42v3.43h-3.42zM328.32 228.60h3.42v3.43h-3.42zM331.74 228.60h3.42v3.43h-3.42zM331.74 232.03h3.42v3.43h-3.42zM331.74 235.46h3.42v3.43h-3.42zM338.58 228.60h3.42v3.43h-3.42zM342.00 228.60h3.42v3.43h-3.42zM342.00 232.03h3.42v3.43h-3.42zM342.00 235.46h3.42v3.43h-3.42zM367.69 249.18h3.42v3.43h-3.42zM374.53 238.89h3.42v3.43h-3.42zM381.37 192.66h3.42v3.43h-3.42zM381.37 196.09h3.42v3.43h-3.42zM381.37 238.89h3.42v3.43h-3.42zM381.37 242.32h3.42v3.43h-3.42zM384.79 192.66h3.42v3.43h-3.42zM388.21 223.53h3.42v3.43h-3.42zM391.63 206.38h3.42v3.43h-3.42zM391.63 209.81h3.42v3.43h-3.42zM391.63 213.24h3.42v3.43h-3.42zM401.89 192.66h3.42v3.43h-3.42zM405.31 192.66h3.42v3.43h-3.42zM412.15 232.03h3.42v3.43h-3.42zM412.15 235.46h3.42v3.43h-3.42zM415.57 235.46h3.42v3.43h-3.42zM415.57 266.33h3.42v3.43h-3.42zM418.99 232.03h3.42v3.43h-3.42zM418.99 235.46h3.42v3.43h-3.42zM422.41 232.03h3.42v3.43h-3.42zM422.41 235.46h3.42v3.43h-3.42zM429.25 232.03h3.42v3.43h-3.42zM429.25 235.46h3.42v3.43h-3.42zM432.67 232.03h3.42v3.43h-3.42zM432.67 235.46h3.42v3.43h-3.42zM436.09 232.03h3.42v3.43h-3.42zM436.09 235.46h3.42v3.43h-3.42zM439.51 232.03h3.42v3.43h-3.42zM439.51 235.46h3.42v3.43h-3.42zM442.93 232.03h3.42v3.43h-3.42zM442.93 235.46h3.42v3.43h-3.42zM446.35 232.03h3.42v3.43h-3.42zM446.35 235.46h3.42v3.43h-3.42zM449.77 232.03h3.42v3.43h-3.42zM449.77 235.46h3.42v3.43h-3.42zM453.19 232.03h3.42v3.43h-3.42zM453.19 235.46h3.42v3.43h-3.42zM456.61 232.03h3.42v3.43h-3.42zM456.61 235.46h3.42v3.43h-3.42zM460.03 232.03h3.42v3.43h-3.42zM460.03 235.46h3.42v3.43h-3.42z"/>
<path fill="#dc3b2c" d="M27.20 199.52h3.42v3.43h-3.42zM27.20 202.95h3.42v3.43h-3.42zM27.20 206.38h3.42v3.43h-3.42zM27.20 209.81h3.42v3.43h-3.42zM27.20 213.24h3.42v3.43h-3.42zM27.20 216.67h3.42v3.43h-3.42zM30.62 206.38h3.42v3.43h-3.42zM30.62 209.81h3.42v3.43h-3.42zM34.04 206.38h3.42v3.43h-3.42zM57.98 223.53h3.42v3.43h-3.42zM64.82 202.95h3.42v3.43h-3.42zM164.08 288.55h3.42v3.43h-3.42zM177.76 281.69h3.42v3.43h-3.42zM177.76 285.12h3.42v3.43h-3.42zM184.60 281.69h3.42v3.43h-3.42zM188.02 274.83h3.42v3.43h-3.42zM188.02 278.26h3.42v3.43h-3.42zM188.02 281.69h3.42v3.43h-3.42zM188.02 285.12h3.42v3.43h-3.42zM200.03 228.60h3.42v3.43h-3.42zM200.03 232.03h3.42v3.43h-3.42zM200.03 235.46h3.42v3.43h-3.42zM203.45 228.60h3.42v3.43h-3.42zM203.45 232.03h3.42v3.43h-3.42zM203.45 235.46h3.42v3.43h-3.42zM280.44 249.18h3.42v3.43h-3.42zM297.54 262.90h3.42v3.43h-3.42zM307.80 232.03h3.42v3.43h-3.42zM307.80 235.46h3.42v3.43h-3.42zM324.90 232.03h3.42v3.43h-3.42zM324.90 235.46h3.42v3.43h-3.42zM328.32 232.03h3.42v3.43h-3.42zM328.32 235.46h3.42v3.43h-3.42zM338.58 232.03h3.42v3.43h-3.42zM338.58 235.46h3.42v3.43h-3.42z"/>
<path fill="none" stroke="#c4c4c4" stroke-opacity="0.55" stroke-width="0.4" d="M27.20 185.80V226.96M27.20 228.60V269.76M27.20 271.40V298.84M30.62 185.80V226.96M30.62 228.60V269.76M30.62 271.40V298.84M34.04 185.80V226.96M34.04 228.60V269.76M34.04 271.40V298.84M37.46 185.80V226.96M37.46 228.60V269.76M37.46 271.40V298.84M40.88 185.80V226.96M40.88 228.60V269.76M40.88 271.40V298.84M44.30 185.80V226.96M44.30 228.60V269.76M44.30 271.40V298.84M47.72 185.80V226.96M47.72 228.60V269.76M47.72 271.40V298.84M51.14 185.80V226.96M51.14 228.60V269.76M51.14 271.40V298.84M54.56 185.80V226.96M54.56 228.60V269.76M54.56 271.40V298.84M57.98 185.80V226.96M57.98 228.60V269.76M57.98 271.40V298.84M61.40 185.80V226.96M61.40 228.60V269.76M61.40 271.40V298.84M64.82 185.80V226.96M64.82 228.60V269.76M64.82 271.40V298.84M68.24 185.80V226.96M68.24 228.60V269.76M68.24 271.40V298.84M71.66 185.80V226.96M71.66 228.60V269.76M71.66 271.40V298.84M75.08 185.80V226.96M75.08 228.60V269.76M75.08 271.40V298.84M78.50 185.80V226.96M78.50 228.60V269.76M78.50 271.40V298.84M81.92 185.80V226.96M81.92 228.60V269.76M81.92 271.40V298.84M85.34 185.80V226.96M85.34 228.60V269.76M85.34 271.40V298.84M88.76 185.80V226.96M88.76 228.60V269.76M88.76 271.40V298.84M92.18 185.80V226.96M92.18 228.60V269.76M92.18 271.40V298.84M95.60 185.80V226.96M95.60 228.60V269.76M95.60 271.40V298.84M99.02 185.80V226.96M99.02 228.60V269.76M99.02 271.40V298.84M27.20 185.80H99.02M27.20 189.23H99.02M27.20 192.66H99.02M27.20 196.09H99.02M27.20 199.52H99.02M27.20 202.95H99.02M27.20 206.38H99.02M27.20 209.81H99.02M27.20 213.24H99.02M27.20 216.67H99.02M27.20 220.10H99.02M27.20 223.53H99.02M27.20 226.96H99.02M27.20 228.60H99.02M27.20 232.03H99.02M27.20 235.46H99.02M27.20 238.89H99.02M27.20 242.32H99.02M27.20 245.75H99.02M27.20 249.18H99.02M27.20 252.61H99.02M27.20 256.04H99.02M27.20 259.47H99.02M27.20 262.90H99.02M27.20 266.33H99.02M27.20 269.76H99.02M27.20 271.40H99.02M27.20 274.83H99.02M27.20 278.26H99.02M27.20 281.69H99.02M27.20 285.12H99.02M27.20 288.55H99.02M27.20 291.98H99.02M27.20 295.41H99.02M27.20 298.84H99.02M100.77 185.80V226.96M100.77 228.60V269.76M100.77 271.40V298.84M104.19 185.80V226.96M104.19 228.60V269.76M104.19 271.40V298.84M107.61 185.80V226.96M107.61 228.60V269.76M107.61 271.40V298.84M111.03 185.80V226.96M111.03 228.60V269.76M111.03 271.40V298.84M114.45 185.80V226.96M114.45 228.60V269.76M114.45 271.40V298.84M117.87 185.80V226.96M117.87 228.60V269.76M117.87 271.40V298.84M121.29 185.80V226.96M121.29 228.60V269.76M121.29 271.40V298.84M124.71 185.80V226.96M124.71 228.60V269.76M124.71 271.40V298.84M128.13 185.80V226.96M128.13 228.60V269.76M128.13 271.40V298.84M131.55 185.80V226.96M131.55 228.60V269.76M131.55 271.40V298.84M134.97 185.80V226.96M134.97 228.60V269.76M134.97 271.40V298.84M138.39 185.80V226.96M138.39 228.60V269.76M138.39 271.40V298.84M141.81 185.80V226.96M141.81 228.60V269.76M141.81 271.40V298.84M145.23 185.80V226.96M145.23 228.60V269.76M145.23 271.40V298.84M148.65 185.80V226.96M148.65 228.60V269.76M148.65 271.40V298.84M152.07 185.80V226.96M152.07 228.60V269.76M152.07 271.40V298.84M155.49 185.80V226.96M155.49 228.60V269.76M155.49 271.40V298.84M158.91 185.80V226.96M158.91 228.60V269.76M158.91 271.40V298.84M162.33 185.80V226.96M162.33 228.60V269.76M162.33 271.40V298.84M100.77 185.80H162.33M100.77 189.23H162.33M100.77 192.66H162.33M100.77 196.09H162.33M100.77 199.52H162.33M100.77 202.95H162.33M100.77 206.38H162.33M100.77 209.81H162.33M100.77 213.24H162.33M100.77 216.67H162.33M100.77 220.10H162.33M100.77 223.53H162.33M100.77 226.96H162.33M100.77 228.60H162.33M100.77 232.03H162.33M100.77 235.46H162.33M100.77 238.89H162.33M100.77 242.32H162.33M100.77 245.75H162.33M100.77 249.18H162.33M100.77 252.61H162.33M100.77 256.04H162.33M100.77 259.47H162.33M100.77 262.90H162.33M100.77 266.33H162.33M100.77 269.76H162.33M100.77 271.40H162.33M100.77 274.83H162.33M100.77 278.26H162.33M100.77 281.69H162.33M100.77 285.12H162.33M100.77 288.55H162.33M100.77 291.98H162.33M100.77 295.41H162.33M100.77 298.84H162.33M164.08 185.80V226.96M164.08 228.60V269.76M164.08 271.40V298.84M167.50 185.80V226.96M167.50 228.60V269.76M167.50 271.40V298.84M170.92 185.80V226.96M170.92 228.60V269.76M170.92 271.40V298.84M174.34 185.80V226.96M174.34 228.60V269.76M174.34 271.40V298.84M177.76 185.80V226.96M177.76 228.60V269.76M177.76 271.40V298.84M181.18 185.80V226.96M181.18 228.60V269.76M181.18 271.40V298.84M184.60 185.80V226.96M184.60 228.60V269.76M184.60 271.40V298.84M188.02 185.80V226.96M188.02 228.60V269.76M188.02 271.40V298.84M191.44 185.80V226.96M191.44 228.60V269.76M191.44 271.40V298.84M194.86 185.80V226.96M194.86 228.60V269.76M194.86 271.40V298.84M198.28 185.80V226.96M198.28 228.60V269.76M198.28 271.40V298.84M164.08 185.80H198.28M164.08 189.23H198.28M164.08 192.66H198.28M164.08 196.09H198.28M164.08 199.52H198.28M164.08 202.95H198.28M164.08 206.38H198.28M164.08 209.81H198.28M164.08 213.24H198.28M164.08 216.67H198.28M164.08 220.10H198.28M164.08 223.53H198.28M164.08 226.96H198.28M164.08 228.60H198.28M164.08 232.03H198.28M164.08 235.46H198.28M164.08 238.89H198.28M164.08 242.32H198.28M164.08 245.75H198.28M164.08 249.18H198.28M164.08 252.61H198.28M164.08 256.04H198.28M164.08 259.47H198.28M164.08 262.90H198.28M164.08 266.33H198.28M164.08 269.76H198.28M164.08 271.40H198.28M164.08 274.83H198.28M164.08 278.26H198.28M164.08 281.69H198.28M164.08 285.12H198.28M164.08 288.55H198.28M164.08 291.98H198.28M164.08 295.41H198.28M164.08 298.84H198.28M200.03 185.80V226.96M200.03 228.60V269.76M200.03 271.40V298.84M203.45 185.80V226.96M203.45 228.60V269.76M203.45 271.40V298.84M206.87 185.80V226.96M206.87 228.60V269.76M206.87 271.40V298.84M210.29 185.80V226.96M210.29 228.60V269.76M210.29 271.40V298.84M213.71 185.80V226.96M213.71 228.60V269.76M213.71 271.40V298.84M217.13 185.80V226.96M217.13 228.60V269.76M217.13 271.40V298.84M220.55 185.80V226.96M220.55 228.60V269.76M220.55 271.40V298.84M223.97 185.80V226.96M223.97 228.60V269.76M223.97 271.40V298.84M227.39 185.80V226.96M227.39 228.60V269.76M227.39 271.40V298.84M230.81 185.80V226.96M230.81 228.60V269.76M230.81 271.40V298.84M234.23 185.80V226.96M234.23 228.60V269.76M234.23 271.40V298.84M237.65 185.80V226.96M237.65 228.60V269.76M237.65 271.40V298.84M241.07 185.80V226.96M241.07 228.60V269.76M241.07 271.40V298.84M244.49 185.80V226.96M244.49 228.60V269.76M244.49 271.40V298.84M247.91 185.80V226.96M247.91 228.60V269.76M247.91 271.40V298.84M251.33 185.80V226.96M251.33 228.60V269.76M251.33 271.40V298.84M254.75 185.80V226.96M254.75 228.60V269.76M254.75 271.40V298.84M258.17 185.80V226.96M258.17 228.60V269.76M258.17 271.40V298.84M261.59 185.80V226.96M261.59 228.60V269.76M261.59 271.40V298.84M265.01 185.80V226.96M265.01 228.60V269.76M265.01 271.40V298.84M268.43 185.80V226.96M268.43 228.60V269.76M268.43 271.40V298.84M271.85 185.80V226.96M271.85 228.60V269.76M271.85 271.40V298.84M275.27 185.80V226.96M275.27 228.60V269.76M275.27 271.40V298.84M200.03 185.80H275.27M200.03 189.23H275.27M200.03 192.66H275.27M200.03 196.09H275.27M200.03 199.52H275.27M200.03 202.95H275.27M200.03 206.38H275.27M200.03 209.81H275.27M200.03 213.24H275.27M200.03 216.67H275.27M200.03 220.10H275.27M200.03 223.53H275.27M200.03 226.96H275.27M200.03 228.60H275.27M200.03 232.03H275.27M200.03 235.46H275.27M200.03 238.89H275.27M200.03 242.32H275.27M200.03 245.75H275.27M200.03 249.18H275.27M200.03 252.61H275.27M200.03 256.04H275.27M200.03 259.47H275.27M200.03 262.90H275.27M200.03 266.33H275.27M200.03 269.76H275.27M200.03 271.40H275.27M200.03 274.83H275.27M200.03 278.26H275.27M200.03 281.69H275.27M200.03 285.12H275.27M200.03 288.55H275.27M200.03 291.98H275.27M200.03 295.41H275.27M200.03 298.84H275.27M277.02 185.80V226.96M277.02 228.60V269.76M277.02 271.40V298.84M280.44 185.80V226.96M280.44 228.60V269.76M280.44 271.40V298.84M283.86 185.80V226.96M283.86 228.60V269.76M283.86 271.40V298.84M287.28 185.80V226.96M287.28 228.60V269.76M287.28 271.40V298.84M290.70 185.80V226.96M290.70 228.60V269.76M290.70 271.40V298.84M294.12 185.80V226.96M294.12 228.60V269.76M294.12 271.40V298.84M297.54 185.80V226.96M297.54 228.60V269.76M297.54 271.40V298.84M300.96 185.80V226.96M300.96 228.60V269.76M300.96 271.40V298.84M304.38 185.80V226.96M304.38 228.60V269.76M304.38 271.40V298.84M307.80 185.80V226.96M307.80 228.60V269.76M307.80 271.40V298.84M311.22 185.80V226.96M311.22 228.60V269.76M311.22 271.40V298.84M314.64 185.80V226.96M314.64 228.60V269.76M314.64 271.40V298.84M318.06 185.80V226.96M318.06 228.60V269.76M318.06 271.40V298.84M321.48 185.80V226.96M321.48 228.60V269.76M321.48 271.40V298.84M324.90 185.80V226.96M324.90 228.60V269.76M324.90 271.40V298.84M328.32 185.80V226.96M328.32 228.60V269.76M328.32 271.40V298.84M331.74 185.80V226.96M331.74 228.60V269.76M331.74 271.40V298.84M335.16 185.80V226.96M335.16 228.60V269.76M335.16 271.40V298.84M338.58 185.80V226.96M338.58 228.60V269.76M338.58 271.40V298.84M342.00 185.80V226.96M342.00 228.60V269.76M342.00 271.40V298.84M345.42 185.80V226.96M345.42 228.60V269.76M345.42 271.40V298.84M277.02 185.80H345.42M277.02 189.23H345.42M277.02 192.66H345.42M277.02 196.09H345.42M277.02 199.52H345.42M277.02 202.95H345.42M277.02 206.38H345.42M277.02 209.81H345.42M277.02 213.24H345.42M277.02 216.67H345.42M277.02 220.10H345.42M277.02 223.53H345.42M277.02 226.96H345.42M277.02 228.60H345.42M277.02 232.03H345.42M277.02 235.46H345.42M277.02 238.89H345.42M277.02 242.32H345.42M277.02 245.75H345.42M277.02 249.18H345.42M277.02 252.61H345.42M277.02 256.04H345.42M277.02 259.47H345.42M277.02 262.90H345.42M277.02 266.33H345.42M277.02 269.76H345.42M277.02 271.40H345.42M277.02 274.83H345.42M277.02 278.26H345.42M277.02 281.69H345.42M277.02 285.12H345.42M277.02 288.55H345.42M277.02 291.98H345.42M277.02 295.41H345.42M277.02 298.84H345.42M347.17 185.80V226.96M347.17 228.60V269.76M347.17 271.40V298.84M350.59 185.80V226.96M350.59 228.60V269.76M350.59 271.40V298.84M354.01 185.80V226.96M354.01 228.60V269.76M354.01 271.40V298.84M357.43 185.80V226.96M357.43 228.60V269.76M357.43 271.40V298.84M360.85 185.80V226.96M360.85 228.60V269.76M360.85 271.40V298.84M364.27 185.80V226.96M364.27 228.60V269.76M364.27 271.40V298.84M367.69 185.80V226.96M367.69 228.60V269.76M367.69 271.40V298.84M371.11 185.80V226.96M371.11 228.60V269.76M371.11 271.40V298.84M374.53 185.80V226.96M374.53 228.60V269.76M374.53 271.40V298.84M377.95 185.80V226.96M377.95 228.60V269.76M377.95 271.40V298.84M381.37 185.80V226.96M381.37 228.60V269.76M381.37 271.40V298.84M384.79 185.80V226.96M384.79 228.60V269.76M384.79 271.40V298.84M388.21 185.80V226.96M388.21 228.60V269.76M388.21 271.40V298.84M391.63 185.80V226.96M391.63 228.60V269.76M391.63 271.40V298.84M395.05 185.80V226.96M395.05 228.60V269.76M395.05 271.40V298.84M398.47 185.80V226.96M398.47 228.60V269.76M398.47 271.40V298.84M401.89 185.80V226.96M401.89 228.60V269.76M401.89 271.40V298.84M405.31 185.80V226.96M405.31 228.60V269.76M405.31 271.40V298.84M408.73 185.80V226.96M408.73 228.60V269.76M408.73 271.40V298.84M412.15 185.80V226.96M412.15 228.60V269.76M412.15 271.40V298.84M415.57 185.80V226.96M415.57 228.60V269.76M415.57 271.40V298.84M418.99 185.80V226.96M418.99 228.60V269.76M418.99 271.40V298.84M422.41 185.80V226.96M422.41 228.60V269.76M422.41 271.40V298.84M425.83 185.80V226.96M425.83 228.60V269.76M425.83 271.40V298.84M429.25 185.80V226.96M429.25 228.60V269.76M429.25 271.40V298.84M432.67 185.80V226.96M432.67 228.60V269.76M432.67 271.40V298.84M436.09 185.80V226.96M436.09 228.60V269.76M436.09 271.40V298.84M439.51 185.80V226.96M439.51 228.60V269.76M439.51 271.40V298.84M442.93 185.80V226.96M442.93 228.60V269.76M442.93 271.40V298.84M446.35 185.80V226.96M446.35 228.60V269.76M446.35 271.40V298.84M449.77 185.80V226.96M449.77 228.60V269.76M449.77 271.40V298.84M453.19 185.80V226.96M453.19 228.60V269.76M453.19 271.40V298.84M456.61 185.80V226.96M456.61 228.60V269.76M456.61 271.40V298.84M460.03 185.80V226.96M460.03 228.60V269.76M460.03 271.40V298.84M463.45 185.80V226.96M463.45 228.60V269.76M463.45 271.40V298.84M347.17 185.80H463.45M347.17 189.23H463.45M347.17 192.66H463.45M347.17 196.09H463.45M347.17 199.52H463.45M347.17 202.95H463.45M347.17 206.38H463.45M347.17 209.81H463.45M347.17 213.24H463.45M347.17 216.67H463.45M347.17 220.10H463.45M347.17 223.53H463.45M347.17 226.96H463.45M347.17 228.60H463.45M347.17 232.03H463.45M347.17 235.46H463.45M347.17 238.89H463.45M347.17 242.32H463.45M347.17 245.75H463.45M347.17 249.18H463.45M347.17 252.61H463.45M347.17 256.04H463.45M347.17 259.47H463.45M347.17 262.90H463.45M347.17 266.33H463.45M347.17 269.76H463.45M347.17 271.40H463.45M347.17 274.83H463.45M347.17 278.26H463.45M347.17 281.69H463.45M347.17 285.12H463.45M347.17 288.55H463.45M347.17 291.98H463.45M347.17 295.41H463.45M347.17 298.84H463.45"/>
<path fill="#000" fill-opacity="0.33" d="M28.41 187.02h1v1h-1zM28.41 190.45h1v1h-1zM28.41 193.88h1v1h-1zM28.41 197.31h1v1h-1zM28.41 200.74h1v1h-1zM28.41 204.17h1v1h-1zM28.41 207.60h1v1h-1zM28.41 211.03h1v1h-1zM28.41 214.46h1v1h-1zM28.41 217.89h1v1h-1zM28.41 221.32h1v1h-1zM28.41 224.75h1v1h-1zM28.41 229.81h1v1h-1zM28.41 233.25h1v1h-1zM28.41 236.68h1v1h-1zM28.41 246.97h1v1h-1zM28.41 250.40h1v1h-1zM28.41 253.82h1v1h-1zM28.41 257.25h1v1h-1zM28.41 260.68h1v1h-1zM28.41 264.11h1v1h-1zM28.41 282.90h1v1h-1zM28.41 286.33h1v1h-1zM28.41 289.76h1v1h-1zM28.41 293.19h1v1h-1zM28.41 296.62h1v1h-1zM31.83 187.02h1v1h-1zM31.83 190.45h1v1h-1zM31.83 193.88h1v1h-1zM31.83 197.31h1v1h-1zM31.83 200.74h1v1h-1zM31.83 204.17h1v1h-1zM31.83 207.60h1v1h-1zM31.83 211.03h1v1h-1zM31.83 214.46h1v1h-1zM31.83 217.89h1v1h-1zM31.83 221.32h1v1h-1zM31.83 224.75h1v1h-1zM31.83 229.81h1v1h-1zM31.83 233.25h1v1h-1zM31.83 236.68h1v1h-1zM31.83 246.97h1v1h-1zM31.83 250.40h1v1h-1zM31.83 253.82h1v1h-1zM31.83 257.25h1v1h-1zM31.83 260.68h1v1h-1zM31.83 264.11h1v1h-1zM31.83 279.47h1v1h-1zM31.83 282.90h1v1h-1zM31.83 286.33h1v1h-1zM31.83 289.76h1v1h-1zM31.83 293.19h1v1h-1zM31.83 296.62h1v1h-1zM35.25 187.02h1v1h-1zM35.25 190.45h1v1h-1zM35.25 193.88h1v1h-1zM35.25 197.31h1v1h-1zM35.25 200.74h1v1h-1zM35.25 204.17h1v1h-1zM35.25 207.60h1v1h-1zM35.25 211.03h1v1h-1zM35.25 214.46h1v1h-1zM35.25 217.89h1v1h-1zM35.25 221.32h1v1h-1zM35.25 224.75h1v1h-1zM35.25 229.81h1v1h-1zM35.25 233.25h1v1h-1zM35.25 236.68h1v1h-1zM35.25 246.97h1v1h-1zM35.25 253.82h1v1h-1zM35.25 257.25h1v1h-1zM35.25 260.68h1v1h-1zM35.25 264.11h1v1h-1zM35.25 279.47h1v1h-1zM35.25 282.90h1v1h-1zM35.25 286.33h1v1h-1zM35.25 289.76h1v1h-1zM35.25 293.19h1v1h-1zM35.25 296.62h1v1h-1zM38.67 187.02h1v1h-1zM38.67 190.45h1v1h-1zM38.67 193.88h1v1h-1zM38.67 197.31h1v1h-1zM38.67 200.74h1v1h-1zM38.67 204.17h1v1h-1zM38.67 207.60h1v1h-1zM38.67 211.03h1v1h-1zM38.67 214.46h1v1h-1zM38.67 217.89h1v1h-1zM38.67 224.75h1v1h-1zM38.67 253.82h1v1h-1zM38.67 257.25h1v1h-1zM38.67 260.68h1v1h-1zM38.67 264.11h1v1h-1zM38.67 279.47h1v1h-1zM38.67 282.90h1v1h-1zM38.67 286.33h1v1h-1zM38.67 289.76h1v1h-1zM38.67 293.19h1v1h-1zM38.67 296.62h1v1h-1zM42.09 187.02h1v1h-1zM42.09 190.45h1v1h-1zM42.09 193.88h1v1h-1zM42.09 197.31h1v1h-1zM42.09 200.74h1v1h-1zM42.09 204.17h1v1h-1zM42.09 207.60h1v1h-1zM42.09 211.03h1v1h-1zM42.09 214.46h1v1h-1zM42.09 217.89h1v1h-1zM42.09 224.75h1v1h-1zM42.09 229.81h1v1h-1zM42.09 233.25h1v1h-1zM42.09 236.68h1v1h-1zM42.09 246.97h1v1h-1zM42.09 253.82h1v1h-1zM42.09 257.25h1v1h-1zM42.09 260.68h1v1h-1zM42.09 264.11h1v1h-1zM42.09 276.04h1v1h-1zM42.09 279.47h1v1h-1zM42.09 282.90h1v1h-1zM42.09 286.33h1v1h-1zM42.09 289.76h1v1h-1zM42.09 293.19h1v1h-1zM42.09 296.62h1v1h-1zM45.51 187.02h1v1h-1zM45.51 190.45h1v1h-1zM45.51 193.88h1v1h-1zM45.51 197.31h1v1h-1zM45.51 200.74h1v1h-1zM45.51 204.17h1v1h-1zM45.51 207.60h1v1h-1zM45.51 211.03h1v1h-1zM45.51 214.46h1v1h-1zM45.51 217.89h1v1h-1zM45.51 221.32h1v1h-1zM45.51 224.75h1v1h-1zM45.51 229.81h1v1h-1zM45.51 233.25h1v1h-1zM45.51 236.68h1v1h-1zM45.51 246.97h1v1h-1zM45.51 253.82h1v1h-1zM45.51 257.25h1v1h-1zM45.51 260.68h1v1h-1zM45.51 264.11h1v1h-1zM45.51 276.04h1v1h-1zM45.51 279.47h1v1h-1zM45.51 282.90h1v1h-1zM45.51 286.33h1v1h-1zM45.51 289.76h1v1h-1zM45.51 293.19h1v1h-1zM45.51 296.62h1v1h-1zM48.93 187.02h1v1h-1zM48.93 190.45h1v1h-1zM48.93 193.88h1v1h-1zM48.93 197.31h1v1h-1zM48.93 200.74h1v1h-1zM48.93 204.17h1v1h-1zM48.93 207.60h1v1h-1zM48.93 211.03h1v1h-1zM48.93 214.46h1v1h-1zM48.93 217.89h1v1h-1zM48.93 221.32h1v1h-1zM48.93 224.75h1v1h-1zM48.93 276.04h1v1h-1zM48.93 279.47h1v1h-1zM48.93 282.90h1v1h-1zM48.93 286.33h1v1h-1zM48.93 293.19h1v1h-1zM48.93 296.62h1v1h-1zM52.35 187.02h1v1h-1zM52.35 190.45h1v1h-1zM52.35 193.88h1v1h-1zM52.35 197.31h1v1h-1zM52.35 200.74h1v1h-1zM52.35 204.17h1v1h-1zM52.35 207.60h1v1h-1zM52.35 211.03h1v1h-1zM52.35 214.46h1v1h-1zM52.35 217.89h1v1h-1zM52.35 221.32h1v1h-1zM52.35 224.75h1v1h-1zM52.35 253.82h1v1h-1zM52.35 257.25h1v1h-1zM52.35 282.90h1v1h-1zM52.35 286.33h1v1h-1zM52.35 289.76h1v1h-1zM52.35 293.19h1v1h-1zM52.35 296.62h1v1h-1zM55.77 187.02h1v1h-1zM55.77 190.45h1v1h-1zM55.77 193.88h1v1h-1zM55.77 197.31h1v1h-1zM55.77 200.74h1v1h-1zM55.77 204.17h1v1h-1zM55.77 207.60h1v1h-1zM55.77 211.03h1v1h-1zM55.77 214.46h1v1h-1zM55.77 217.89h1v1h-1zM55.77 221.32h1v1h-1zM55.77 224.75h1v1h-1zM55.77 233.25h1v1h-1zM55.77 236.68h1v1h-1zM55.77 253.82h1v1h-1zM55.77 257.25h1v1h-1zM55.77 260.68h1v1h-1zM55.77 264.11h1v1h-1zM55.77 279.47h1v1h-1zM55.77 282.90h1v1h-1zM55.77 286.33h1v1h-1zM55.77 289.76h1v1h-1zM55.77 293.19h1v1h-1zM55.77 296.62h1v1h-1zM59.19 187.02h1v1h-1zM59.19 190.45h1v1h-1zM59.19 193.88h1v1h-1zM59.19 197.31h1v1h-1zM59.19 200.74h1v1h-1zM59.19 204.17h1v1h-1zM59.19 207.60h1v1h-1zM59.19 211.03h1v1h-1zM59.19 214.46h1v1h-1zM59.19 217.89h1v1h-1zM59.19 221.32h1v1h-1zM59.19 224.75h1v1h-1zM59.19 253.82h1v1h-1zM59.19 257.25h1v1h-1zM59.19 260.68h1v1h-1zM59.19 264.11h1v1h-1zM59.19 272.61h1v1h-1zM59.19 289.76h1v1h-1zM59.19 293.19h1v1h-1zM62.61 187.02h1v1h-1zM62.61 190.45h1v1h-1zM62.61 193.88h1v1h-1zM62.61 197.31h1v1h-1zM62.61 200.74h1v1h-1zM62.61 204.17h1v1h-1zM62.61 207.60h1v1h-1zM62.61 211.03h1v1h-1zM62.61 214.46h1v1h-1zM62.61 217.89h1v1h-1zM62.61 221.32h1v1h-1zM62.61 224.75h1v1h-1zM62.61 229.81h1v1h-1zM62.61 233.25h1v1h-1zM62.61 236.68h1v1h-1zM62.61 246.97h1v1h-1zM62.61 250.40h1v1h-1zM62.61 253.82h1v1h-1zM62.61 257.25h1v1h-1zM62.61 260.68h1v1h-1zM62.61 264.11h1v1h-1zM62.61 267.54h1v1h-1zM62.61 272.61h1v1h-1zM62.61 289.76h1v1h-1zM62.61 293.19h1v1h-1zM62.61 296.62h1v1h-1zM66.03 190.45h1v1h-1zM66.03 193.88h1v1h-1zM66.03 197.31h1v1h-1zM66.03 200.74h1v1h-1zM66.03 204.17h1v1h-1zM66.03 207.60h1v1h-1zM66.03 211.03h1v1h-1zM66.03 214.46h1v1h-1zM66.03 217.89h1v1h-1zM66.03 221.32h1v1h-1zM66.03 224.75h1v1h-1zM66.03 229.81h1v1h-1zM66.03 233.25h1v1h-1zM66.03 236.68h1v1h-1zM66.03 240.10h1v1h-1zM66.03 243.53h1v1h-1zM66.03 246.97h1v1h-1zM66.03 250.40h1v1h-1zM66.03 253.82h1v1h-1zM66.03 257.25h1v1h-1zM66.03 260.68h1v1h-1zM66.03 264.11h1v1h-1zM66.03 267.54h1v1h-1zM66.03 272.61h1v1h-1zM66.03 276.04h1v1h-1zM66.03 279.47h1v1h-1zM66.03 289.76h1v1h-1zM66.03 293.19h1v1h-1zM66.03 296.62h1v1h-1zM69.45 190.45h1v1h-1zM69.45 193.88h1v1h-1zM69.45 197.31h1v1h-1zM69.45 200.74h1v1h-1zM69.45 204.17h1v1h-1zM69.45 207.60h1v1h-1zM69.45 211.03h1v1h-1zM69.45 214.46h1v1h-1zM69.45 217.89h1v1h-1zM69.45 221.32h1v1h-1zM69.45 224.75h1v1h-1zM69.45 229.81h1v1h-1zM69.45 233.25h1v1h-1zM69.45 236.68h1v1h-1zM69.45 240.10h1v1h-1zM69.45 243.53h1v1h-1zM69.45 246.97h1v1h-1zM69.45 250.40h1v1h-1zM69.45 253.82h1v1h-1zM69.45 257.25h1v1h-1zM69.45 260.68h1v1h-1zM69.45 264.11h1v1h-1zM69.45 267.54h1v1h-1zM69.45 272.61h1v1h-1zM69.45 276.04h1v1h-1zM69.45 279.47h1v1h-1zM69.45 286.33h1v1h-1zM69.45 289.76h1v1h-1zM69.45 293.19h1v1h-1zM69.45 296.62h1v1h-1zM72.87 200.74h1v1h-1zM72.87 204.17h1v1h-1zM72.87 207.60h1v1h-1zM72.87 211.03h1v1h-1zM72.87 214.46h1v1h-1zM72.87 217.89h1v1h-1zM72.87 229.81h1v1h-1zM72.87 233.25h1v1h-1zM72.87 236.68h1v1h-1zM76.29 193.88h1v1h-1zM76.29 197.31h1v1h-1zM76.29 200.74h1v1h-1zM76.29 204.17h1v1h-1zM76.29 214.46h1v1h-1zM76.29 217.89h1v1h-1zM79.71 190.45h1v1h-1zM79.71 193.88h1v1h-1zM79.71 197.31h1v1h-1zM79.71 200.74h1v1h-1zM79.71 204.17h1v1h-1zM79.71 207.60h1v1h-1zM79.71 211.03h1v1h-1zM79.71 214.46h1v1h-1zM79.71 217.89h1v1h-1zM79.71 221.32h1v1h-1zM79.71 272.61h1v1h-1zM79.71 276.04h1v1h-1zM79.71 279.47h1v1h-1zM79.71 286.33h1v1h-1zM79.71 289.76h1v1h-1zM79.71 293.19h1v1h-1zM79.71 296.62h1v1h-1zM83.13 193.88h1v1h-1zM83.13 197.31h1v1h-1zM83.13 200.74h1v1h-1zM83.13 204.17h1v1h-1zM83.13 207.60h1v1h-1zM83.13 211.03h1v1h-1zM83.13 214.46h1v1h-1zM83.13 217.89h1v1h-1zM83.13 233.25h1v1h-1zM83.13 236.68h1v1h-1zM83.13 240.10h1v1h-1zM83.13 243.53h1v1h-1zM83.13 246.97h1v1h-1zM83.13 250.40h1v1h-1zM83.13 253.82h1v1h-1zM83.13 257.25h1v1h-1zM83.13 260.68h1v1h-1zM83.13 264.11h1v1h-1zM83.13 267.54h1v1h-1zM86.55 200.74h1v1h-1zM86.55 207.60h1v1h-1zM86.55 211.03h1v1h-1zM86.55 214.46h1v1h-1zM89.97 190.45h1v1h-1zM89.97 193.88h1v1h-1zM89.97 197.31h1v1h-1zM89.97 200.74h1v1h-1zM89.97 204.17h1v1h-1zM89.97 207.60h1v1h-1zM89.97 211.03h1v1h-1zM89.97 214.46h1v1h-1zM89.97 217.89h1v1h-1zM89.97 253.82h1v1h-1zM89.97 257.25h1v1h-1zM89.97 289.76h1v1h-1zM93.39 190.45h1v1h-1zM93.39 193.88h1v1h-1zM93.39 197.31h1v1h-1zM93.39 200.74h1v1h-1zM93.39 204.17h1v1h-1zM93.39 214.46h1v1h-1zM93.39 221.32h1v1h-1zM93.39 253.82h1v1h-1zM93.39 257.25h1v1h-1zM93.39 279.47h1v1h-1zM93.39 282.90h1v1h-1zM93.39 289.76h1v1h-1zM93.39 293.19h1v1h-1zM93.39 296.62h1v1h-1zM96.81 190.45h1v1h-1zM96.81 193.88h1v1h-1zM96.81 197.31h1v1h-1zM96.81 200.74h1v1h-1zM96.81 204.17h1v1h-1zM96.81 214.46h1v1h-1zM96.81 221.32h1v1h-1zM96.81 253.82h1v1h-1zM96.81 257.25h1v1h-1zM96.81 279.47h1v1h-1zM96.81 282.90h1v1h-1zM96.81 289.76h1v1h-1zM96.81 293.19h1v1h-1zM96.81 296.62h1v1h-1zM101.98 190.45h1v1h-1zM101.98 200.74h1v1h-1zM101.98 204.17h1v1h-1zM101.98 207.60h1v1h-1zM101.98 211.03h1v1h-1zM101.98 214.46h1v1h-1zM101.98 217.89h1v1h-1zM101.98 221.32h1v1h-1zM101.98 224.75h1v1h-1zM101.98 233.25h1v1h-1zM101.98 236.68h1v1h-1zM101.98 253.82h1v1h-1zM101.98 272.61h1v1h-1zM101.98 276.04h1v1h-1zM101.98 279.47h1v1h-1zM101.98 286.33h1v1h-1zM101.98 296.62h1v1h-1zM105.40 190.45h1v1h-1zM105.40 200.74h1v1h-1zM105.40 204.17h1v1h-1zM105.40 207.60h1v1h-1zM105.40 211.03h1v1h-1zM105.40 214.46h1v1h-1zM105.40 217.89h1v1h-1zM105.40 221.32h1v1h-1zM105.40 224.75h1v1h-1zM105.40 233.25h1v1h-1zM105.40 236.68h1v1h-1zM105.40 246.97h1v1h-1zM105.40 253.82h1v1h-1zM105.40 257.25h1v1h-1zM105.40 260.68h1v1h-1zM105.40 272.61h1v1h-1zM105.40 293.19h1v1h-1zM108.82 193.88h1v1h-1zM108.82 200.74h1v1h-1zM108.82 204.17h1v1h-1zM108.82 207.60h1v1h-1zM108.82 211.03h1v1h-1zM108.82 214.46h1v1h-1zM108.82 221.32h1v1h-1zM108.82 224.75h1v1h-1zM108.82 233.25h1v1h-1zM108.82 236.68h1v1h-1zM108.82 243.53h1v1h-1zM108.82 246.97h1v1h-1zM108.82 250.40h1v1h-1zM108.82 253.82h1v1h-1zM108.82 257.25h1v1h-1zM108.82 260.68h1v1h-1zM108.82 264.11h1v1h-1zM108.82 267.54h1v1h-1zM108.82 272.61h1v1h-1zM108.82 276.04h1v1h-1zM108.82 279.47h1v1h-1zM108.82 293.19h1v1h-1zM112.24 187.02h1v1h-1zM112.24 193.88h1v1h-1zM112.24 200.74h1v1h-1zM112.24 204.17h1v1h-1zM112.24 221.32h1v1h-1zM112.24 224.75h1v1h-1zM112.24 233.25h1v1h-1zM112.24 236.68h1v1h-1zM112.24 240.10h1v1h-1zM112.24 243.53h1v1h-1zM112.24 246.97h1v1h-1zM112.24 250.40h1v1h-1zM112.24 253.82h1v1h-1zM112.24 257.25h1v1h-1zM112.24 260.68h1v1h-1zM112.24 264.11h1v1h-1zM112.24 267.54h1v1h-1zM112.24 272.61h1v1h-1zM112.24 276.04h1v1h-1zM112.24 279.47h1v1h-1zM112.24 282.90h1v1h-1zM112.24 286.33h1v1h-1zM112.24 296.62h1v1h-1zM115.66 187.02h1v1h-1zM115.66 197.31h1v1h-1zM115.66 200.74h1v1h-1zM115.66 221.32h1v1h-1zM115.66 224.75h1v1h-1zM115.66 233.25h1v1h-1zM115.66 236.68h1v1h-1zM115.66 240.10h1v1h-1zM115.66 243.53h1v1h-1zM115.66 246.97h1v1h-1zM115.66 250.40h1v1h-1zM115.66 253.82h1v1h-1zM115.66 257.25h1v1h-1zM115.66 260.68h1v1h-1zM115.66 264.11h1v1h-1zM115.66 267.54h1v1h-1zM115.66 272.61h1v1h-1zM115.66 276.04h1v1h-1zM115.66 279.47h1v1h-1zM115.66 282.90h1v1h-1zM115.66 286.33h1v1h-1zM115.66 296.62h1v1h-1zM119.08 221.32h1v1h-1zM119.08 224.75h1v1h-1zM119.08 229.81h1v1h-1zM119.08 293.19h1v1h-1zM122.50 193.88h1v1h-1zM122.50 197.31h1v1h-1zM122.50 221.32h1v1h-1zM122.50 272.61h1v1h-1zM122.50 276.04h1v1h-1zM122.50 279.47h1v1h-1zM122.50 282.90h1v1h-1zM122.50 286.33h1v1h-1zM125.92 193.88h1v1h-1zM125.92 224.75h1v1h-1zM125.92 229.81h1v1h-1zM125.92 272.61h1v1h-1zM125.92 276.04h1v1h-1zM125.92 279.47h1v1h-1zM125.92 282.90h1v1h-1zM125.92 286.33h1v1h-1zM129.34 193.88h1v1h-1zM129.34 197.31h1v1h-1zM129.34 221.32h1v1h-1zM129.34 224.75h1v1h-1zM129.34 253.82h1v1h-1zM132.76 193.88h1v1h-1zM132.76 221.32h1v1h-1zM132.76 272.61h1v1h-1zM132.76 276.04h1v1h-1zM132.76 279.47h1v1h-1zM132.76 282.90h1v1h-1zM132.76 286.33h1v1h-1zM132.76 289.76h1v1h-1zM132.76 293.19h1v1h-1zM136.18 187.02h1v1h-1zM136.18 193.88h1v1h-1zM136.18 221.32h1v1h-1zM136.18 229.81h1v1h-1zM136.18 272.61h1v1h-1zM136.18 276.04h1v1h-1zM136.18 279.47h1v1h-1zM136.18 282.90h1v1h-1zM136.18 286.33h1v1h-1zM139.60 187.02h1v1h-1zM139.60 193.88h1v1h-1zM139.60 207.60h1v1h-1zM139.60 229.81h1v1h-1zM139.60 272.61h1v1h-1zM139.60 276.04h1v1h-1zM139.60 279.47h1v1h-1zM139.60 282.90h1v1h-1zM139.60 286.33h1v1h-1zM143.02 187.02h1v1h-1zM143.02 193.88h1v1h-1zM143.02 214.46h1v1h-1zM143.02 229.81h1v1h-1zM143.02 272.61h1v1h-1zM143.02 276.04h1v1h-1zM143.02 279.47h1v1h-1zM143.02 282.90h1v1h-1zM143.02 286.33h1v1h-1zM146.44 187.02h1v1h-1zM146.44 193.88h1v1h-1zM146.44 197.31h1v1h-1zM146.44 221.32h1v1h-1zM146.44 240.10h1v1h-1zM146.44 243.53h1v1h-1zM146.44 246.97h1v1h-1zM146.44 250.40h1v1h-1zM146.44 264.11h1v1h-1zM146.44 272.61h1v1h-1zM146.44 276.04h1v1h-1zM146.44 279.47h1v1h-1zM146.44 282.90h1v1h-1zM146.44 286.33h1v1h-1zM146.44 289.76h1v1h-1zM149.86 193.88h1v1h-1zM149.86 221.32h1v1h-1zM149.86 240.10h1v1h-1zM149.86 243.53h1v1h-1zM149.86 246.97h1v1h-1zM149.86 250.40h1v1h-1zM149.86 264.11h1v1h-1zM149.86 272.61h1v1h-1zM149.86 276.04h1v1h-1zM149.86 279.47h1v1h-1zM149.86 282.90h1v1h-1zM149.86 286.33h1v1h-1zM149.86 289.76h1v1h-1zM149.86 293.19h1v1h-1zM153.28 187.02h1v1h-1zM153.28 197.31h1v1h-1zM153.28 204.17h1v1h-1zM153.28 207.60h1v1h-1zM153.28 224.75h1v1h-1zM153.28 240.10h1v1h-1zM153.28 243.53h1v1h-1zM153.28 246.97h1v1h-1zM153.28 250.40h1v1h-1zM153.28 257.25h1v1h-1zM153.28 260.68h1v1h-1zM153.28 264.11h1v1h-1zM153.28 267.54h1v1h-1zM153.28 296.62h1v1h-1zM156.70 187.02h1v1h-1zM156.70 193.88h1v1h-1zM156.70 197.31h1v1h-1zM156.70 207.60h1v1h-1zM156.70 211.03h1v1h-1zM156.70 224.75h1v1h-1zM160.12 187.02h1v1h-1zM160.12 229.81h1v1h-1zM160.12 233.25h1v1h-1zM160.12 236.68h1v1h-1zM160.12 272.61h1v1h-1zM165.29 187.02h1v1h-1zM165.29 190.45h1v1h-1zM165.29 193.88h1v1h-1zM165.29 197.31h1v1h-1zM165.29 200.74h1v1h-1zM165.29 207.60h1v1h-1zM165.29 211.03h1v1h-1zM165.29 214.46h1v1h-1zM165.29 217.89h1v1h-1zM165.29 224.75h1v1h-1zM165.29 229.81h1v1h-1zM165.29 233.25h1v1h-1zM165.29 236.68h1v1h-1zM165.29 240.10h1v1h-1zM165.29 243.53h1v1h-1zM165.29 246.97h1v1h-1zM165.29 253.82h1v1h-1zM165.29 272.61h1v1h-1zM165.29 276.04h1v1h-1zM165.29 279.47h1v1h-1zM165.29 282.90h1v1h-1zM165.29 286.33h1v1h-1zM165.29 289.76h1v1h-1zM165.29 293.19h1v1h-1zM165.29 296.62h1v1h-1zM168.71 187.02h1v1h-1zM168.71 190.45h1v1h-1zM168.71 193.88h1v1h-1zM168.71 197.31h1v1h-1zM168.71 207.60h1v1h-1zM168.71 211.03h1v1h-1zM168.71 214.46h1v1h-1zM168.71 217.89h1v1h-1zM168.71 221.32h1v1h-1zM168.71 229.81h1v1h-1zM168.71 233.25h1v1h-1zM168.71 236.68h1v1h-1zM168.71 240.10h1v1h-1zM168.71 243.53h1v1h-1zM168.71 246.97h1v1h-1zM168.71 250.40h1v1h-1zM168.71 272.61h1v1h-1zM168.71 276.04h1v1h-1zM168.71 279.47h1v1h-1zM168.71 282.90h1v1h-1zM168.71 286.33h1v1h-1zM168.71 289.76h1v1h-1zM168.71 293.19h1v1h-1zM168.71 296.62h1v1h-1zM172.13 187.02h1v1h-1zM172.13 190.45h1v1h-1zM172.13 193.88h1v1h-1zM172.13 197.31h1v1h-1zM172.13 207.60h1v1h-1zM172.13 211.03h1v1h-1zM172.13 214.46h1v1h-1zM172.13 217.89h1v1h-1zM172.13 221.32h1v1h-1zM172.13 229.81h1v1h-1zM172.13 233.25h1v1h-1zM172.13 236.68h1v1h-1zM172.13 240.10h1v1h-1zM172.13 243.53h1v1h-1zM172.13 246.97h1v1h-1zM172.13 250.40h1v1h-1zM172.13 272.61h1v1h-1zM172.13 276.04h1v1h-1zM172.13 279.47h1v1h-1zM172.13 282.90h1v1h-1zM172.13 286.33h1v1h-1zM172.13 289.76h1v1h-1zM172.13 293.19h1v1h-1zM172.13 296.62h1v1h-1zM175.55 187.02h1v1h-1zM175.55 190.45h1v1h-1zM175.55 193.88h1v1h-1zM175.55 197.31h1v1h-1zM175.55 207.60h1v1h-1zM175.55 211.03h1v1h-1zM175.55 272.61h1v1h-1zM175.55 276.04h1v1h-1zM175.55 279.47h1v1h-1zM175.55 282.90h1v1h-1zM175.55 286.33h1v1h-1zM175.55 289.76h1v1h-1zM175.55 293.19h1v1h-1zM175.55 296.62h1v1h-1zM178.97 187.02h1v1h-1zM178.97 190.45h1v1h-1zM178.97 193.88h1v1h-1zM178.97 197.31h1v1h-1zM178.97 200.74h1v1h-1zM178.97 204.17h1v1h-1zM178.97 207.60h1v1h-1zM178.97 211.03h1v1h-1zM178.97 214.46h1v1h-1zM178.97 217.89h1v1h-1zM178.97 253.82h1v1h-1zM178.97 257.25h1v1h-1zM178.97 272.61h1v1h-1zM178.97 276.04h1v1h-1zM178.97 279.47h1v1h-1zM178.97 282.90h1v1h-1zM178.97 286.33h1v1h-1zM178.97 289.76h1v1h-1zM178.97 293.19h1v1h-1zM178.97 296.62h1v1h-1zM182.39 187.02h1v1h-1zM182.39 190.45h1v1h-1zM182.39 193.88h1v1h-1zM182.39 197.31h1v1h-1zM182.39 207.60h1v1h-1zM182.39 211.03h1v1h-1zM182.39 240.10h1v1h-1zM182.39 243.53h1v1h-1zM182.39 272.61h1v1h-1zM182.39 276.04h1v1h-1zM182.39 279.47h1v1h-1zM182.39 282.90h1v1h-1zM182.39 286.33h1v1h-1zM182.39 289.76h1v1h-1zM182.39 293.19h1v1h-1zM182.39 296.62h1v1h-1zM185.81 187.02h1v1h-1zM185.81 190.45h1v1h-1zM185.81 193.88h1v1h-1zM185.81 197.31h1v1h-1zM185.81 207.60h1v1h-1zM185.81 211.03h1v1h-1zM185.81 214.46h1v1h-1zM185.81 217.89h1v1h-1zM185.81 221.32h1v1h-1zM185.81 240.10h1v1h-1zM185.81 243.53h1v1h-1zM185.81 246.97h1v1h-1zM185.81 267.54h1v1h-1zM185.81 272.61h1v1h-1zM185.81 276.04h1v1h-1zM185.81 279.47h1v1h-1zM185.81 282.90h1v1h-1zM185.81 286.33h1v1h-1zM185.81 289.76h1v1h-1zM185.81 293.19h1v1h-1zM185.81 296.62h1v1h-1zM189.23 187.02h1v1h-1zM189.23 190.45h1v1h-1zM189.23 193.88h1v1h-1zM189.23 197.31h1v1h-1zM189.23 207.60h1v1h-1zM189.23 211.03h1v1h-1zM189.23 214.46h1v1h-1zM189.23 217.89h1v1h-1zM189.23 221.32h1v1h-1zM189.23 240.10h1v1h-1zM189.23 243.53h1v1h-1zM189.23 246.97h1v1h-1zM189.23 267.54h1v1h-1zM189.23 272.61h1v1h-1zM189.23 276.04h1v1h-1zM189.23 279.47h1v1h-1zM189.23 282.90h1v1h-1zM189.23 286.33h1v1h-1zM189.23 289.76h1v1h-1zM189.23 293.19h1v1h-1zM189.23 296.62h1v1h-1zM192.65 187.02h1v1h-1zM192.65 190.45h1v1h-1zM192.65 193.88h1v1h-1zM192.65 197.31h1v1h-1zM192.65 207.60h1v1h-1zM192.65 211.03h1v1h-1zM192.65 214.46h1v1h-1zM192.65 217.89h1v1h-1zM192.65 221.32h1v1h-1zM192.65 240.10h1v1h-1zM192.65 243.53h1v1h-1zM192.65 272.61h1v1h-1zM192.65 276.04h1v1h-1zM192.65 279.47h1v1h-1zM192.65 282.90h1v1h-1zM192.65 286.33h1v1h-1zM192.65 289.76h1v1h-1zM192.65 293.19h1v1h-1zM192.65 296.62h1v1h-1zM196.07 187.02h1v1h-1zM196.07 190.45h1v1h-1zM196.07 193.88h1v1h-1zM196.07 197.31h1v1h-1zM196.07 207.60h1v1h-1zM196.07 211.03h1v1h-1zM196.07 214.46h1v1h-1zM196.07 217.89h1v1h-1zM196.07 221.32h1v1h-1zM196.07 240.10h1v1h-1zM196.07 243.53h1v1h-1zM196.07 272.61h1v1h-1zM196.07 276.04h1v1h-1zM196.07 279.47h1v1h-1zM196.07 282.90h1v1h-1zM196.07 286.33h1v1h-1zM196.07 289.76h1v1h-1zM196.07 293.19h1v1h-1zM196.07 296.62h1v1h-1zM201.24 190.45h1v1h-1zM201.24 193.88h1v1h-1zM201.24 197.31h1v1h-1zM201.24 200.74h1v1h-1zM201.24 204.17h1v1h-1zM201.24 207.60h1v1h-1zM201.24 211.03h1v1h-1zM201.24 214.46h1v1h-1zM201.24 217.89h1v1h-1zM201.24 229.81h1v1h-1zM201.24 233.25h1v1h-1zM201.24 236.68h1v1h-1zM201.24 253.82h1v1h-1zM201.24 257.25h1v1h-1zM201.24 260.68h1v1h-1zM201.24 264.11h1v1h-1zM201.24 282.90h1v1h-1zM201.24 289.76h1v1h-1zM201.24 293.19h1v1h-1zM204.66 193.88h1v1h-1zM204.66 197.31h1v1h-1zM204.66 200.74h1v1h-1zM204.66 204.17h1v1h-1zM204.66 207.60h1v1h-1zM204.66 211.03h1v1h-1zM204.66 214.46h1v1h-1zM204.66 217.89h1v1h-1zM204.66 224.75h1v1h-1zM204.66 229.81h1v1h-1zM204.66 233.25h1v1h-1zM204.66 236.68h1v1h-1zM204.66 253.82h1v1h-1zM204.66 257.25h1v1h-1zM204.66 260.68h1v1h-1zM204.66 264.11h1v1h-1zM204.66 282.90h1v1h-1zM204.66 289.76h1v1h-1zM204.66 293.19h1v1h-1zM208.08 193.88h1v1h-1zM208.08 197.31h1v1h-1zM208.08 200.74h1v1h-1zM208.08 204.17h1v1h-1zM208.08 207.60h1v1h-1zM208.08 211.03h1v1h-1zM208.08 214.46h1v1h-1zM208.08 217.89h1v1h-1zM208.08 224.75h1v1h-1zM208.08 233.25h1v1h-1zM208.08 236.68h1v1h-1zM208.08 253.82h1v1h-1zM208.08 257.25h1v1h-1zM208.08 264.11h1v1h-1zM208.08 272.61h1v1h-1zM208.08 282.90h1v1h-1zM208.08 289.76h1v1h-1zM211.50 217.89h1v1h-1zM211.50 233.25h1v1h-1zM211.50 236.68h1v1h-1zM211.50 240.10h1v1h-1zM211.50 243.53h1v1h-1zM211.50 250.40h1v1h-1zM211.50 253.82h1v1h-1zM211.50 257.25h1v1h-1zM211.50 264.11h1v1h-1zM211.50 272.61h1v1h-1zM211.50 282.90h1v1h-1zM211.50 289.76h1v1h-1zM211.50 296.62h1v1h-1zM214.92 193.88h1v1h-1zM214.92 197.31h1v1h-1zM214.92 200.74h1v1h-1zM214.92 204.17h1v1h-1zM214.92 207.60h1v1h-1zM214.92 211.03h1v1h-1zM214.92 214.46h1v1h-1zM214.92 217.89h1v1h-1zM214.92 240.10h1v1h-1zM214.92 243.53h1v1h-1zM214.92 246.97h1v1h-1zM214.92 250.40h1v1h-1zM214.92 253.82h1v1h-1zM214.92 257.25h1v1h-1zM214.92 260.68h1v1h-1zM214.92 264.11h1v1h-1zM214.92 267.54h1v1h-1zM214.92 272.61h1v1h-1zM214.92 276.04h1v1h-1zM214.92 279.47h1v1h-1zM214.92 282.90h1v1h-1zM214.92 286.33h1v1h-1zM214.92 289.76h1v1h-1zM214.92 293.19h1v1h-1zM214.92 296.62h1v1h-1zM218.34 193.88h1v1h-1zM218.34 197.31h1v1h-1zM218.34 200.74h1v1h-1zM218.34 204.17h1v1h-1zM218.34 207.60h1v1h-1zM218.34 211.03h1v1h-1zM218.34 214.46h1v1h-1zM218.34 217.89h1v1h-1zM218.34 240.10h1v1h-1zM218.34 243.53h1v1h-1zM218.34 246.97h1v1h-1zM218.34 250.40h1v1h-1zM218.34 253.82h1v1h-1zM218.34 257.25h1v1h-1zM218.34 260.68h1v1h-1zM218.34 264.11h1v1h-1zM218.34 267.54h1v1h-1zM218.34 272.61h1v1h-1zM218.34 276.04h1v1h-1zM218.34 279.47h1v1h-1zM218.34 282.90h1v1h-1zM218.34 286.33h1v1h-1zM218.34 293.19h1v1h-1zM218.34 296.62h1v1h-1zM221.76 193.88h1v1h-1zM221.76 197.31h1v1h-1zM221.76 200.74h1v1h-1zM221.76 204.17h1v1h-1zM221.76 207.60h1v1h-1zM221.76 211.03h1v1h-1zM221.76 214.46h1v1h-1zM221.76 217.89h1v1h-1zM221.76 229.81h1v1h-1zM221.76 240.10h1v1h-1zM221.76 243.53h1v1h-1zM221.76 246.97h1v1h-1zM221.76 250.40h1v1h-1zM221.76 253.82h1v1h-1zM221.76 257.25h1v1h-1zM221.76 260.68h1v1h-1zM221.76 264.11h1v1h-1zM221.76 267.54h1v1h-1zM221.76 272.61h1v1h-1zM221.76 276.04h1v1h-1zM221.76 279.47h1v1h-1zM221.76 282.90h1v1h-1zM221.76 286.33h1v1h-1zM221.76 293.19h1v1h-1zM221.76 296.62h1v1h-1zM225.18 193.88h1v1h-1zM225.18 197.31h1v1h-1zM225.18 200.74h1v1h-1zM225.18 204.17h1v1h-1zM225.18 207.60h1v1h-1zM225.18 211.03h1v1h-1zM225.18 214.46h1v1h-1zM225.18 217.89h1v1h-1zM225.18 240.10h1v1h-1zM225.18 243.53h1v1h-1zM225.18 246.97h1v1h-1zM225.18 250.40h1v1h-1zM225.18 253.82h1v1h-1zM225.18 257.25h1v1h-1zM225.18 260.68h1v1h-1zM225.18 264.11h1v1h-1zM225.18 267.54h1v1h-1zM225.18 276.04h1v1h-1zM225.18 279.47h1v1h-1zM225.18 282.90h1v1h-1zM225.18 286.33h1v1h-1zM225.18 293.19h1v1h-1zM225.18 296.62h1v1h-1zM228.60 193.88h1v1h-1zM228.60 197.31h1v1h-1zM228.60 200.74h1v1h-1zM228.60 204.17h1v1h-1zM228.60 207.60h1v1h-1zM228.60 211.03h1v1h-1zM228.60 214.46h1v1h-1zM228.60 217.89h1v1h-1zM228.60 240.10h1v1h-1zM228.60 243.53h1v1h-1zM228.60 246.97h1v1h-1zM228.60 250.40h1v1h-1zM228.60 253.82h1v1h-1zM228.60 257.25h1v1h-1zM228.60 260.68h1v1h-1zM228.60 264.11h1v1h-1zM228.60 267.54h1v1h-1zM228.60 272.61h1v1h-1zM228.60 282.90h1v1h-1zM228.60 286.33h1v1h-1zM228.60 293.19h1v1h-1zM228.60 296.62h1v1h-1zM232.02 200.74h1v1h-1zM232.02 204.17h1v1h-1zM232.02 207.60h1v1h-1zM232.02 211.03h1v1h-1zM232.02 217.89h1v1h-1zM232.02 240.10h1v1h-1zM232.02 243.53h1v1h-1zM232.02 246.97h1v1h-1zM232.02 250.40h1v1h-1zM232.02 253.82h1v1h-1zM232.02 257.25h1v1h-1zM232.02 260.68h1v1h-1zM232.02 264.11h1v1h-1zM232.02 267.54h1v1h-1zM232.02 272.61h1v1h-1zM232.02 282.90h1v1h-1zM232.02 286.33h1v1h-1zM232.02 293.19h1v1h-1zM232.02 296.62h1v1h-1zM235.44 207.60h1v1h-1zM235.44 211.03h1v1h-1zM235.44 217.89h1v1h-1zM235.44 240.10h1v1h-1zM235.44 243.53h1v1h-1zM235.44 246.97h1v1h-1zM235.44 250.40h1v1h-1zM235.44 253.82h1v1h-1zM235.44 257.25h1v1h-1zM235.44 260.68h1v1h-1zM235.44 264.11h1v1h-1zM235.44 267.54h1v1h-1zM235.44 286.33h1v1h-1zM235.44 293.19h1v1h-1zM235.44 296.62h1v1h-1zM238.86 240.10h1v1h-1zM238.86 243.53h1v1h-1zM238.86 246.97h1v1h-1zM238.86 250.40h1v1h-1zM238.86 253.82h1v1h-1zM238.86 257.25h1v1h-1zM238.86 260.68h1v1h-1zM238.86 264.11h1v1h-1zM238.86 267.54h1v1h-1zM238.86 282.90h1v1h-1zM238.86 286.33h1v1h-1zM238.86 293.19h1v1h-1zM238.86 296.62h1v1h-1zM242.28 190.45h1v1h-1zM242.28 193.88h1v1h-1zM242.28 197.31h1v1h-1zM242.28 200.74h1v1h-1zM242.28 204.17h1v1h-1zM242.28 207.60h1v1h-1zM242.28 211.03h1v1h-1zM242.28 214.46h1v1h-1zM242.28 217.89h1v1h-1zM242.28 229.81h1v1h-1zM242.28 233.25h1v1h-1zM242.28 236.68h1v1h-1zM242.28 246.97h1v1h-1zM242.28 250.40h1v1h-1zM242.28 253.82h1v1h-1zM242.28 257.25h1v1h-1zM242.28 260.68h1v1h-1zM242.28 264.11h1v1h-1zM242.28 272.61h1v1h-1zM242.28 276.04h1v1h-1zM242.28 279.47h1v1h-1zM242.28 282.90h1v1h-1zM242.28 286.33h1v1h-1zM242.28 289.76h1v1h-1zM242.28 293.19h1v1h-1zM242.28 296.62h1v1h-1zM245.70 193.88h1v1h-1zM245.70 197.31h1v1h-1zM245.70 200.74h1v1h-1zM245.70 204.17h1v1h-1zM245.70 207.60h1v1h-1zM245.70 211.03h1v1h-1zM245.70 214.46h1v1h-1zM245.70 217.89h1v1h-1zM245.70 246.97h1v1h-1zM245.70 250.40h1v1h-1zM245.70 253.82h1v1h-1zM245.70 257.25h1v1h-1zM245.70 260.68h1v1h-1zM245.70 264.11h1v1h-1zM245.70 272.61h1v1h-1zM245.70 276.04h1v1h-1zM245.70 279.47h1v1h-1zM245.70 282.90h1v1h-1zM245.70 286.33h1v1h-1zM245.70 289.76h1v1h-1zM245.70 293.19h1v1h-1zM245.70 296.62h1v1h-1zM249.12 193.88h1v1h-1zM249.12 197.31h1v1h-1zM249.12 200.74h1v1h-1zM249.12 204.17h1v1h-1zM249.12 207.60h1v1h-1zM249.12 211.03h1v1h-1zM249.12 214.46h1v1h-1zM249.12 217.89h1v1h-1zM249.12 229.81h1v1h-1zM249.12 233.25h1v1h-1zM249.12 236.68h1v1h-1zM249.12 253.82h1v1h-1zM249.12 257.25h1v1h-1zM249.12 260.68h1v1h-1zM249.12 264.11h1v1h-1zM249.12 276.04h1v1h-1zM249.12 279.47h1v1h-1zM249.12 282.90h1v1h-1zM249.12 286.33h1v1h-1zM249.12 289.76h1v1h-1zM249.12 293.19h1v1h-1zM249.12 296.62h1v1h-1zM252.54 197.31h1v1h-1zM252.54 200.74h1v1h-1zM252.54 204.17h1v1h-1zM252.54 207.60h1v1h-1zM252.54 211.03h1v1h-1zM252.54 229.81h1v1h-1zM252.54 257.25h1v1h-1zM252.54 260.68h1v1h-1zM252.54 264.11h1v1h-1zM252.54 272.61h1v1h-1zM252.54 276.04h1v1h-1zM252.54 279.47h1v1h-1zM252.54 282.90h1v1h-1zM252.54 286.33h1v1h-1zM252.54 289.76h1v1h-1zM252.54 293.19h1v1h-1zM252.54 296.62h1v1h-1zM255.96 193.88h1v1h-1zM255.96 197.31h1v1h-1zM255.96 200.74h1v1h-1zM255.96 204.17h1v1h-1zM255.96 207.60h1v1h-1zM255.96 211.03h1v1h-1zM255.96 229.81h1v1h-1zM255.96 233.25h1v1h-1zM255.96 236.68h1v1h-1zM255.96 257.25h1v1h-1zM255.96 260.68h1v1h-1zM255.96 264.11h1v1h-1zM255.96 272.61h1v1h-1zM255.96 276.04h1v1h-1zM255.96 279.47h1v1h-1zM255.96 282.90h1v1h-1zM255.96 286.33h1v1h-1zM255.96 289.76h1v1h-1zM255.96 293.19h1v1h-1zM255.96 296.62h1v1h-1zM259.38 193.88h1v1h-1zM259.38 197.31h1v1h-1zM259.38 200.74h1v1h-1zM259.38 204.17h1v1h-1zM259.38 207.60h1v1h-1zM259.38 211.03h1v1h-1zM259.38 229.81h1v1h-1zM259.38 257.25h1v1h-1zM259.38 260.68h1v1h-1zM259.38 264.11h1v1h-1zM259.38 272.61h1v1h-1zM259.38 276.04h1v1h-1zM259.38 279.47h1v1h-1zM259.38 282.90h1v1h-1zM259.38 286.33h1v1h-1zM259.38 289.76h1v1h-1zM259.38 293.19h1v1h-1zM259.38 296.62h1v1h-1zM262.80 193.88h1v1h-1zM262.80 197.31h1v1h-1zM262.80 200.74h1v1h-1zM262.80 204.17h1v1h-1zM262.80 207.60h1v1h-1zM262.80 211.03h1v1h-1zM262.80 229.81h1v1h-1zM262.80 233.25h1v1h-1zM262.80 236.68h1v1h-1zM262.80 257.25h1v1h-1zM262.80 260.68h1v1h-1zM262.80 264.11h1v1h-1zM262.80 272.61h1v1h-1zM262.80 276.04h1v1h-1zM262.80 279.47h1v1h-1zM262.80 282.90h1v1h-1zM262.80 286.33h1v1h-1zM262.80 289.76h1v1h-1zM262.80 293.19h1v1h-1zM262.80 296.62h1v1h-1zM266.22 224.75h1v1h-1zM266.22 229.81h1v1h-1zM266.22 250.40h1v1h-1zM266.22 257.25h1v1h-1zM266.22 272.61h1v1h-1zM266.22 276.04h1v1h-1zM266.22 279.47h1v1h-1zM266.22 282.90h1v1h-1zM266.22 286.33h1v1h-1zM266.22 293.19h1v1h-1zM266.22 296.62h1v1h-1zM269.64 272.61h1v1h-1zM269.64 276.04h1v1h-1zM269.64 279.47h1v1h-1zM269.64 282.90h1v1h-1zM269.64 286.33h1v1h-1zM269.64 289.76h1v1h-1zM269.64 293.19h1v1h-1zM269.64 296.62h1v1h-1zM273.06 229.81h1v1h-1zM273.06 272.61h1v1h-1zM273.06 276.04h1v1h-1zM273.06 279.47h1v1h-1zM273.06 282.90h1v1h-1zM273.06 286.33h1v1h-1zM273.06 289.76h1v1h-1zM273.06 293.19h1v1h-1zM273.06 296.62h1v1h-1zM278.23 200.74h1v1h-1zM278.23 204.17h1v1h-1zM278.23 207.60h1v1h-1zM278.23 211.03h1v1h-1zM278.23 221.32h1v1h-1zM278.23 240.10h1v1h-1zM278.23 243.53h1v1h-1zM278.23 246.97h1v1h-1zM278.23 250.40h1v1h-1zM278.23 253.82h1v1h-1zM278.23 257.25h1v1h-1zM278.23 260.68h1v1h-1zM278.23 264.11h1v1h-1zM278.23 267.54h1v1h-1zM278.23 286.33h1v1h-1zM278.23 293.19h1v1h-1zM278.23 296.62h1v1h-1zM281.65 200.74h1v1h-1zM281.65 204.17h1v1h-1zM281.65 207.60h1v1h-1zM281.65 211.03h1v1h-1zM281.65 214.46h1v1h-1zM281.65 217.89h1v1h-1zM281.65 221.32h1v1h-1zM281.65 233.25h1v1h-1zM281.65 236.68h1v1h-1zM281.65 240.10h1v1h-1zM281.65 243.53h1v1h-1zM281.65 246.97h1v1h-1zM281.65 250.40h1v1h-1zM281.65 253.82h1v1h-1zM281.65 257.25h1v1h-1zM281.65 260.68h1v1h-1zM281.65 264.11h1v1h-1zM281.65 267.54h1v1h-1zM281.65 286.33h1v1h-1zM281.65 293.19h1v1h-1zM281.65 296.62h1v1h-1zM285.07 200.74h1v1h-1zM285.07 204.17h1v1h-1zM285.07 207.60h1v1h-1zM285.07 211.03h1v1h-1zM285.07 221.32h1v1h-1zM285.07 240.10h1v1h-1zM285.07 243.53h1v1h-1zM285.07 246.97h1v1h-1zM285.07 250.40h1v1h-1zM285.07 253.82h1v1h-1zM285.07 257.25h1v1h-1zM285.07 260.68h1v1h-1zM285.07 264.11h1v1h-1zM285.07 267.54h1v1h-1zM285.07 286.33h1v1h-1zM285.07 293.19h1v1h-1zM285.07 296.62h1v1h-1zM288.49 187.02h1v1h-1zM288.49 200.74h1v1h-1zM288.49 204.17h1v1h-1zM288.49 221.32h1v1h-1zM288.49 233.25h1v1h-1zM288.49 236.68h1v1h-1zM288.49 240.10h1v1h-1zM288.49 243.53h1v1h-1zM288.49 246.97h1v1h-1zM288.49 250.40h1v1h-1zM288.49 253.82h1v1h-1zM288.49 257.25h1v1h-1zM288.49 260.68h1v1h-1zM288.49 264.11h1v1h-1zM288.49 267.54h1v1h-1zM288.49 276.04h1v1h-1zM288.49 293.19h1v1h-1zM288.49 296.62h1v1h-1zM291.91 187.02h1v1h-1zM291.91 190.45h1v1h-1zM291.91 221.32h1v1h-1zM291.91 240.10h1v1h-1zM291.91 243.53h1v1h-1zM291.91 246.97h1v1h-1zM291.91 250.40h1v1h-1zM291.91 253.82h1v1h-1zM291.91 257.25h1v1h-1zM291.91 260.68h1v1h-1zM291.91 264.11h1v1h-1zM291.91 267.54h1v1h-1zM291.91 293.19h1v1h-1zM291.91 296.62h1v1h-1zM295.33 197.31h1v1h-1zM295.33 200.74h1v1h-1zM295.33 204.17h1v1h-1zM295.33 207.60h1v1h-1zM295.33 211.03h1v1h-1zM295.33 214.46h1v1h-1zM295.33 217.89h1v1h-1zM295.33 221.32h1v1h-1zM295.33 229.81h1v1h-1zM295.33 233.25h1v1h-1zM295.33 236.68h1v1h-1zM295.33 240.10h1v1h-1zM295.33 243.53h1v1h-1zM295.33 246.97h1v1h-1zM295.33 250.40h1v1h-1zM295.33 253.82h1v1h-1zM295.33 257.25h1v1h-1zM295.33 260.68h1v1h-1zM295.33 264.11h1v1h-1zM295.33 267.54h1v1h-1zM295.33 272.61h1v1h-1zM295.33 289.76h1v1h-1zM295.33 293.19h1v1h-1zM295.33 296.62h1v1h-1zM298.75 197.31h1v1h-1zM298.75 200.74h1v1h-1zM298.75 204.17h1v1h-1zM298.75 207.60h1v1h-1zM298.75 211.03h1v1h-1zM298.75 214.46h1v1h-1zM298.75 221.32h1v1h-1zM298.75 229.81h1v1h-1zM298.75 233.25h1v1h-1zM298.75 236.68h1v1h-1zM298.75 240.10h1v1h-1zM298.75 243.53h1v1h-1zM298.75 246.97h1v1h-1zM298.75 250.40h1v1h-1zM298.75 253.82h1v1h-1zM298.75 257.25h1v1h-1zM298.75 260.68h1v1h-1zM298.75 264.11h1v1h-1zM298.75 267.54h1v1h-1zM298.75 272.61h1v1h-1zM298.75 289.76h1v1h-1zM298.75 293.19h1v1h-1zM298.75 296.62h1v1h-1zM302.17 187.02h1v1h-1zM302.17 190.45h1v1h-1zM302.17 221.32h1v1h-1zM302.17 229.81h1v1h-1zM302.17 233.25h1v1h-1zM302.17 236.68h1v1h-1zM302.17 240.10h1v1h-1zM302.17 243.53h1v1h-1zM302.17 246.97h1v1h-1zM302.17 250.40h1v1h-1zM302.17 253.82h1v1h-1zM302.17 257.25h1v1h-1zM302.17 260.68h1v1h-1zM302.17 264.11h1v1h-1zM302.17 267.54h1v1h-1zM302.17 272.61h1v1h-1zM302.17 276.04h1v1h-1zM302.17 279.47h1v1h-1zM302.17 282.90h1v1h-1zM302.17 286.33h1v1h-1zM302.17 293.19h1v1h-1zM302.17 296.62h1v1h-1zM305.59 187.02h1v1h-1zM305.59 190.45h1v1h-1zM305.59 221.32h1v1h-1zM305.59 229.81h1v1h-1zM305.59 233.25h1v1h-1zM305.59 236.68h1v1h-1zM305.59 240.10h1v1h-1zM305.59 243.53h1v1h-1zM305.59 246.97h1v1h-1zM305.59 250.40h1v1h-1zM305.59 253.82h1v1h-1zM305.59 257.25h1v1h-1zM305.59 260.68h1v1h-1zM305.59 264.11h1v1h-1zM305.59 267.54h1v1h-1zM305.59 272.61h1v1h-1zM305.59 276.04h1v1h-1zM305.59 279.47h1v1h-1zM305.59 282.90h1v1h-1zM305.59 286.33h1v1h-1zM305.59 296.62h1v1h-1zM309.01 187.02h1v1h-1zM309.01 200.74h1v1h-1zM309.01 204.17h1v1h-1zM309.01 221.32h1v1h-1zM309.01 229.81h1v1h-1zM309.01 233.25h1v1h-1zM309.01 236.68h1v1h-1zM309.01 240.10h1v1h-1zM309.01 243.53h1v1h-1zM309.01 246.97h1v1h-1zM309.01 250.40h1v1h-1zM309.01 253.82h1v1h-1zM309.01 257.25h1v1h-1zM309.01 260.68h1v1h-1zM309.01 264.11h1v1h-1zM309.01 267.54h1v1h-1zM309.01 272.61h1v1h-1zM309.01 276.04h1v1h-1zM309.01 279.47h1v1h-1zM309.01 286.33h1v1h-1zM309.01 289.76h1v1h-1zM312.43 193.88h1v1h-1zM312.43 197.31h1v1h-1zM312.43 200.74h1v1h-1zM312.43 221.32h1v1h-1zM312.43 224.75h1v1h-1zM312.43 229.81h1v1h-1zM312.43 233.25h1v1h-1zM312.43 236.68h1v1h-1zM312.43 240.10h1v1h-1zM312.43 243.53h1v1h-1zM312.43 246.97h1v1h-1zM312.43 250.40h1v1h-1zM312.43 253.82h1v1h-1zM312.43 257.25h1v1h-1zM312.43 260.68h1v1h-1zM312.43 264.11h1v1h-1zM312.43 267.54h1v1h-1zM312.43 272.61h1v1h-1zM312.43 276.04h1v1h-1zM312.43 279.47h1v1h-1zM312.43 286.33h1v1h-1zM312.43 293.19h1v1h-1zM315.85 200.74h1v1h-1zM315.85 204.17h1v1h-1zM315.85 211.03h1v1h-1zM315.85 221.32h1v1h-1zM315.85 224.75h1v1h-1zM315.85 229.81h1v1h-1zM315.85 233.25h1v1h-1zM315.85 236.68h1v1h-1zM315.85 240.10h1v1h-1zM315.85 243.53h1v1h-1zM315.85 246.97h1v1h-1zM315.85 250.40h1v1h-1zM315.85 253.82h1v1h-1zM315.85 257.25h1v1h-1zM315.85 260.68h1v1h-1zM315.85 264.11h1v1h-1zM315.85 267.54h1v1h-1zM315.85 272.61h1v1h-1zM315.85 276.04h1v1h-1zM315.85 279.47h1v1h-1zM315.85 286.33h1v1h-1zM315.85 289.76h1v1h-1zM319.27 197.31h1v1h-1zM319.27 200.74h1v1h-1zM319.27 204.17h1v1h-1zM319.27 221.32h1v1h-1zM319.27 224.75h1v1h-1zM319.27 229.81h1v1h-1zM319.27 233.25h1v1h-1zM319.27 236.68h1v1h-1zM319.27 253.82h1v1h-1zM319.27 257.25h1v1h-1zM319.27 260.68h1v1h-1zM319.27 264.11h1v1h-1zM319.27 267.54h1v1h-1zM319.27 272.61h1v1h-1zM319.27 279.47h1v1h-1zM319.27 286.33h1v1h-1zM319.27 289.76h1v1h-1zM322.69 197.31h1v1h-1zM322.69 200.74h1v1h-1zM322.69 204.17h1v1h-1zM322.69 221.32h1v1h-1zM322.69 229.81h1v1h-1zM322.69 233.25h1v1h-1zM322.69 236.68h1v1h-1zM322.69 240.10h1v1h-1zM322.69 243.53h1v1h-1zM322.69 246.97h1v1h-1zM322.69 250.40h1v1h-1zM322.69 253.82h1v1h-1zM322.69 257.25h1v1h-1zM322.69 260.68h1v1h-1zM322.69 264.11h1v1h-1zM322.69 267.54h1v1h-1zM322.69 289.76h1v1h-1zM322.69 293.19h1v1h-1zM322.69 296.62h1v1h-1zM326.11 197.31h1v1h-1zM326.11 200.74h1v1h-1zM326.11 204.17h1v1h-1zM326.11 221.32h1v1h-1zM326.11 229.81h1v1h-1zM326.11 233.25h1v1h-1zM326.11 236.68h1v1h-1zM326.11 246.97h1v1h-1zM326.11 250.40h1v1h-1zM326.11 253.82h1v1h-1zM326.11 257.25h1v1h-1zM326.11 260.68h1v1h-1zM326.11 264.11h1v1h-1zM326.11 267.54h1v1h-1zM326.11 272.61h1v1h-1zM326.11 286.33h1v1h-1zM326.11 289.76h1v1h-1zM329.53 200.74h1v1h-1zM329.53 204.17h1v1h-1zM329.53 214.46h1v1h-1zM329.53 221.32h1v1h-1zM329.53 229.81h1v1h-1zM329.53 233.25h1v1h-1zM329.53 236.68h1v1h-1zM329.53 246.97h1v1h-1zM329.53 250.40h1v1h-1zM329.53 253.82h1v1h-1zM329.53 257.25h1v1h-1zM329.53 260.68h1v1h-1zM329.53 264.11h1v1h-1zM329.53 267.54h1v1h-1zM329.53 272.61h1v1h-1zM329.53 286.33h1v1h-1zM329.53 289.76h1v1h-1zM332.95 200.74h1v1h-1zM332.95 204.17h1v1h-1zM332.95 221.32h1v1h-1zM332.95 229.81h1v1h-1zM332.95 233.25h1v1h-1zM332.95 236.68h1v1h-1zM332.95 246.97h1v1h-1zM332.95 250.40h1v1h-1zM332.95 253.82h1v1h-1zM332.95 257.25h1v1h-1zM332.95 260.68h1v1h-1zM332.95 264.11h1v1h-1zM332.95 267.54h1v1h-1zM332.95 272.61h1v1h-1zM332.95 289.76h1v1h-1zM336.37 200.74h1v1h-1zM336.37 204.17h1v1h-1zM336.37 221.32h1v1h-1zM336.37 229.81h1v1h-1zM336.37 233.25h1v1h-1zM336.37 236.68h1v1h-1zM336.37 246.97h1v1h-1zM336.37 250.40h1v1h-1zM336.37 253.82h1v1h-1zM336.37 257.25h1v1h-1zM336.37 260.68h1v1h-1zM336.37 264.11h1v1h-1zM336.37 267.54h1v1h-1zM336.37 272.61h1v1h-1zM336.37 276.04h1v1h-1zM336.37 279.47h1v1h-1zM336.37 286.33h1v1h-1zM336.37 289.76h1v1h-1zM339.79 200.74h1v1h-1zM339.79 204.17h1v1h-1zM339.79 221.32h1v1h-1zM339.79 229.81h1v1h-1zM339.79 233.25h1v1h-1zM339.79 236.68h1v1h-1zM339.79 246.97h1v1h-1zM339.79 250.40h1v1h-1zM339.79 253.82h1v1h-1zM339.79 257.25h1v1h-1zM339.79 260.68h1v1h-1zM339.79 264.11h1v1h-1zM339.79 267.54h1v1h-1zM339.79 272.61h1v1h-1zM339.79 276.04h1v1h-1zM339.79 279.47h1v1h-1zM339.79 286.33h1v1h-1zM339.79 289.76h1v1h-1zM343.21 200.74h1v1h-1zM343.21 204.17h1v1h-1zM343.21 221.32h1v1h-1zM343.21 229.81h1v1h-1zM343.21 233.25h1v1h-1zM343.21 236.68h1v1h-1zM343.21 246.97h1v1h-1zM343.21 250.40h1v1h-1zM343.21 253.82h1v1h-1zM343.21 257.25h1v1h-1zM343.21 260.68h1v1h-1zM343.21 264.11h1v1h-1zM343.21 267.54h1v1h-1zM343.21 272.61h1v1h-1zM343.21 276.04h1v1h-1zM343.21 279.47h1v1h-1zM343.21 286.33h1v1h-1zM343.21 289.76h1v1h-1zM348.38 214.46h1v1h-1zM348.38 217.89h1v1h-1zM348.38 224.75h1v1h-1zM348.38 233.25h1v1h-1zM348.38 236.68h1v1h-1zM348.38 272.61h1v1h-1zM348.38 276.04h1v1h-1zM348.38 279.47h1v1h-1zM348.38 286.33h1v1h-1zM348.38 289.76h1v1h-1zM348.38 293.19h1v1h-1zM348.38 296.62h1v1h-1zM351.80 217.89h1v1h-1zM351.80 224.75h1v1h-1zM351.80 233.25h1v1h-1zM351.80 236.68h1v1h-1zM351.80 272.61h1v1h-1zM351.80 276.04h1v1h-1zM351.80 279.47h1v1h-1zM351.80 282.90h1v1h-1zM351.80 286.33h1v1h-1zM351.80 293.19h1v1h-1zM351.80 296.62h1v1h-1zM355.22 224.75h1v1h-1zM355.22 233.25h1v1h-1zM355.22 236.68h1v1h-1zM355.22 272.61h1v1h-1zM355.22 276.04h1v1h-1zM355.22 279.47h1v1h-1zM355.22 282.90h1v1h-1zM355.22 286.33h1v1h-1zM355.22 293.19h1v1h-1zM355.22 296.62h1v1h-1zM358.64 243.53h1v1h-1zM358.64 250.40h1v1h-1zM358.64 293.19h1v1h-1zM358.64 296.62h1v1h-1zM362.06 187.02h1v1h-1zM362.06 193.88h1v1h-1zM362.06 197.31h1v1h-1zM362.06 200.74h1v1h-1zM362.06 204.17h1v1h-1zM362.06 211.03h1v1h-1zM362.06 240.10h1v1h-1zM362.06 243.53h1v1h-1zM362.06 246.97h1v1h-1zM362.06 250.40h1v1h-1zM362.06 260.68h1v1h-1zM362.06 293.19h1v1h-1zM362.06 296.62h1v1h-1zM365.48 190.45h1v1h-1zM365.48 200.74h1v1h-1zM365.48 204.17h1v1h-1zM365.48 221.32h1v1h-1zM365.48 240.10h1v1h-1zM365.48 243.53h1v1h-1zM365.48 246.97h1v1h-1zM365.48 250.40h1v1h-1zM365.48 253.82h1v1h-1zM365.48 257.25h1v1h-1zM365.48 260.68h1v1h-1zM365.48 264.11h1v1h-1zM365.48 267.54h1v1h-1zM365.48 293.19h1v1h-1zM365.48 296.62h1v1h-1zM368.90 187.02h1v1h-1zM368.90 190.45h1v1h-1zM368.90 221.32h1v1h-1zM368.90 240.10h1v1h-1zM368.90 243.53h1v1h-1zM368.90 246.97h1v1h-1zM368.90 250.40h1v1h-1zM368.90 253.82h1v1h-1zM368.90 257.25h1v1h-1zM368.90 260.68h1v1h-1zM368.90 264.11h1v1h-1zM368.90 267.54h1v1h-1zM368.90 272.61h1v1h-1zM368.90 276.04h1v1h-1zM368.90 279.47h1v1h-1zM368.90 282.90h1v1h-1zM368.90 296.62h1v1h-1zM372.32 187.02h1v1h-1zM372.32 190.45h1v1h-1zM372.32 193.88h1v1h-1zM372.32 204.17h1v1h-1zM372.32 207.60h1v1h-1zM372.32 211.03h1v1h-1zM372.32 214.46h1v1h-1zM372.32 217.89h1v1h-1zM372.32 221.32h1v1h-1zM372.32 240.10h1v1h-1zM372.32 243.53h1v1h-1zM372.32 246.97h1v1h-1zM372.32 250.40h1v1h-1zM372.32 260.68h1v1h-1zM372.32 264.11h1v1h-1zM372.32 267.54h1v1h-1zM372.32 272.61h1v1h-1zM372.32 276.04h1v1h-1zM372.32 279.47h1v1h-1zM372.32 282.90h1v1h-1zM372.32 296.62h1v1h-1zM375.74 187.02h1v1h-1zM375.74 190.45h1v1h-1zM375.74 214.46h1v1h-1zM375.74 240.10h1v1h-1zM375.74 243.53h1v1h-1zM375.74 246.97h1v1h-1zM375.74 250.40h1v1h-1zM375.74 260.68h1v1h-1zM375.74 267.54h1v1h-1zM375.74 289.76h1v1h-1zM375.74 296.62h1v1h-1zM379.16 240.10h1v1h-1zM379.16 243.53h1v1h-1zM379.16 246.97h1v1h-1zM379.16 250.40h1v1h-1zM379.16 260.68h1v1h-1zM379.16 276.04h1v1h-1zM379.16 282.90h1v1h-1zM379.16 286.33h1v1h-1zM382.58 187.02h1v1h-1zM382.58 190.45h1v1h-1zM382.58 193.88h1v1h-1zM382.58 197.31h1v1h-1zM382.58 207.60h1v1h-1zM382.58 211.03h1v1h-1zM382.58 214.46h1v1h-1zM382.58 217.89h1v1h-1zM382.58 233.25h1v1h-1zM382.58 236.68h1v1h-1zM382.58 240.10h1v1h-1zM382.58 243.53h1v1h-1zM382.58 246.97h1v1h-1zM382.58 250.40h1v1h-1zM382.58 253.82h1v1h-1zM382.58 276.04h1v1h-1zM382.58 279.47h1v1h-1zM382.58 282.90h1v1h-1zM382.58 289.76h1v1h-1zM386.00 187.02h1v1h-1zM386.00 190.45h1v1h-1zM386.00 193.88h1v1h-1zM386.00 197.31h1v1h-1zM386.00 204.17h1v1h-1zM386.00 207.60h1v1h-1zM386.00 211.03h1v1h-1zM386.00 214.46h1v1h-1zM386.00 217.89h1v1h-1zM386.00 240.10h1v1h-1zM386.00 243.53h1v1h-1zM386.00 246.97h1v1h-1zM386.00 250.40h1v1h-1zM386.00 272.61h1v1h-1zM386.00 289.76h1v1h-1zM389.42 187.02h1v1h-1zM389.42 193.88h1v1h-1zM389.42 200.74h1v1h-1zM389.42 204.17h1v1h-1zM389.42 207.60h1v1h-1zM389.42 211.03h1v1h-1zM389.42 214.46h1v1h-1zM389.42 217.89h1v1h-1zM389.42 224.75h1v1h-1zM389.42 240.10h1v1h-1zM389.42 243.53h1v1h-1zM389.42 246.97h1v1h-1zM389.42 250.40h1v1h-1zM392.84 187.02h1v1h-1zM392.84 190.45h1v1h-1zM392.84 193.88h1v1h-1zM392.84 197.31h1v1h-1zM392.84 207.60h1v1h-1zM392.84 211.03h1v1h-1zM392.84 214.46h1v1h-1zM392.84 217.89h1v1h-1zM392.84 221.32h1v1h-1zM392.84 224.75h1v1h-1zM392.84 233.25h1v1h-1zM392.84 240.10h1v1h-1zM392.84 243.53h1v1h-1zM392.84 246.97h1v1h-1zM392.84 250.40h1v1h-1zM392.84 272.61h1v1h-1zM392.84 276.04h1v1h-1zM392.84 279.47h1v1h-1zM392.84 282.90h1v1h-1zM392.84 286.33h1v1h-1zM392.84 289.76h1v1h-1zM392.84 293.19h1v1h-1zM392.84 296.62h1v1h-1zM396.26 187.02h1v1h-1zM396.26 190.45h1v1h-1zM396.26 193.88h1v1h-1zM396.26 197.31h1v1h-1zM396.26 207.60h1v1h-1zM396.26 211.03h1v1h-1zM396.26 214.46h1v1h-1zM396.26 217.89h1v1h-1zM396.26 233.25h1v1h-1zM396.26 236.68h1v1h-1zM396.26 240.10h1v1h-1zM396.26 243.53h1v1h-1zM396.26 246.97h1v1h-1zM396.26 250.40h1v1h-1zM396.26 272.61h1v1h-1zM396.26 276.04h1v1h-1zM396.26 279.47h1v1h-1zM396.26 282.90h1v1h-1zM396.26 286.33h1v1h-1zM396.26 293.19h1v1h-1zM399.68 187.02h1v1h-1zM399.68 190.45h1v1h-1zM399.68 193.88h1v1h-1zM399.68 197.31h1v1h-1zM399.68 207.60h1v1h-1zM399.68 211.03h1v1h-1zM399.68 214.46h1v1h-1zM399.68 217.89h1v1h-1zM399.68 233.25h1v1h-1zM399.68 236.68h1v1h-1zM399.68 240.10h1v1h-1zM399.68 243.53h1v1h-1zM399.68 246.97h1v1h-1zM399.68 250.40h1v1h-1zM403.10 187.02h1v1h-1zM403.10 190.45h1v1h-1zM403.10 193.88h1v1h-1zM403.10 197.31h1v1h-1zM403.10 211.03h1v1h-1zM403.10 214.46h1v1h-1zM403.10 217.89h1v1h-1zM403.10 233.25h1v1h-1zM403.10 236.68h1v1h-1zM403.10 240.10h1v1h-1zM403.10 243.53h1v1h-1zM403.10 272.61h1v1h-1zM403.10 276.04h1v1h-1zM403.10 279.47h1v1h-1zM403.10 282.90h1v1h-1zM403.10 286.33h1v1h-1zM403.10 293.19h1v1h-1zM403.10 296.62h1v1h-1zM406.52 187.02h1v1h-1zM406.52 190.45h1v1h-1zM406.52 193.88h1v1h-1zM406.52 197.31h1v1h-1zM406.52 233.25h1v1h-1zM406.52 236.68h1v1h-1zM409.94 187.02h1v1h-1zM409.94 190.45h1v1h-1zM409.94 193.88h1v1h-1zM409.94 197.31h1v1h-1zM409.94 221.32h1v1h-1zM409.94 240.10h1v1h-1zM409.94 243.53h1v1h-1zM409.94 246.97h1v1h-1zM409.94 272.61h1v1h-1zM409.94 276.04h1v1h-1zM409.94 279.47h1v1h-1zM409.94 286.33h1v1h-1zM413.36 187.02h1v1h-1zM413.36 190.45h1v1h-1zM413.36 193.88h1v1h-1zM413.36 197.31h1v1h-1zM413.36 221.32h1v1h-1zM413.36 229.81h1v1h-1zM413.36 233.25h1v1h-1zM413.36 236.68h1v1h-1zM413.36 240.10h1v1h-1zM413.36 243.53h1v1h-1zM413.36 246.97h1v1h-1zM413.36 250.40h1v1h-1zM413.36 260.68h1v1h-1zM413.36 264.11h1v1h-1zM413.36 267.54h1v1h-1zM413.36 272.61h1v1h-1zM413.36 276.04h1v1h-1zM413.36 279.47h1v1h-1zM413.36 282.90h1v1h-1zM413.36 286.33h1v1h-1zM413.36 293.19h1v1h-1zM416.78 187.02h1v1h-1zM416.78 190.45h1v1h-1zM416.78 193.88h1v1h-1zM416.78 197.31h1v1h-1zM416.78 214.46h1v1h-1zM416.78 221.32h1v1h-1zM416.78 229.81h1v1h-1zM416.78 233.25h1v1h-1zM416.78 236.68h1v1h-1zM416.78 240.10h1v1h-1zM416.78 243.53h1v1h-1zM416.78 246.97h1v1h-1zM416.78 250.40h1v1h-1zM416.78 253.82h1v1h-1zM416.78 257.25h1v1h-1zM416.78 260.68h1v1h-1zM416.78 264.11h1v1h-1zM416.78 267.54h1v1h-1zM416.78 272.61h1v1h-1zM416.78 276.04h1v1h-1zM416.78 279.47h1v1h-1zM416.78 282.90h1v1h-1zM416.78 286.33h1v1h-1zM416.78 293.19h1v1h-1zM420.20 187.02h1v1h-1zM420.20 190.45h1v1h-1zM420.20 193.88h1v1h-1zM420.20 197.31h1v1h-1zM420.20 221.32h1v1h-1zM420.20 229.81h1v1h-1zM420.20 233.25h1v1h-1zM420.20 236.68h1v1h-1zM420.20 240.10h1v1h-1zM420.20 243.53h1v1h-1zM420.20 246.97h1v1h-1zM420.20 250.40h1v1h-1zM420.20 253.82h1v1h-1zM420.20 257.25h1v1h-1zM420.20 260.68h1v1h-1zM420.20 264.11h1v1h-1zM420.20 267.54h1v1h-1zM420.20 272.61h1v1h-1zM420.20 276.04h1v1h-1zM420.20 279.47h1v1h-1zM420.20 282.90h1v1h-1zM420.20 286.33h1v1h-1zM423.62 187.02h1v1h-1zM423.62 193.88h1v1h-1zM423.62 197.31h1v1h-1zM423.62 221.32h1v1h-1zM423.62 224.75h1v1h-1zM423.62 229.81h1v1h-1zM423.62 233.25h1v1h-1zM423.62 236.68h1v1h-1zM423.62 240.10h1v1h-1zM423.62 243.53h1v1h-1zM423.62 246.97h1v1h-1zM423.62 250.40h1v1h-1zM423.62 260.68h1v1h-1zM423.62 264.11h1v1h-1zM423.62 267.54h1v1h-1zM423.62 272.61h1v1h-1zM423.62 276.04h1v1h-1zM423.62 279.47h1v1h-1zM423.62 286.33h1v1h-1zM427.04 193.88h1v1h-1zM427.04 233.25h1v1h-1zM427.04 272.61h1v1h-1zM427.04 286.33h1v1h-1zM427.04 296.62h1v1h-1zM430.46 224.75h1v1h-1zM430.46 229.81h1v1h-1zM430.46 233.25h1v1h-1zM430.46 236.68h1v1h-1zM430.46 253.82h1v1h-1zM430.46 264.11h1v1h-1zM430.46 272.61h1v1h-1zM430.46 276.04h1v1h-1zM430.46 279.47h1v1h-1zM430.46 286.33h1v1h-1zM430.46 289.76h1v1h-1zM433.88 193.88h1v1h-1zM433.88 221.32h1v1h-1zM433.88 224.75h1v1h-1zM433.88 229.81h1v1h-1zM433.88 233.25h1v1h-1zM433.88 236.68h1v1h-1zM433.88 272.61h1v1h-1zM433.88 276.04h1v1h-1zM433.88 279.47h1v1h-1zM433.88 286.33h1v1h-1zM437.30 193.88h1v1h-1zM437.30 197.31h1v1h-1zM437.30 221.32h1v1h-1zM437.30 224.75h1v1h-1zM437.30 229.81h1v1h-1zM437.30 233.25h1v1h-1zM437.30 236.68h1v1h-1zM437.30 264.11h1v1h-1zM437.30 272.61h1v1h-1zM437.30 276.04h1v1h-1zM437.30 279.47h1v1h-1zM437.30 286.33h1v1h-1zM440.72 229.81h1v1h-1zM440.72 233.25h1v1h-1zM440.72 236.68h1v1h-1zM440.72 286.33h1v1h-1zM440.72 289.76h1v1h-1zM444.14 229.81h1v1h-1zM444.14 233.25h1v1h-1zM444.14 236.68h1v1h-1zM444.14 272.61h1v1h-1zM444.14 286.33h1v1h-1zM444.14 293.19h1v1h-1zM444.14 296.62h1v1h-1zM447.56 229.81h1v1h-1zM447.56 233.25h1v1h-1zM447.56 236.68h1v1h-1zM447.56 264.11h1v1h-1zM447.56 279.47h1v1h-1zM447.56 286.33h1v1h-1zM447.56 293.19h1v1h-1zM447.56 296.62h1v1h-1zM450.98 193.88h1v1h-1zM450.98 211.03h1v1h-1zM450.98 229.81h1v1h-1zM450.98 233.25h1v1h-1zM450.98 236.68h1v1h-1zM450.98 272.61h1v1h-1zM450.98 276.04h1v1h-1zM450.98 279.47h1v1h-1zM450.98 282.90h1v1h-1zM450.98 286.33h1v1h-1zM450.98 293.19h1v1h-1zM450.98 296.62h1v1h-1zM454.40 229.81h1v1h-1zM454.40 233.25h1v1h-1zM454.40 236.68h1v1h-1zM454.40 276.04h1v1h-1zM454.40 286.33h1v1h-1zM457.82 193.88h1v1h-1zM457.82 197.31h1v1h-1zM457.82 224.75h1v1h-1zM457.82 229.81h1v1h-1zM457.82 233.25h1v1h-1zM457.82 236.68h1v1h-1zM457.82 286.33h1v1h-1zM461.24 193.88h1v1h-1zM461.24 229.81h1v1h-1zM461.24 233.25h1v1h-1zM461.24 236.68h1v1h-1zM461.24 272.61h1v1h-1zM461.24 276.04h1v1h-1zM461.24 279.47h1v1h-1zM461.24 286.33h1v1h-1z"/>
<rect x="27.20" y="181.8" width="3.42" height="3.0" fill="#2fa043" stroke="#fff" stroke-opacity="0.5" stroke-width="0.3"/>
<rect x="30.62" y="181.8" width="3.42" height="3.0" fill="#2fa043" stroke="#fff" stroke-opacity="0.5" stroke-width="0.3"/>
<rect x="34.04" y="181.8" width="3.42" height="3.0" fill="#2fa043" stroke="#fff" stroke-opacity="0.5" stroke-width="0.3"/>
<rect x="37.46" y="181.8" width="3.42" height="3.0" fill="#ee8a2e" stroke="#fff" stroke-opacity="0.5" stroke-width="0.3"/>
<rect x="40.88" y="181.8" width="3.42" height="3.0" fill="#2fa043" stroke="#fff" stroke-opacity="0.5" stroke-width="0.3"/>
<rect x="44.30" y="181.8" width="3.42" height="3.0" fill="#6f9fdc" stroke="#fff" stroke-opacity="0.5" stroke-width="0.3"/>
<rect x="47.72" y="181.8" width="3.42" height="3.0" fill="#6f9fdc" stroke="#fff" stroke-opacity="0.5" stroke-width="0.3"/>
<rect x="51.14" y="181.8" width="3.42" height="3.0" fill="#6f9fdc" stroke="#fff" stroke-opacity="0.5" stroke-width="0.3"/>
<rect x="54.56" y="181.8" width="3.42" height="3.0" fill="#6f9fdc" stroke="#fff" stroke-opacity="0.5" stroke-width="0.3"/>
<rect x="57.98" y="181.8" width="3.42" height="3.0" fill="#2fa043" stroke="#fff" stroke-opacity="0.5" stroke-width="0.3"/>
<rect x="61.40" y="181.8" width="3.42" height="3.0" fill="#2fa043" stroke="#fff" stroke-opacity="0.5" stroke-width="0.3"/>
<rect x="64.82" y="181.8" width="3.42" height="3.0" fill="#6f9fdc" stroke="#fff" stroke-opacity="0.5" stroke-width="0.3"/>
<rect x="68.24" y="181.8" width="3.42" height="3.0" fill="#6f9fdc" stroke="#fff" stroke-opacity="0.5" stroke-width="0.3"/>
<rect x="71.66" y="181.8" width="3.42" height="3.0" fill="#d4202a" stroke="#fff" stroke-opacity="0.5" stroke-width="0.3"/>
<rect x="75.08" y="181.8" width="3.42" height="3.0" fill="#2fa043" stroke="#fff" stroke-opacity="0.5" stroke-width="0.3"/>
<rect x="78.50" y="181.8" width="3.42" height="3.0" fill="#2fa043" stroke="#fff" stroke-opacity="0.5" stroke-width="0.3"/>
<rect x="81.92" y="181.8" width="3.42" height="3.0" fill="#ee8a2e" stroke="#fff" stroke-opacity="0.5" stroke-width="0.3"/>
<rect x="85.34" y="181.8" width="3.42" height="3.0" fill="#2fa043" stroke="#fff" stroke-opacity="0.5" stroke-width="0.3"/>
<rect x="88.76" y="181.8" width="3.42" height="3.0" fill="#ee8a2e" stroke="#fff" stroke-opacity="0.5" stroke-width="0.3"/>
<rect x="92.18" y="181.8" width="3.42" height="3.0" fill="#ee8a2e" stroke="#fff" stroke-opacity="0.5" stroke-width="0.3"/>
<rect x="95.60" y="181.8" width="3.42" height="3.0" fill="#ee8a2e" stroke="#fff" stroke-opacity="0.5" stroke-width="0.3"/>
<rect x="100.77" y="181.8" width="3.42" height="3.0" fill="#2fa043" stroke="#fff" stroke-opacity="0.5" stroke-width="0.3"/>
<rect x="104.19" y="181.8" width="3.42" height="3.0" fill="#6f9fdc" stroke="#fff" stroke-opacity="0.5" stroke-width="0.3"/>
<rect x="107.61" y="181.8" width="3.42" height="3.0" fill="#2fa043" stroke="#fff" stroke-opacity="0.5" stroke-width="0.3"/>
<rect x="111.03" y="181.8" width="3.42" height="3.0" fill="#ee8a2e" stroke="#fff" stroke-opacity="0.5" stroke-width="0.3"/>
<rect x="114.45" y="181.8" width="3.42" height="3.0" fill="#6f9fdc" stroke="#fff" stroke-opacity="0.5" stroke-width="0.3"/>
<rect x="117.87" y="181.8" width="3.42" height="3.0" fill="#ee8a2e" stroke="#fff" stroke-opacity="0.5" stroke-width="0.3"/>
<rect x="121.29" y="181.8" width="3.42" height="3.0" fill="#d4202a" stroke="#fff" stroke-opacity="0.5" stroke-width="0.3"/>
<rect x="124.71" y="181.8" width="3.42" height="3.0" fill="#ee8a2e" stroke="#fff" stroke-opacity="0.5" stroke-width="0.3"/>
<rect x="128.13" y="181.8" width="3.42" height="3.0" fill="#6f9fdc" stroke="#fff" stroke-opacity="0.5" stroke-width="0.3"/>
<rect x="131.55" y="181.8" width="3.42" height="3.0" fill="#6f9fdc" stroke="#fff" stroke-opacity="0.5" stroke-width="0.3"/>
<rect x="134.97" y="181.8" width="3.42" height="3.0" fill="#6f9fdc" stroke="#fff" stroke-opacity="0.5" stroke-width="0.3"/>
<rect x="138.39" y="181.8" width="3.42" height="3.0" fill="#2fa043" stroke="#fff" stroke-opacity="0.5" stroke-width="0.3"/>
<rect x="141.81" y="181.8" width="3.42" height="3.0" fill="#ee8a2e" stroke="#fff" stroke-opacity="0.5" stroke-width="0.3"/>
<rect x="145.23" y="181.8" width="3.42" height="3.0" fill="#d4202a" stroke="#fff" stroke-opacity="0.5" stroke-width="0.3"/>
<rect x="148.65" y="181.8" width="3.42" height="3.0" fill="#ee8a2e" stroke="#fff" stroke-opacity="0.5" stroke-width="0.3"/>
<rect x="152.07" y="181.8" width="3.42" height="3.0" fill="#2fa043" stroke="#fff" stroke-opacity="0.5" stroke-width="0.3"/>
<rect x="155.49" y="181.8" width="3.42" height="3.0" fill="#ee8a2e" stroke="#fff" stroke-opacity="0.5" stroke-width="0.3"/>
<rect x="158.91" y="181.8" width="3.42" height="3.0" fill="#6f9fdc" stroke="#fff" stroke-opacity="0.5" stroke-width="0.3"/>
<rect x="164.08" y="181.8" width="3.42" height="3.0" fill="#6f9fdc" stroke="#fff" stroke-opacity="0.5" stroke-width="0.3"/>
<rect x="167.50" y="181.8" width="3.42" height="3.0" fill="#2fa043" stroke="#fff" stroke-opacity="0.5" stroke-width="0.3"/>
<rect x="170.92" y="181.8" width="3.42" height="3.0" fill="#9a9a9a" stroke="#fff" stroke-opacity="0.5" stroke-width="0.3"/>
<rect x="174.34" y="181.8" width="3.42" height="3.0" fill="#ee8a2e" stroke="#fff" stroke-opacity="0.5" stroke-width="0.3"/>
<rect x="177.76" y="181.8" width="3.42" height="3.0" fill="#6f9fdc" stroke="#fff" stroke-opacity="0.5" stroke-width="0.3"/>
<rect x="181.18" y="181.8" width="3.42" height="3.0" fill="#6f9fdc" stroke="#fff" stroke-opacity="0.5" stroke-width="0.3"/>
<rect x="184.60" y="181.8" width="3.42" height="3.0" fill="#d4202a" stroke="#fff" stroke-opacity="0.5" stroke-width="0.3"/>
<rect x="188.02" y="181.8" width="3.42" height="3.0" fill="#6f9fdc" stroke="#fff" stroke-opacity="0.5" stroke-width="0.3"/>
<rect x="191.44" y="181.8" width="3.42" height="3.0" fill="#9a9a9a" stroke="#fff" stroke-opacity="0.5" stroke-width="0.3"/>
<rect x="194.86" y="181.8" width="3.42" height="3.0" fill="#6f9fdc" stroke="#fff" stroke-opacity="0.5" stroke-width="0.3"/>
<rect x="200.03" y="181.8" width="3.42" height="3.0" fill="#ee8a2e" stroke="#fff" stroke-opacity="0.5" stroke-width="0.3"/>
<rect x="203.45" y="181.8" width="3.42" height="3.0" fill="#6f9fdc" stroke="#fff" stroke-opacity="0.5" stroke-width="0.3"/>
<rect x="206.87" y="181.8" width="3.42" height="3.0" fill="#d4202a" stroke="#fff" stroke-opacity="0.5" stroke-width="0.3"/>
<rect x="210.29" y="181.8" width="3.42" height="3.0" fill="#2fa043" stroke="#fff" stroke-opacity="0.5" stroke-width="0.3"/>
<rect x="213.71" y="181.8" width="3.42" height="3.0" fill="#ee8a2e" stroke="#fff" stroke-opacity="0.5" stroke-width="0.3"/>
<rect x="217.13" y="181.8" width="3.42" height="3.0" fill="#6f9fdc" stroke="#fff" stroke-opacity="0.5" stroke-width="0.3"/>
<rect x="220.55" y="181.8" width="3.42" height="3.0" fill="#6f9fdc" stroke="#fff" stroke-opacity="0.5" stroke-width="0.3"/>
<rect x="223.97" y="181.8" width="3.42" height="3.0" fill="#6f9fdc" stroke="#fff" stroke-opacity="0.5" stroke-width="0.3"/>
<rect x="227.39" y="181.8" width="3.42" height="3.0" fill="#6f9fdc" stroke="#fff" stroke-opacity="0.5" stroke-width="0.3"/>
<rect x="230.81" y="181.8" width="3.42" height="3.0" fill="#9a9a9a" stroke="#fff" stroke-opacity="0.5" stroke-width="0.3"/>
<rect x="234.23" y="181.8" width="3.42" height="3.0" fill="#6f9fdc" stroke="#fff" stroke-opacity="0.5" stroke-width="0.3"/>
<rect x="237.65" y="181.8" width="3.42" height="3.0" fill="#6f9fdc" stroke="#fff" stroke-opacity="0.5" stroke-width="0.3"/>
<rect x="241.07" y="181.8" width="3.42" height="3.0" fill="#6f9fdc" stroke="#fff" stroke-opacity="0.5" stroke-width="0.3"/>
<rect x="244.49" y="181.8" width="3.42" height="3.0" fill="#9a9a9a" stroke="#fff" stroke-opacity="0.5" stroke-width="0.3"/>
<rect x="247.91" y="181.8" width="3.42" height="3.0" fill="#6f9fdc" stroke="#fff" stroke-opacity="0.5" stroke-width="0.3"/>
<rect x="251.33" y="181.8" width="3.42" height="3.0" fill="#9a9a9a" stroke="#fff" stroke-opacity="0.5" stroke-width="0.3"/>
<rect x="254.75" y="181.8" width="3.42" height="3.0" fill="#6f9fdc" stroke="#fff" stroke-opacity="0.5" stroke-width="0.3"/>
<rect x="258.17" y="181.8" width="3.42" height="3.0" fill="#6f9fdc" stroke="#fff" stroke-opacity="0.5" stroke-width="0.3"/>
<rect x="261.59" y="181.8" width="3.42" height="3.0" fill="#6f9fdc" stroke="#fff" stroke-opacity="0.5" stroke-width="0.3"/>
<rect x="265.01" y="181.8" width="3.42" height="3.0" fill="#ee8a2e" stroke="#fff" stroke-opacity="0.5" stroke-width="0.3"/>
<rect x="268.43" y="181.8" width="3.42" height="3.0" fill="#1f56a0" stroke="#fff" stroke-opacity="0.5" stroke-width="0.3"/>
<rect x="271.85" y="181.8" width="3.42" height="3.0" fill="#ee8a2e" stroke="#fff" stroke-opacity="0.5" stroke-width="0.3"/>
<rect x="277.02" y="181.8" width="3.42" height="3.0" fill="#6f9fdc" stroke="#fff" stroke-opacity="0.5" stroke-width="0.3"/>
<rect x="280.44" y="181.8" width="3.42" height="3.0" fill="#2fa043" stroke="#fff" stroke-opacity="0.5" stroke-width="0.3"/>
<rect x="283.86" y="181.8" width="3.42" height="3.0" fill="#9a9a9a" stroke="#fff" stroke-opacity="0.5" stroke-width="0.3"/>
<rect x="287.28" y="181.8" width="3.42" height="3.0" fill="#d4202a" stroke="#fff" stroke-opacity="0.5" stroke-width="0.3"/>
<rect x="290.70" y="181.8" width="3.42" height="3.0" fill="#2fa043" stroke="#fff" stroke-opacity="0.5" stroke-width="0.3"/>
<rect x="294.12" y="181.8" width="3.42" height="3.0" fill="#6f9fdc" stroke="#fff" stroke-opacity="0.5" stroke-width="0.3"/>
<rect x="297.54" y="181.8" width="3.42" height="3.0" fill="#6f9fdc" stroke="#fff" stroke-opacity="0.5" stroke-width="0.3"/>
<rect x="300.96" y="181.8" width="3.42" height="3.0" fill="#2fa043" stroke="#fff" stroke-opacity="0.5" stroke-width="0.3"/>
<rect x="304.38" y="181.8" width="3.42" height="3.0" fill="#9a9a9a" stroke="#fff" stroke-opacity="0.5" stroke-width="0.3"/>
<rect x="307.80" y="181.8" width="3.42" height="3.0" fill="#ee8a2e" stroke="#fff" stroke-opacity="0.5" stroke-width="0.3"/>
<rect x="311.22" y="181.8" width="3.42" height="3.0" fill="#2fa043" stroke="#fff" stroke-opacity="0.5" stroke-width="0.3"/>
<rect x="314.64" y="181.8" width="3.42" height="3.0" fill="#9a9a9a" stroke="#fff" stroke-opacity="0.5" stroke-width="0.3"/>
<rect x="318.06" y="181.8" width="3.42" height="3.0" fill="#2fa043" stroke="#fff" stroke-opacity="0.5" stroke-width="0.3"/>
<rect x="321.48" y="181.8" width="3.42" height="3.0" fill="#9a9a9a" stroke="#fff" stroke-opacity="0.5" stroke-width="0.3"/>
<rect x="324.90" y="181.8" width="3.42" height="3.0" fill="#ee8a2e" stroke="#fff" stroke-opacity="0.5" stroke-width="0.3"/>
<rect x="328.32" y="181.8" width="3.42" height="3.0" fill="#ee8a2e" stroke="#fff" stroke-opacity="0.5" stroke-width="0.3"/>
<rect x="331.74" y="181.8" width="3.42" height="3.0" fill="#ee8a2e" stroke="#fff" stroke-opacity="0.5" stroke-width="0.3"/>
<rect x="335.16" y="181.8" width="3.42" height="3.0" fill="#6f9fdc" stroke="#fff" stroke-opacity="0.5" stroke-width="0.3"/>
<rect x="338.58" y="181.8" width="3.42" height="3.0" fill="#ee8a2e" stroke="#fff" stroke-opacity="0.5" stroke-width="0.3"/>
<rect x="342.00" y="181.8" width="3.42" height="3.0" fill="#ee8a2e" stroke="#fff" stroke-opacity="0.5" stroke-width="0.3"/>
<rect x="347.17" y="181.8" width="3.42" height="3.0" fill="#d4202a" stroke="#fff" stroke-opacity="0.5" stroke-width="0.3"/>
<rect x="350.59" y="181.8" width="3.42" height="3.0" fill="#ee8a2e" stroke="#fff" stroke-opacity="0.5" stroke-width="0.3"/>
<rect x="354.01" y="181.8" width="3.42" height="3.0" fill="#6f9fdc" stroke="#fff" stroke-opacity="0.5" stroke-width="0.3"/>
<rect x="357.43" y="181.8" width="3.42" height="3.0" fill="#1f56a0" stroke="#fff" stroke-opacity="0.5" stroke-width="0.3"/>
<rect x="360.85" y="181.8" width="3.42" height="3.0" fill="#9a9a9a" stroke="#fff" stroke-opacity="0.5" stroke-width="0.3"/>
<rect x="364.27" y="181.8" width="3.42" height="3.0" fill="#9a9a9a" stroke="#fff" stroke-opacity="0.5" stroke-width="0.3"/>
<rect x="367.69" y="181.8" width="3.42" height="3.0" fill="#9a9a9a" stroke="#fff" stroke-opacity="0.5" stroke-width="0.3"/>
<rect x="371.11" y="181.8" width="3.42" height="3.0" fill="#6f9fdc" stroke="#fff" stroke-opacity="0.5" stroke-width="0.3"/>
<rect x="374.53" y="181.8" width="3.42" height="3.0" fill="#9a9a9a" stroke="#fff" stroke-opacity="0.5" stroke-width="0.3"/>
<rect x="377.95" y="181.8" width="3.42" height="3.0" fill="#6f9fdc" stroke="#fff" stroke-opacity="0.5" stroke-width="0.3"/>
<rect x="381.37" y="181.8" width="3.42" height="3.0" fill="#d4202a" stroke="#fff" stroke-opacity="0.5" stroke-width="0.3"/>
<rect x="384.79" y="181.8" width="3.42" height="3.0" fill="#d4202a" stroke="#fff" stroke-opacity="0.5" stroke-width="0.3"/>
<rect x="388.21" y="181.8" width="3.42" height="3.0" fill="#2fa043" stroke="#fff" stroke-opacity="0.5" stroke-width="0.3"/>
<rect x="391.63" y="181.8" width="3.42" height="3.0" fill="#ee8a2e" stroke="#fff" stroke-opacity="0.5" stroke-width="0.3"/>
<rect x="395.05" y="181.8" width="3.42" height="3.0" fill="#9a9a9a" stroke="#fff" stroke-opacity="0.5" stroke-width="0.3"/>
<rect x="398.47" y="181.8" width="3.42" height="3.0" fill="#d4202a" stroke="#fff" stroke-opacity="0.5" stroke-width="0.3"/>
<rect x="401.89" y="181.8" width="3.42" height="3.0" fill="#9a9a9a" stroke="#fff" stroke-opacity="0.5" stroke-width="0.3"/>
<rect x="405.31" y="181.8" width="3.42" height="3.0" fill="#ee8a2e" stroke="#fff" stroke-opacity="0.5" stroke-width="0.3"/>
<rect x="408.73" y="181.8" width="3.42" height="3.0" fill="#6f9fdc" stroke="#fff" stroke-opacity="0.5" stroke-width="0.3"/>
<rect x="412.15" y="181.8" width="3.42" height="3.0" fill="#9a9a9a" stroke="#fff" stroke-opacity="0.5" stroke-width="0.3"/>
<rect x="415.57" y="181.8" width="3.42" height="3.0" fill="#ee8a2e" stroke="#fff" stroke-opacity="0.5" stroke-width="0.3"/>
<rect x="418.99" y="181.8" width="3.42" height="3.0" fill="#d4202a" stroke="#fff" stroke-opacity="0.5" stroke-width="0.3"/>
<rect x="422.41" y="181.8" width="3.42" height="3.0" fill="#9a9a9a" stroke="#fff" stroke-opacity="0.5" stroke-width="0.3"/>
<rect x="425.83" y="181.8" width="3.42" height="3.0" fill="#2fa043" stroke="#fff" stroke-opacity="0.5" stroke-width="0.3"/>
<rect x="429.25" y="181.8" width="3.42" height="3.0" fill="#6f9fdc" stroke="#fff" stroke-opacity="0.5" stroke-width="0.3"/>
<rect x="432.67" y="181.8" width="3.42" height="3.0" fill="#9a9a9a" stroke="#fff" stroke-opacity="0.5" stroke-width="0.3"/>
<rect x="436.09" y="181.8" width="3.42" height="3.0" fill="#ee8a2e" stroke="#fff" stroke-opacity="0.5" stroke-width="0.3"/>
<rect x="439.51" y="181.8" width="3.42" height="3.0" fill="#9a9a9a" stroke="#fff" stroke-opacity="0.5" stroke-width="0.3"/>
<rect x="442.93" y="181.8" width="3.42" height="3.0" fill="#d4202a" stroke="#fff" stroke-opacity="0.5" stroke-width="0.3"/>
<rect x="446.35" y="181.8" width="3.42" height="3.0" fill="#2fa043" stroke="#fff" stroke-opacity="0.5" stroke-width="0.3"/>
<rect x="449.77" y="181.8" width="3.42" height="3.0" fill="#9a9a9a" stroke="#fff" stroke-opacity="0.5" stroke-width="0.3"/>
<rect x="453.19" y="181.8" width="3.42" height="3.0" fill="#9a9a9a" stroke="#fff" stroke-opacity="0.5" stroke-width="0.3"/>
<rect x="456.61" y="181.8" width="3.42" height="3.0" fill="#ee8a2e" stroke="#fff" stroke-opacity="0.5" stroke-width="0.3"/>
<rect x="460.03" y="181.8" width="3.42" height="3.0" fill="#6f9fdc" stroke="#fff" stroke-opacity="0.5" stroke-width="0.3"/>
<rect x="23.0" y="185.80" width="3.0" height="3.43" fill="#f0a21e" stroke="#fff" stroke-opacity="0.5" stroke-width="0.3"/>
<rect x="23.0" y="189.23" width="3.0" height="3.43" fill="#3cb43c" stroke="#fff" stroke-opacity="0.5" stroke-width="0.3"/>
<rect x="23.0" y="192.66" width="3.0" height="3.43" fill="#f5d216" stroke="#fff" stroke-opacity="0.5" stroke-width="0.3"/>
<rect x="23.0" y="196.09" width="3.0" height="3.43" fill="#3cb43c" stroke="#fff" stroke-opacity="0.5" stroke-width="0.3"/>
<rect x="23.0" y="199.52" width="3.0" height="3.43" fill="#f0a21e" stroke="#fff" stroke-opacity="0.5" stroke-width="0.3"/>
<rect x="23.0" y="202.95" width="3.0" height="3.43" fill="#f0a21e" stroke="#fff" stroke-opacity="0.5" stroke-width="0.3"/>
<rect x="23.0" y="206.38" width="3.0" height="3.43" fill="#27a9e1" stroke="#fff" stroke-opacity="0.5" stroke-width="0.3"/>
<rect x="23.0" y="209.81" width="3.0" height="3.43" fill="#f5d216" stroke="#fff" stroke-opacity="0.5" stroke-width="0.3"/>
<rect x="23.0" y="213.24" width="3.0" height="3.43" fill="#3cb43c" stroke="#fff" stroke-opacity="0.5" stroke-width="0.3"/>
<rect x="23.0" y="216.67" width="3.0" height="3.43" fill="#3cb43c" stroke="#fff" stroke-opacity="0.5" stroke-width="0.3"/>
<rect x="23.0" y="220.10" width="3.0" height="3.43" fill="#8d9498" stroke="#fff" stroke-opacity="0.5" stroke-width="0.3"/>
<rect x="23.0" y="223.53" width="3.0" height="3.43" fill="#3cb43c" stroke="#fff" stroke-opacity="0.5" stroke-width="0.3"/>
<rect x="23.0" y="228.60" width="3.0" height="3.43" fill="#f5d216" stroke="#fff" stroke-opacity="0.5" stroke-width="0.3"/>
<rect x="23.0" y="232.03" width="3.0" height="3.43" fill="#f5d216" stroke="#fff" stroke-opacity="0.5" stroke-width="0.3"/>
<rect x="23.0" y="235.46" width="3.0" height="3.43" fill="#6e3fa8" stroke="#fff" stroke-opacity="0.5" stroke-width="0.3"/>
<rect x="23.0" y="238.89" width="3.0" height="3.43" fill="#f0a21e" stroke="#fff" stroke-opacity="0.5" stroke-width="0.3"/>
<rect x="23.0" y="242.32" width="3.0" height="3.43" fill="#3cb43c" stroke="#fff" stroke-opacity="0.5" stroke-width="0.3"/>
<rect x="23.0" y="245.75" width="3.0" height="3.43" fill="#f0a21e" stroke="#fff" stroke-opacity="0.5" stroke-width="0.3"/>
<rect x="23.0" y="249.18" width="3.0" height="3.43" fill="#27a9e1" stroke="#fff" stroke-opacity="0.5" stroke-width="0.3"/>
<rect x="23.0" y="252.61" width="3.0" height="3.43" fill="#6e3fa8" stroke="#fff" stroke-opacity="0.5" stroke-width="0.3"/>
<rect x="23.0" y="256.04" width="3.0" height="3.43" fill="#6e3fa8" stroke="#fff" stroke-opacity="0.5" stroke-width="0.3"/>
<rect x="23.0" y="259.47" width="3.0" height="3.43" fill="#f0a21e" stroke="#fff" stroke-opacity="0.5" stroke-width="0.3"/>
<rect x="23.0" y="262.90" width="3.0" height="3.43" fill="#f5d216" stroke="#fff" stroke-opacity="0.5" stroke-width="0.3"/>
<rect x="23.0" y="266.33" width="3.0" height="3.43" fill="#3cb43c" stroke="#fff" stroke-opacity="0.5" stroke-width="0.3"/>
<rect x="23.0" y="271.40" width="3.0" height="3.43" fill="#3cb43c" stroke="#fff" stroke-opacity="0.5" stroke-width="0.3"/>
<rect x="23.0" y="274.83" width="3.0" height="3.43" fill="#3cb43c" stroke="#fff" stroke-opacity="0.5" stroke-width="0.3"/>
<rect x="23.0" y="278.26" width="3.0" height="3.43" fill="#3cb43c" stroke="#fff" stroke-opacity="0.5" stroke-width="0.3"/>
<rect x="23.0" y="281.69" width="3.0" height="3.43" fill="#f0a21e" stroke="#fff" stroke-opacity="0.5" stroke-width="0.3"/>
<rect x="23.0" y="285.12" width="3.0" height="3.43" fill="#e0502a" stroke="#fff" stroke-opacity="0.5" stroke-width="0.3"/>
<rect x="23.0" y="288.55" width="3.0" height="3.43" fill="#3cb43c" stroke="#fff" stroke-opacity="0.5" stroke-width="0.3"/>
<rect x="23.0" y="291.98" width="3.0" height="3.43" fill="#e0502a" stroke="#fff" stroke-opacity="0.5" stroke-width="0.3"/>
<rect x="23.0" y="295.41" width="3.0" height="3.43" fill="#3cb43c" stroke="#fff" stroke-opacity="0.5" stroke-width="0.3"/>
<path d="M28.91 181.30V179.76H32.33V181.30M39.17 181.30V180.59H42.59V181.30M35.75 181.30V178.99H40.88V180.59M38.31 178.99V177.59H46.01V181.30M56.27 181.30V179.86H59.69V181.30M52.85 181.30V178.45H57.98V179.86M49.43 181.30V176.61H55.42V178.45M42.16 177.59V174.87H52.42V176.61M30.62 179.76V173.47H47.29V174.87M66.53 181.30V179.98H69.95V181.30M63.11 181.30V178.32H68.24V179.98M65.67 178.32V176.47H73.37V181.30M83.63 181.30V180.20H87.05V181.30M85.34 180.20V179.57H90.47V181.30M93.89 181.30V179.62H97.31V181.30M87.91 179.57V177.76H95.60V179.62M80.21 181.30V177.12H91.75V177.76M76.79 181.30V175.46H85.98V177.12M69.52 176.47V173.83H81.39V175.46M38.96 173.47V172.80H75.45V173.83M105.90 181.30V180.28H109.32V181.30M102.48 181.30V179.27H107.61V180.28M112.74 181.30V180.03H116.16V181.30M119.58 181.30V180.43H123.00V181.30M129.84 181.30V180.68H133.26V181.30M126.42 181.30V179.39H131.55V180.68M121.29 180.43V178.56H128.99V179.39M136.68 181.30V180.63H140.10V181.30M138.39 180.63V179.86H143.52V181.30M150.36 181.30V180.18H153.78V181.30M146.94 181.30V179.36H152.07V180.18M149.50 179.36V178.45H157.20V181.30M140.95 179.86V177.23H153.35V178.45M125.14 178.56V175.72H147.15V177.23M114.45 180.03V174.77H136.15V175.72M125.30 174.77V173.95H160.62V181.30M105.04 179.27V172.80H142.96V173.95M169.21 181.30V179.76H172.63V181.30M176.05 181.30V180.65H179.47V181.30M170.92 179.76V178.28H177.76V180.65M186.31 181.30V179.66H189.73V181.30M182.89 181.30V178.55H188.02V179.66M193.15 181.30V180.47H196.57V181.30M185.45 178.55V177.12H194.86V180.47M174.34 178.28V175.72H190.16V177.12M165.79 181.30V175.00H182.25V175.72M201.74 181.30V180.38H205.16V181.30M212.00 181.30V180.91H215.42V181.30M208.58 181.30V180.33H213.71V180.91M203.45 180.38V179.94H211.14V180.33M222.26 181.30V180.29H225.68V181.30M218.84 181.30V179.84H223.97V180.29M229.10 181.30V180.38H232.52V181.30M235.94 181.30V180.70H239.36V181.30M242.78 181.30V180.41H246.20V181.30M244.49 180.41V179.53H249.62V181.30M256.46 181.30V180.29H259.88V181.30M253.04 181.30V179.80H258.17V180.29M247.05 179.53V179.01H255.60V179.80M237.65 180.70V178.24H251.33V179.01M230.81 180.38V177.22H244.49V178.24M270.14 181.30V180.33H273.56V181.30M266.72 181.30V179.76H271.85V180.33M263.30 181.30V179.00H269.28V179.76M237.65 177.22V176.39H266.29V179.00M221.40 179.84V175.61H251.97V176.39M207.30 179.94V175.00H236.69V175.61M278.73 181.30V180.82H282.15V181.30M280.44 180.82V179.85H285.57V181.30M288.99 181.30V180.20H292.41V181.30M290.70 180.20V178.96H295.83V181.30M302.67 181.30V180.05H306.09V181.30M304.38 180.05V179.26H309.51V181.30M299.25 181.30V178.36H306.94V179.26M319.77 181.30V180.65H323.19V181.30M316.35 181.30V179.30H321.48V180.65M312.93 181.30V178.53H318.91V179.30M303.10 178.36V177.25H315.92V178.53M326.61 181.30V180.59H330.03V181.30M333.45 181.30V180.29H336.87V181.30M328.32 180.59V179.19H335.16V180.29M331.74 179.19V178.08H340.29V181.30M336.01 178.08V176.92H343.71V181.30M309.51 177.25V176.37H339.86V176.92M293.26 178.96V175.36H324.69V176.37M283.00 179.85V174.00H308.98V175.36M348.88 181.30V180.43H352.30V181.30M359.14 181.30V179.79H362.56V181.30M355.72 181.30V178.60H360.85V179.79M358.28 178.60V177.92H365.98V181.30M350.59 180.43V176.51H362.13V177.92M369.40 181.30V180.74H372.82V181.30M371.11 180.74V180.10H376.24V181.30M373.67 180.10V178.92H379.66V181.30M386.50 181.30V179.83H389.92V181.30M383.08 181.30V178.78H388.21V179.83M376.67 178.92V177.32H385.64V178.78M400.18 181.30V179.91H403.60V181.30M396.76 181.30V178.96H401.89V179.91M407.02 181.30V179.69H410.44V181.30M399.32 178.96V178.34H408.73V179.69M393.34 181.30V176.80H404.03V178.34M417.28 181.30V179.74H420.70V181.30M413.86 181.30V178.92H418.99V179.74M398.68 176.80V176.17H416.42V178.92M424.12 181.30V180.39H427.54V181.30M425.83 180.39V179.46H430.96V181.30M428.39 179.46V178.13H434.38V181.30M441.22 181.30V180.06H444.64V181.30M442.93 180.06V178.65H448.06V181.30M454.90 181.30V179.86H458.32V181.30M451.48 181.30V179.15H456.61V179.86M445.49 178.65V178.04H454.04V179.15M437.80 181.30V176.72H449.77V178.04M431.39 178.13V176.13H443.78V176.72M407.55 176.17V175.28H437.59V176.13M422.57 175.28V174.09H461.74V181.30M381.16 177.32V172.97H442.16V174.09M356.36 176.51V172.00H411.66V172.97M57.21 172.80V168.00H124.00V172.80M174.02 175.00V171.20H221.99V175.00M295.99 174.00V168.80H384.01V172.00M198.01 171.20V166.00H340.00V168.80M90.60 168.00V162.80H269.00V166.00" fill="none" stroke="#666" stroke-width="0.45"/>
<path d="M22.60 187.52H20.46V190.95H22.60M20.46 189.23H17.75V194.38H22.60M17.75 191.80H14.01V197.81H22.60M22.60 208.10H19.13V211.53H22.60M22.60 204.67H16.77V209.81H19.13M22.60 201.24H13.85V207.24H16.77M22.60 214.96H19.11V218.39H22.60M19.11 216.67H17.12V221.82H22.60M17.12 219.24H13.33V225.25H22.60M13.85 204.24H11.45V222.24H13.33M14.01 194.80H9.60V213.24H11.45M22.60 230.31H21.42V233.75H22.60M22.60 237.18H19.97V240.60H22.60M22.60 247.47H21.10V250.90H22.60M22.60 244.03H20.09V249.18H21.10M20.09 246.61H17.49V254.32H22.60M19.97 238.89H15.85V250.47H17.49M22.60 257.75H21.37V261.18H22.60M22.60 264.61H21.61V268.04H22.60M21.37 259.47H19.62V266.33H21.61M15.85 244.68H12.98V262.90H19.62M21.42 232.03H11.40V253.79H12.98M22.60 276.54H18.74V279.97H22.60M22.60 283.40H20.45V286.83H22.60M18.74 278.26H17.07V285.12H20.45M22.60 273.11H14.33V281.69H17.07M22.60 290.26H18.52V293.69H22.60M18.52 291.98H14.48V297.12H22.60M14.33 277.40H11.00V294.55H14.48M11.40 242.91H5.80V285.98H11.00M9.60 204.02H4.40V264.44H5.80" fill="none" stroke="#666" stroke-width="0.45"/>
<text x="464.8" y="188.40" font-size="2.8" fill="#666">SQS</text>
<text x="464.8" y="191.83" font-size="2.8" fill="#666">HMGR</text>
<text x="464.8" y="195.26" font-size="2.8" fill="#666">GGPS</text>
<text x="464.8" y="198.69" font-size="2.8" fill="#666">FPPS</text>
<text x="464.8" y="202.12" font-size="2.8" fill="#666">DXR</text>
<text x="464.8" y="205.55" font-size="2.8" fill="#666">HMGS</text>
<text x="464.8" y="208.98" font-size="2.8" fill="#666">ACAT</text>
<text x="464.8" y="212.41" font-size="2.8" fill="#666">CYP90A1</text>
<text x="464.8" y="215.84" font-size="2.8" fill="#666">IDI</text>
<text x="464.8" y="219.27" font-size="2.8" fill="#666">MK</text>
<text x="464.8" y="222.70" font-size="2.8" fill="#666">GPS</text>
<text x="464.8" y="226.13" font-size="2.8" fill="#666">TPS</text>
<text x="464.8" y="231.20" font-size="2.8" fill="#666">CYP71AV1</text>
<text x="464.8" y="234.63" font-size="2.8" fill="#666">CYP71D55</text>
<text x="464.8" y="238.06" font-size="2.8" fill="#666">CYP716A12</text>
<text x="464.8" y="241.49" font-size="2.8" fill="#666">SMT</text>
<text x="464.8" y="244.92" font-size="2.8" fill="#666">DWF4</text>
<text x="464.8" y="248.35" font-size="2.8" fill="#666">FK</text>
<text x="464.8" y="251.78" font-size="2.8" fill="#666">DET2</text>
<text x="464.8" y="255.21" font-size="2.8" fill="#666">CYP724B1</text>
<text x="464.8" y="258.64" font-size="2.8" fill="#666">Zm-TPS</text>
<text x="464.8" y="262.07" font-size="2.8" fill="#666">CYP720B4</text>
<text x="464.8" y="265.50" font-size="2.8" fill="#666">HDS</text>
<text x="464.8" y="268.93" font-size="2.8" fill="#666">IPK</text>
<text x="464.8" y="274.00" font-size="2.8" fill="#666">HMGR2</text>
<text x="464.8" y="277.43" font-size="2.8" fill="#666">FPS</text>
<text x="464.8" y="280.86" font-size="2.8" fill="#666">DXS</text>
<text x="464.8" y="284.29" font-size="2.8" fill="#666">MVK</text>
<text x="464.8" y="287.72" font-size="2.8" fill="#666">PMK</text>
<text x="464.8" y="291.15" font-size="2.8" fill="#666">CPS</text>
<text x="464.8" y="294.58" font-size="2.8" fill="#666">KS</text>
<text x="464.8" y="298.01" font-size="2.8" fill="#666">KO</text>
<text x="464.6" y="184.6" font-size="3.4" fill="#555">Class</text>
<g font-size="3.2"><text fill="#383838" transform="translate(29.81,301.4) rotate(-50)" text-anchor="end">nipenoal</text><text fill="#383838" transform="translate(33.23,301.4) rotate(-50)" text-anchor="end">morypenoxy</text><text fill="#383838" transform="translate(36.65,301.4) rotate(-50)" text-anchor="end">alxypege</text><text fill="#383838" transform="translate(40.07,301.4) rotate(-50)" text-anchor="end">nigepege</text><text fill="#383838" transform="translate(43.49,301.4) rotate(-50)" text-anchor="end">phylpeallo</text><text fill="#383838" transform="translate(46.91,301.4) rotate(-50)" text-anchor="end">idgeeneal</text><text fill="#383838" transform="translate(50.33,301.4) rotate(-50)" text-anchor="end">gegeniry</text><text fill="#383838" transform="translate(53.75,301.4) rotate(-50)" text-anchor="end">nogeperary</text><text fill="#383838" transform="translate(57.17,301.4) rotate(-50)" text-anchor="end">oxdicigeci</text><text fill="#383838" transform="translate(60.59,301.4) rotate(-50)" text-anchor="end">caneoxphyl</text><text fill="#383838" transform="translate(64.01,301.4) rotate(-50)" text-anchor="end">nadisolci</text><text fill="#383838" transform="translate(67.43,301.4) rotate(-50)" text-anchor="end">idmoxycaoxdi</text><text fill="#383838" transform="translate(70.85,301.4) rotate(-50)" text-anchor="end">pefanooxal</text><text fill="#383838" transform="translate(74.27,301.4) rotate(-50)" text-anchor="end">didinehyrana</text><text fill="#383838" transform="translate(77.69,301.4) rotate(-50)" text-anchor="end">noolnanefa</text><text fill="#383838" transform="translate(81.11,301.4) rotate(-50)" text-anchor="end">enenigefaciene</text><text fill="#383838" transform="translate(84.53,301.4) rotate(-50)" text-anchor="end">hytercihycara</text><text fill="#383838" transform="translate(87.95,301.4) rotate(-50)" text-anchor="end">oxenelosol</text><text fill="#383838" transform="translate(91.37,301.4) rotate(-50)" text-anchor="end">nanocacidro</text><text fill="#3a9a3a" transform="translate(94.79,301.4) rotate(-50)" text-anchor="end">xyalolnexyhy</text><text fill="#383838" transform="translate(98.21,301.4) rotate(-50)" text-anchor="end">phyllonocalo</text><text fill="#383838" transform="translate(103.38,301.4) rotate(-50)" text-anchor="end">nagecaol</text><text fill="#383838" transform="translate(106.80,301.4) rotate(-50)" text-anchor="end">alhyrage</text><text fill="#383838" transform="translate(110.22,301.4) rotate(-50)" text-anchor="end">moranifa</text><text fill="#383838" transform="translate(113.64,301.4) rotate(-50)" text-anchor="end">oxfaaldrodro</text><text fill="#383838" transform="translate(117.06,301.4) rotate(-50)" text-anchor="end">nidropery</text><text fill="#383838" transform="translate(120.48,301.4) rotate(-50)" text-anchor="end">caiddira</text><text fill="#383838" transform="translate(123.90,301.4) rotate(-50)" text-anchor="end">loalidhy</text><text fill="#383838" transform="translate(127.32,301.4) rotate(-50)" text-anchor="end">ryradrolo</text><text fill="#383838" transform="translate(130.74,301.4) rotate(-50)" text-anchor="end">rahynaididna</text><text fill="#383838" transform="translate(134.16,301.4) rotate(-50)" text-anchor="end">naenenoloidsoldisololnanecamoter</text><text fill="#383838" transform="translate(137.58,301.4) rotate(-50)" text-anchor="end">hylonealterox</text><text fill="#383838" transform="translate(141.00,301.4) rotate(-50)" text-anchor="end">noneolmohyca</text><text fill="#383838" transform="translate(144.42,301.4) rotate(-50)" text-anchor="end">aloxmodi</text><text fill="#383838" transform="translate(147.84,301.4) rotate(-50)" text-anchor="end">oxryphyldrosol</text><text fill="#383838" transform="translate(151.26,301.4) rotate(-50)" text-anchor="end">nahysolter</text><text fill="#383838" transform="translate(154.68,301.4) rotate(-50)" text-anchor="end">naolrynerahycisolhyhynophylidphylnary</text><text fill="#383838" transform="translate(158.10,301.4) rotate(-50)" text-anchor="end">raternanihy</text><text fill="#383838" transform="translate(161.52,301.4) rotate(-50)" text-anchor="end">faiddrone</text><text fill="#383838" transform="translate(166.69,301.4) rotate(-50)" text-anchor="end">caxynidino</text><text fill="#383838" transform="translate(170.11,301.4) rotate(-50)" text-anchor="end">drocidrosolnosol</text><text fill="#383838" transform="translate(173.53,301.4) rotate(-50)" text-anchor="end">terlogecinilo</text><text fill="#383838" transform="translate(176.95,301.4) rotate(-50)" text-anchor="end">nafahyloal</text><text fill="#383838" transform="translate(180.37,301.4) rotate(-50)" text-anchor="end">solniidmo</text><text fill="#383838" transform="translate(183.79,301.4) rotate(-50)" text-anchor="end">ryryterol</text><text fill="#383838" transform="translate(187.21,301.4) rotate(-50)" text-anchor="end">oxgediolal</text><text fill="#383838" transform="translate(190.63,301.4) rotate(-50)" text-anchor="end">solhycifa</text><text fill="#383838" transform="translate(194.05,301.4) rotate(-50)" text-anchor="end">xymoloallomo</text><text fill="#383838" transform="translate(197.47,301.4) rotate(-50)" text-anchor="end">oxcarateroxlo</text><text fill="#383838" transform="translate(202.64,301.4) rotate(-50)" text-anchor="end">solidalpedi</text><text fill="#383838" transform="translate(206.06,301.4) rotate(-50)" text-anchor="end">naoxidalpe</text><text fill="#383838" transform="translate(209.48,301.4) rotate(-50)" text-anchor="end">oxidmoci</text><text fill="#383838" transform="translate(212.90,301.4) rotate(-50)" text-anchor="end">nocidiramora</text><text fill="#383838" transform="translate(216.32,301.4) rotate(-50)" text-anchor="end">cimoalnamophyl</text><text fill="#383838" transform="translate(219.74,301.4) rotate(-50)" text-anchor="end">olalryciloxy</text><text fill="#383838" transform="translate(223.16,301.4) rotate(-50)" text-anchor="end">nofaphylxyno</text><text fill="#383838" transform="translate(226.58,301.4) rotate(-50)" text-anchor="end">idoxlone</text><text fill="#383838" transform="translate(230.00,301.4) rotate(-50)" text-anchor="end">ollociphylsol</text><text fill="#383838" transform="translate(233.42,301.4) rotate(-50)" text-anchor="end">nacafaphylcanexymodrodixyryhydi</text><text fill="#383838" transform="translate(236.84,301.4) rotate(-50)" text-anchor="end">dialcicine</text><text fill="#383838" transform="translate(240.26,301.4) rotate(-50)" text-anchor="end">raenemono</text><text fill="#383838" transform="translate(243.68,301.4) rotate(-50)" text-anchor="end">phylidnoololpe</text><text fill="#383838" transform="translate(247.10,301.4) rotate(-50)" text-anchor="end">oxloxyfa</text><text fill="#383838" transform="translate(250.52,301.4) rotate(-50)" text-anchor="end">loalmoge</text><text fill="#383838" transform="translate(253.94,301.4) rotate(-50)" text-anchor="end">olpeneca</text><text fill="#383838" transform="translate(257.36,301.4) rotate(-50)" text-anchor="end">terninool</text><text fill="#383838" transform="translate(260.78,301.4) rotate(-50)" text-anchor="end">noolidciterdi</text><text fill="#383838" transform="translate(264.20,301.4) rotate(-50)" text-anchor="end">olralopemonephylidcaolpecaryene</text><text fill="#383838" transform="translate(267.62,301.4) rotate(-50)" text-anchor="end">ryenecimofa</text><text fill="#4040c0" transform="translate(271.04,301.4) rotate(-50)" text-anchor="end">terolpeterter</text><text fill="#383838" transform="translate(274.46,301.4) rotate(-50)" text-anchor="end">rymonaphylci</text><text fill="#383838" transform="translate(279.63,301.4) rotate(-50)" text-anchor="end">xyfanaaldromo</text><text fill="#383838" transform="translate(283.05,301.4) rotate(-50)" text-anchor="end">phyldiryne</text><text fill="#383838" transform="translate(286.47,301.4) rotate(-50)" text-anchor="end">hypeloter</text><text fill="#383838" transform="translate(289.89,301.4) rotate(-50)" text-anchor="end">olxycapenofa</text><text fill="#383838" transform="translate(293.31,301.4) rotate(-50)" text-anchor="end">faeneraphylneene</text><text fill="#383838" transform="translate(296.73,301.4) rotate(-50)" text-anchor="end">olciterol</text><text fill="#383838" transform="translate(300.15,301.4) rotate(-50)" text-anchor="end">aldiphylpe</text><text fill="#383838" transform="translate(303.57,301.4) rotate(-50)" text-anchor="end">hycaterdidrononaolmoniryphylmo</text><text fill="#383838" transform="translate(306.99,301.4) rotate(-50)" text-anchor="end">nolodroge</text><text fill="#383838" transform="translate(310.41,301.4) rotate(-50)" text-anchor="end">eneniphylno</text><text fill="#383838" transform="translate(313.83,301.4) rotate(-50)" text-anchor="end">oxlofanera</text><text fill="#383838" transform="translate(317.25,301.4) rotate(-50)" text-anchor="end">naloenesol</text><text fill="#383838" transform="translate(320.67,301.4) rotate(-50)" text-anchor="end">nemonixy</text><text fill="#383838" transform="translate(324.09,301.4) rotate(-50)" text-anchor="end">lomooxmogeter</text><text fill="#383838" transform="translate(327.51,301.4) rotate(-50)" text-anchor="end">nefaneniphyl</text><text fill="#383838" transform="translate(330.93,301.4) rotate(-50)" text-anchor="end">nihyiddro</text><text fill="#383838" transform="translate(334.35,301.4) rotate(-50)" text-anchor="end">niternialfa</text><text fill="#383838" transform="translate(337.77,301.4) rotate(-50)" text-anchor="end">cinosolmo</text><text fill="#383838" transform="translate(341.19,301.4) rotate(-50)" text-anchor="end">monosolsol</text><text fill="#383838" transform="translate(344.61,301.4) rotate(-50)" text-anchor="end">olphylsoloxryphyl</text><text fill="#383838" transform="translate(349.78,301.4) rotate(-50)" text-anchor="end">nadrononafaene</text><text fill="#383838" transform="translate(353.20,301.4) rotate(-50)" text-anchor="end">nirynoralo</text><text fill="#383838" transform="translate(356.62,301.4) rotate(-50)" text-anchor="end">neeneragelo</text><text fill="#383838" transform="translate(360.04,301.4) rotate(-50)" text-anchor="end">olfaidne</text><text fill="#383838" transform="translate(363.46,301.4) rotate(-50)" text-anchor="end">nemoenecici</text><text fill="#383838" transform="translate(366.88,301.4) rotate(-50)" text-anchor="end">alryeneno</text><text fill="#3a9a3a" transform="translate(370.30,301.4) rotate(-50)" text-anchor="end">cinomoci</text><text fill="#383838" transform="translate(373.72,301.4) rotate(-50)" text-anchor="end">rynogenolosolmoolhyloranimool</text><text fill="#383838" transform="translate(377.14,301.4) rotate(-50)" text-anchor="end">phylnanadroterca</text><text fill="#383838" transform="translate(380.56,301.4) rotate(-50)" text-anchor="end">cidroenesollo</text><text fill="#383838" transform="translate(383.98,301.4) rotate(-50)" text-anchor="end">idditerdiox</text><text fill="#383838" transform="translate(387.40,301.4) rotate(-50)" text-anchor="end">rynetersolene</text><text fill="#383838" transform="translate(390.82,301.4) rotate(-50)" text-anchor="end">drogenohy</text><text fill="#383838" transform="translate(394.24,301.4) rotate(-50)" text-anchor="end">peolidpefaene</text><text fill="#383838" transform="translate(397.66,301.4) rotate(-50)" text-anchor="end">olxymodi</text><text fill="#383838" transform="translate(401.08,301.4) rotate(-50)" text-anchor="end">xyteroxnidro</text><text fill="#383838" transform="translate(404.50,301.4) rotate(-50)" text-anchor="end">alrysolnopesol</text><text fill="#383838" transform="translate(407.92,301.4) rotate(-50)" text-anchor="end">lonienenape</text><text fill="#383838" transform="translate(411.34,301.4) rotate(-50)" text-anchor="end">canaxydiene</text><text fill="#383838" transform="translate(414.76,301.4) rotate(-50)" text-anchor="end">nioldroniphylene</text><text fill="#383838" transform="translate(418.18,301.4) rotate(-50)" text-anchor="end">idcanicanory</text><text fill="#383838" transform="translate(421.60,301.4) rotate(-50)" text-anchor="end">alphylcidioxci</text><text fill="#383838" transform="translate(425.02,301.4) rotate(-50)" text-anchor="end">phylnocadial</text><text fill="#383838" transform="translate(428.44,301.4) rotate(-50)" text-anchor="end">olgeryter</text><text fill="#383838" transform="translate(431.86,301.4) rotate(-50)" text-anchor="end">xysolmorydro</text><text fill="#383838" transform="translate(435.28,301.4) rotate(-50)" text-anchor="end">naolgehylofa</text><text fill="#383838" transform="translate(438.70,301.4) rotate(-50)" text-anchor="end">rynoolphyldro</text><text fill="#383838" transform="translate(442.12,301.4) rotate(-50)" text-anchor="end">eneterlopexy</text><text fill="#383838" transform="translate(445.54,301.4) rotate(-50)" text-anchor="end">nagenaternodro</text><text fill="#383838" transform="translate(448.96,301.4) rotate(-50)" text-anchor="end">mociciphylidphyl</text><text fill="#383838" transform="translate(452.38,301.4) rotate(-50)" text-anchor="end">faidsolneni</text><text fill="#383838" transform="translate(455.80,301.4) rotate(-50)" text-anchor="end">noaloxpeterlo</text><text fill="#383838" transform="translate(459.22,301.4) rotate(-50)" text-anchor="end">nineeneloniol</text><text fill="#383838" transform="translate(462.64,301.4) rotate(-50)" text-anchor="end">oxididnoene</text></g>
<defs><linearGradient id="cb" x1="0" y1="0" x2="0" y2="1"><stop offset="0" stop-color="#d73027"/><stop offset="0.15" stop-color="#f46d43"/><stop offset="0.3" stop-color="#fdae61"/><stop offset="0.42" stop-color="#fee090"/><stop offset="0.5" stop-color="#ffffbf"/><stop offset="0.6" stop-color="#e0f3f8"/><stop offset="0.75" stop-color="#abd9e9"/><stop offset="0.88" stop-color="#74add1"/><stop offset="1" stop-color="#4575b4"/></linearGradient></defs>
<rect x="483.6" y="181.2" width="3.1" height="51" fill="url(#cb)"/>
<text x="488.4" y="195.3" font-size="3.3" fill="#555">0.5</text>
<text x="488.4" y="209.0" font-size="3.3" fill="#555">0</text>
<text x="488.0" y="222.8" font-size="3.3" fill="#555">-0.5</text>
<text x="495.2" y="184.0" font-size="3.5" fill="#444">Class</text>
<rect x="495.4" y="185.10" width="4.6" height="4.6" fill="#1f56a0" stroke="#fff" stroke-width="0.3"/>
<text x="501.2" y="188.50" font-size="3.3" fill="#666">Zeatin</text>
<rect x="495.4" y="189.98" width="4.6" height="4.6" fill="#d4202a" stroke="#fff" stroke-width="0.3"/>
<text x="501.2" y="193.38" font-size="3.3" fill="#666">Monoterpenoids</text>
<rect x="495.4" y="194.86" width="4.6" height="4.6" fill="#2fa043" stroke="#fff" stroke-width="0.3"/>
<text x="501.2" y="198.26" font-size="3.3" fill="#666">Sesquiterpenoids</text>
<rect x="495.4" y="199.74" width="4.6" height="4.6" fill="#9a9a9a" stroke="#fff" stroke-width="0.3"/>
<text x="501.2" y="203.14" font-size="3.3" fill="#666">Diterpenoids</text>
<rect x="495.4" y="204.62" width="4.6" height="4.6" fill="#ee8a2e" stroke="#fff" stroke-width="0.3"/>
<text x="501.2" y="208.02" font-size="3.3" fill="#666">Triterpenoids</text>
<rect x="495.4" y="209.50" width="4.6" height="4.6" fill="#6f9fdc" stroke="#fff" stroke-width="0.3"/>
<text x="501.2" y="212.90" font-size="3.3" fill="#666">Steroids</text>
<text x="495.2" y="220.3" font-size="3.5" fill="#444">Pathway</text>
<rect x="495.4" y="221.80" width="4.6" height="4.6" fill="#8d9498" stroke="#fff" stroke-width="0.3"/>
<text x="501.2" y="225.20" font-size="3.3" fill="#666">Monoterpenoid biosynthesis</text>
<rect x="495.4" y="226.68" width="4.6" height="4.6" fill="#6e3fa8" stroke="#fff" stroke-width="0.3"/>
<text x="501.2" y="230.08" font-size="3.3" fill="#666">Zeatin biosynthesis</text>
<rect x="495.4" y="231.56" width="4.6" height="4.6" fill="#27a9e1" stroke="#fff" stroke-width="0.3"/>
<text x="501.2" y="234.96" font-size="3.3" fill="#666">Sesquiterpenoid biosynthesis</text>
<rect x="495.4" y="236.44" width="4.6" height="4.6" fill="#3cb43c" stroke="#fff" stroke-width="0.3"/>
<text x="501.2" y="239.84" font-size="3.3" fill="#666">Steroid biosynthesis</text>
<rect x="495.4" y="241.32" width="4.6" height="4.6" fill="#f5d216" stroke="#fff" stroke-width="0.3"/>
<text x="501.2" y="244.72" font-size="3.3" fill="#666">Diterpenoid biosynthesis</text>
<rect x="495.4" y="246.20" width="4.6" height="4.6" fill="#f0a21e" stroke="#fff" stroke-width="0.3"/>
<text x="501.2" y="249.60" font-size="3.3" fill="#666">Terpenoid backbone biosynthesis</text>
<rect x="495.4" y="251.08" width="4.6" height="4.6" fill="#e0502a" stroke="#fff" stroke-width="0.3"/>
<text x="501.2" y="254.48" font-size="3.3" fill="#666">Triterpenoid biosynthesis</text>
</svg></body></html>
